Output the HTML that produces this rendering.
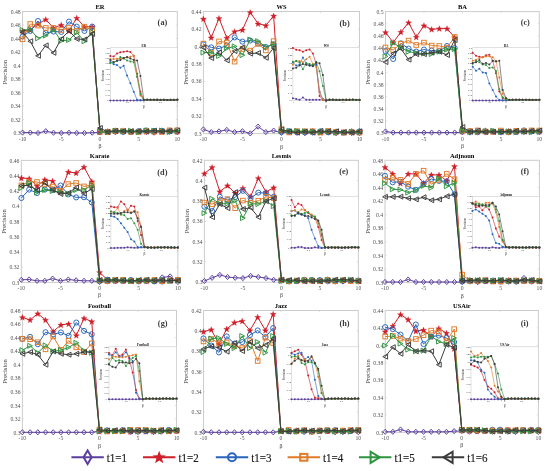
<!DOCTYPE html><html><head><meta charset="utf-8"><style>
html,body{margin:0;padding:0;background:#fff;}svg{display:block;will-change:transform;}
text{font-family:"Liberation Serif",serif;}
.tk{font-size:5.7px;fill:#505050;}
.ttl{font-size:6.5px;font-weight:bold;fill:#000;}
.let{font-size:7.4px;font-weight:bold;fill:#3a3a3a;}
.yl{font-size:6.6px;fill:#3a3a3a;}
.bl{font-size:5.9px;fill:#444;}
.itk{font-size:2.4px;fill:#333;}
.ittl{font-size:3.3px;font-weight:bold;fill:#111;}
.iyl{font-size:3.0px;fill:#333;}
.ibl{font-size:3.8px;fill:#333;}
.lg{font-size:11px;fill:#1a1a1a;stroke:#1a1a1a;stroke-width:0.15px;}
</style></head><body>
<svg width="550" height="471" viewBox="0 0 550 471">
<rect width="550" height="471" fill="#fff"/>
<text transform="translate(20.65,135.20) scale(1,1.12)" text-anchor="end" class="tk">0.3</text>
<text transform="translate(20.65,121.70) scale(1,1.12)" text-anchor="end" class="tk">0.32</text>
<path d="M22.55,119.50h1.6M177.30,119.50h-1.6" stroke="#cccccc" stroke-width="0.6"/>
<text transform="translate(20.65,108.20) scale(1,1.12)" text-anchor="end" class="tk">0.34</text>
<path d="M22.55,106.00h1.6M177.30,106.00h-1.6" stroke="#cccccc" stroke-width="0.6"/>
<text transform="translate(20.65,94.70) scale(1,1.12)" text-anchor="end" class="tk">0.36</text>
<path d="M22.55,92.50h1.6M177.30,92.50h-1.6" stroke="#cccccc" stroke-width="0.6"/>
<text transform="translate(20.65,81.20) scale(1,1.12)" text-anchor="end" class="tk">0.38</text>
<path d="M22.55,79.00h1.6M177.30,79.00h-1.6" stroke="#cccccc" stroke-width="0.6"/>
<text transform="translate(20.65,67.70) scale(1,1.12)" text-anchor="end" class="tk">0.4</text>
<path d="M22.55,65.50h1.6M177.30,65.50h-1.6" stroke="#cccccc" stroke-width="0.6"/>
<text transform="translate(20.65,54.20) scale(1,1.12)" text-anchor="end" class="tk">0.42</text>
<path d="M22.55,52.00h1.6M177.30,52.00h-1.6" stroke="#cccccc" stroke-width="0.6"/>
<text transform="translate(20.65,40.70) scale(1,1.12)" text-anchor="end" class="tk">0.44</text>
<path d="M22.55,38.50h1.6M177.30,38.50h-1.6" stroke="#cccccc" stroke-width="0.6"/>
<text transform="translate(20.65,27.20) scale(1,1.12)" text-anchor="end" class="tk">0.46</text>
<path d="M22.55,25.00h1.6M177.30,25.00h-1.6" stroke="#cccccc" stroke-width="0.6"/>
<text transform="translate(20.65,13.70) scale(1,1.12)" text-anchor="end" class="tk">0.48</text>
<text transform="translate(22.55,140.70) scale(1,1.12)" text-anchor="middle" class="tk">-10</text>
<text transform="translate(61.24,140.70) scale(1,1.12)" text-anchor="middle" class="tk">-5</text>
<path d="M61.24,133.00v-1.6M61.24,11.50v1.6" stroke="#cccccc" stroke-width="0.6"/>
<text transform="translate(99.92,140.70) scale(1,1.12)" text-anchor="middle" class="tk">0</text>
<path d="M99.92,133.00v-1.6M99.92,11.50v1.6" stroke="#cccccc" stroke-width="0.6"/>
<text transform="translate(138.61,140.70) scale(1,1.12)" text-anchor="middle" class="tk">5</text>
<path d="M138.61,133.00v-1.6M138.61,11.50v1.6" stroke="#cccccc" stroke-width="0.6"/>
<text transform="translate(177.30,140.70) scale(1,1.12)" text-anchor="middle" class="tk">10</text>
<rect x="22.55" y="11.50" width="154.75" height="121.50" fill="none" stroke="#cccccc" stroke-width="1.0"/>
<text x="99.92" y="8.90" text-anchor="middle" class="ttl">ER</text>
<text transform="translate(162.45,24.65) scale(1.12,1)" text-anchor="middle" class="let">(a)</text>
<text transform="translate(7.35,72.25) rotate(-90)" text-anchor="middle" class="yl">Precision</text>
<text x="99.92" y="148.00" text-anchor="middle" class="bl">&#946;</text>
<path d="M22.55,132.60L30.29,132.60L38.03,133.00L45.76,131.20L53.50,132.70L61.24,133.00L68.97,132.70L76.71,133.00L84.45,133.00L92.19,132.70L99.92,132.47L107.66,131.73L115.40,132.25L123.14,131.69L130.88,131.74L138.61,132.01L146.35,132.03L154.09,132.65L161.83,131.63L169.56,131.72L177.30,132.26" fill="none" stroke="#5b3f9e" stroke-width="1.0" stroke-linejoin="round"/>
<path d="M22.55,130.00L24.85,132.60L22.55,135.20L20.25,132.60Z" fill="none" stroke="#5b3f9e" stroke-width="0.95"/><path d="M30.29,130.00L32.59,132.60L30.29,135.20L27.99,132.60Z" fill="none" stroke="#5b3f9e" stroke-width="0.95"/><path d="M38.03,130.40L40.33,133.00L38.03,135.60L35.73,133.00Z" fill="none" stroke="#5b3f9e" stroke-width="0.95"/><path d="M45.76,128.60L48.06,131.20L45.76,133.80L43.46,131.20Z" fill="none" stroke="#5b3f9e" stroke-width="0.95"/><path d="M53.50,130.10L55.80,132.70L53.50,135.30L51.20,132.70Z" fill="none" stroke="#5b3f9e" stroke-width="0.95"/><path d="M61.24,130.40L63.54,133.00L61.24,135.60L58.94,133.00Z" fill="none" stroke="#5b3f9e" stroke-width="0.95"/><path d="M68.97,130.10L71.27,132.70L68.97,135.30L66.67,132.70Z" fill="none" stroke="#5b3f9e" stroke-width="0.95"/><path d="M76.71,130.40L79.01,133.00L76.71,135.60L74.41,133.00Z" fill="none" stroke="#5b3f9e" stroke-width="0.95"/><path d="M84.45,130.40L86.75,133.00L84.45,135.60L82.15,133.00Z" fill="none" stroke="#5b3f9e" stroke-width="0.95"/><path d="M92.19,130.10L94.49,132.70L92.19,135.30L89.89,132.70Z" fill="none" stroke="#5b3f9e" stroke-width="0.95"/><path d="M99.92,129.87L102.22,132.47L99.92,135.07L97.62,132.47Z" fill="none" stroke="#5b3f9e" stroke-width="0.95"/><path d="M107.66,129.13L109.96,131.73L107.66,134.33L105.36,131.73Z" fill="none" stroke="#5b3f9e" stroke-width="0.95"/><path d="M115.40,129.65L117.70,132.25L115.40,134.85L113.10,132.25Z" fill="none" stroke="#5b3f9e" stroke-width="0.95"/><path d="M123.14,129.09L125.44,131.69L123.14,134.29L120.84,131.69Z" fill="none" stroke="#5b3f9e" stroke-width="0.95"/><path d="M130.88,129.14L133.18,131.74L130.88,134.34L128.57,131.74Z" fill="none" stroke="#5b3f9e" stroke-width="0.95"/><path d="M138.61,129.41L140.91,132.01L138.61,134.61L136.31,132.01Z" fill="none" stroke="#5b3f9e" stroke-width="0.95"/><path d="M146.35,129.43L148.65,132.03L146.35,134.63L144.05,132.03Z" fill="none" stroke="#5b3f9e" stroke-width="0.95"/><path d="M154.09,130.05L156.39,132.65L154.09,135.25L151.79,132.65Z" fill="none" stroke="#5b3f9e" stroke-width="0.95"/><path d="M161.83,129.03L164.13,131.63L161.83,134.23L159.53,131.63Z" fill="none" stroke="#5b3f9e" stroke-width="0.95"/><path d="M169.56,129.12L171.86,131.72L169.56,134.32L167.26,131.72Z" fill="none" stroke="#5b3f9e" stroke-width="0.95"/><path d="M177.30,129.66L179.60,132.26L177.30,134.86L175.00,132.26Z" fill="none" stroke="#5b3f9e" stroke-width="0.95"/>
<path d="M22.55,30.94L30.29,29.99L38.03,23.99L45.76,19.46L53.50,27.97L61.24,25.00L68.97,30.94L76.71,18.05L84.45,26.96L92.19,26.69L99.92,131.97L107.66,131.31L115.40,130.89L123.14,130.62L130.88,131.66L138.61,131.55L146.35,131.65L154.09,131.36L161.83,131.76L169.56,130.55L177.30,131.68" fill="none" stroke="#cf1f2a" stroke-width="1.0" stroke-linejoin="round"/>
<polygon points="22.55,28.04 23.34,30.15 25.59,30.25 23.83,31.66 24.43,33.83 22.55,32.59 20.67,33.83 21.27,31.66 19.51,30.25 21.76,30.15" fill="#cf1f2a" stroke="#cf1f2a" stroke-width="0.3"/><polygon points="30.29,27.09 31.08,29.20 33.33,29.31 31.57,30.71 32.17,32.88 30.29,31.64 28.41,32.88 29.00,30.71 27.24,29.31 29.49,29.20" fill="#cf1f2a" stroke="#cf1f2a" stroke-width="0.3"/><polygon points="38.03,21.09 38.82,23.20 41.07,23.30 39.31,24.70 39.91,26.88 38.03,25.64 36.14,26.88 36.74,24.70 34.98,23.30 37.23,23.20" fill="#cf1f2a" stroke="#cf1f2a" stroke-width="0.3"/><polygon points="45.76,16.56 46.56,18.67 48.81,18.78 47.05,20.18 47.64,22.35 45.76,21.11 43.88,22.35 44.48,20.18 42.72,18.78 44.97,18.67" fill="#cf1f2a" stroke="#cf1f2a" stroke-width="0.3"/><polygon points="53.50,25.07 54.29,27.18 56.54,27.28 54.78,28.69 55.38,30.86 53.50,29.62 51.62,30.86 52.22,28.69 50.46,27.28 52.71,27.18" fill="#cf1f2a" stroke="#cf1f2a" stroke-width="0.3"/><polygon points="61.24,22.10 62.03,24.21 64.28,24.31 62.52,25.72 63.12,27.89 61.24,26.65 59.36,27.89 59.95,25.72 58.19,24.31 60.44,24.21" fill="#cf1f2a" stroke="#cf1f2a" stroke-width="0.3"/><polygon points="68.97,28.04 69.77,30.15 72.02,30.25 70.26,31.66 70.86,33.83 68.97,32.59 67.09,33.83 67.69,31.66 65.93,30.25 68.18,30.15" fill="#cf1f2a" stroke="#cf1f2a" stroke-width="0.3"/><polygon points="76.71,15.15 77.51,17.26 79.76,17.36 78.00,18.76 78.59,20.94 76.71,19.70 74.83,20.94 75.43,18.76 73.67,17.36 75.92,17.26" fill="#cf1f2a" stroke="#cf1f2a" stroke-width="0.3"/><polygon points="84.45,24.06 85.24,26.17 87.49,26.27 85.73,27.67 86.33,29.85 84.45,28.61 82.57,29.85 83.17,27.67 81.41,26.27 83.66,26.17" fill="#cf1f2a" stroke="#cf1f2a" stroke-width="0.3"/><polygon points="92.19,23.79 92.98,25.90 95.23,26.00 93.47,27.40 94.07,29.58 92.19,28.34 90.31,29.58 90.90,27.40 89.14,26.00 91.39,25.90" fill="#cf1f2a" stroke="#cf1f2a" stroke-width="0.3"/><polygon points="99.92,129.07 100.72,131.18 102.97,131.28 101.21,132.69 101.81,134.86 99.92,133.62 98.04,134.86 98.64,132.69 96.88,131.28 99.13,131.18" fill="#cf1f2a" stroke="#cf1f2a" stroke-width="0.3"/><polygon points="107.66,128.41 108.46,130.52 110.71,130.62 108.95,132.03 109.54,134.20 107.66,132.96 105.78,134.20 106.38,132.03 104.62,130.62 106.87,130.52" fill="#cf1f2a" stroke="#cf1f2a" stroke-width="0.3"/><polygon points="115.40,127.99 116.19,130.10 118.44,130.20 116.68,131.61 117.28,133.78 115.40,132.54 113.52,133.78 114.12,131.61 112.36,130.20 114.61,130.10" fill="#cf1f2a" stroke="#cf1f2a" stroke-width="0.3"/><polygon points="123.14,127.72 123.93,129.83 126.18,129.93 124.42,131.34 125.02,133.51 123.14,132.27 121.26,133.51 121.85,131.34 120.09,129.93 122.34,129.83" fill="#cf1f2a" stroke="#cf1f2a" stroke-width="0.3"/><polygon points="130.88,128.76 131.67,130.87 133.92,130.98 132.16,132.38 132.76,134.55 130.88,133.31 128.99,134.55 129.59,132.38 127.83,130.98 130.08,130.87" fill="#cf1f2a" stroke="#cf1f2a" stroke-width="0.3"/><polygon points="138.61,128.65 139.41,130.76 141.66,130.86 139.90,132.27 140.49,134.44 138.61,133.20 136.73,134.44 137.33,132.27 135.57,130.86 137.82,130.76" fill="#cf1f2a" stroke="#cf1f2a" stroke-width="0.3"/><polygon points="146.35,128.75 147.14,130.85 149.39,130.96 147.63,132.36 148.23,134.53 146.35,133.30 144.47,134.53 145.07,132.36 143.31,130.96 145.56,130.85" fill="#cf1f2a" stroke="#cf1f2a" stroke-width="0.3"/><polygon points="154.09,128.46 154.88,130.57 157.13,130.67 155.37,132.08 155.97,134.25 154.09,133.01 152.21,134.25 152.80,132.08 151.04,130.67 153.29,130.57" fill="#cf1f2a" stroke="#cf1f2a" stroke-width="0.3"/><polygon points="161.83,128.86 162.62,130.97 164.87,131.07 163.11,132.48 163.71,134.65 161.83,133.41 159.94,134.65 160.54,132.48 158.78,131.07 161.03,130.97" fill="#cf1f2a" stroke="#cf1f2a" stroke-width="0.3"/><polygon points="169.56,127.65 170.36,129.75 172.61,129.86 170.85,131.26 171.44,133.44 169.56,132.20 167.68,133.44 168.28,131.26 166.52,129.86 168.77,129.75" fill="#cf1f2a" stroke="#cf1f2a" stroke-width="0.3"/><polygon points="177.30,128.78 178.09,130.89 180.34,130.99 178.58,132.40 179.18,134.57 177.30,133.33 175.42,134.57 176.02,132.40 174.26,130.99 176.51,130.89" fill="#cf1f2a" stroke="#cf1f2a" stroke-width="0.3"/>
<path d="M22.55,36.54L30.29,30.94L38.03,21.02L45.76,32.97L53.50,31.55L61.24,31.95L68.97,21.62L76.71,26.62L84.45,30.94L92.19,26.62L99.92,131.12L107.66,131.98L115.40,130.75L123.14,131.90L130.88,131.98L138.61,131.14L146.35,130.47L154.09,130.98L161.83,130.76L169.56,131.28L177.30,130.34" fill="none" stroke="#2865bb" stroke-width="1.0" stroke-linejoin="round"/>
<circle cx="22.55" cy="36.54" r="2.55" fill="none" stroke="#2865bb" stroke-width="0.95"/><circle cx="30.29" cy="30.94" r="2.55" fill="none" stroke="#2865bb" stroke-width="0.95"/><circle cx="38.03" cy="21.02" r="2.55" fill="none" stroke="#2865bb" stroke-width="0.95"/><circle cx="45.76" cy="32.97" r="2.55" fill="none" stroke="#2865bb" stroke-width="0.95"/><circle cx="53.50" cy="31.55" r="2.55" fill="none" stroke="#2865bb" stroke-width="0.95"/><circle cx="61.24" cy="31.95" r="2.55" fill="none" stroke="#2865bb" stroke-width="0.95"/><circle cx="68.97" cy="21.62" r="2.55" fill="none" stroke="#2865bb" stroke-width="0.95"/><circle cx="76.71" cy="26.62" r="2.55" fill="none" stroke="#2865bb" stroke-width="0.95"/><circle cx="84.45" cy="30.94" r="2.55" fill="none" stroke="#2865bb" stroke-width="0.95"/><circle cx="92.19" cy="26.62" r="2.55" fill="none" stroke="#2865bb" stroke-width="0.95"/><circle cx="99.92" cy="131.12" r="2.55" fill="none" stroke="#2865bb" stroke-width="0.95"/><circle cx="107.66" cy="131.98" r="2.55" fill="none" stroke="#2865bb" stroke-width="0.95"/><circle cx="115.40" cy="130.75" r="2.55" fill="none" stroke="#2865bb" stroke-width="0.95"/><circle cx="123.14" cy="131.90" r="2.55" fill="none" stroke="#2865bb" stroke-width="0.95"/><circle cx="130.88" cy="131.98" r="2.55" fill="none" stroke="#2865bb" stroke-width="0.95"/><circle cx="138.61" cy="131.14" r="2.55" fill="none" stroke="#2865bb" stroke-width="0.95"/><circle cx="146.35" cy="130.47" r="2.55" fill="none" stroke="#2865bb" stroke-width="0.95"/><circle cx="154.09" cy="130.98" r="2.55" fill="none" stroke="#2865bb" stroke-width="0.95"/><circle cx="161.83" cy="130.76" r="2.55" fill="none" stroke="#2865bb" stroke-width="0.95"/><circle cx="169.56" cy="131.28" r="2.55" fill="none" stroke="#2865bb" stroke-width="0.95"/><circle cx="177.30" cy="130.34" r="2.55" fill="none" stroke="#2865bb" stroke-width="0.95"/>
<path d="M22.55,39.31L30.29,23.99L38.03,25.61L45.76,27.97L53.50,27.97L61.24,29.99L68.97,27.97L76.71,30.94L84.45,26.62L92.19,29.99L99.92,131.67L107.66,132.06L115.40,131.05L123.14,131.19L130.88,131.74L138.61,131.96L146.35,131.03L154.09,131.66L161.83,131.85L169.56,130.34L177.30,130.34" fill="none" stroke="#e07b2a" stroke-width="1.0" stroke-linejoin="round"/>
<rect x="20.25" y="37.01" width="4.60" height="4.60" fill="none" stroke="#e07b2a" stroke-width="0.95"/><rect x="27.99" y="21.69" width="4.60" height="4.60" fill="none" stroke="#e07b2a" stroke-width="0.95"/><rect x="35.73" y="23.31" width="4.60" height="4.60" fill="none" stroke="#e07b2a" stroke-width="0.95"/><rect x="43.46" y="25.67" width="4.60" height="4.60" fill="none" stroke="#e07b2a" stroke-width="0.95"/><rect x="51.20" y="25.67" width="4.60" height="4.60" fill="none" stroke="#e07b2a" stroke-width="0.95"/><rect x="58.94" y="27.69" width="4.60" height="4.60" fill="none" stroke="#e07b2a" stroke-width="0.95"/><rect x="66.67" y="25.67" width="4.60" height="4.60" fill="none" stroke="#e07b2a" stroke-width="0.95"/><rect x="74.41" y="28.64" width="4.60" height="4.60" fill="none" stroke="#e07b2a" stroke-width="0.95"/><rect x="82.15" y="24.32" width="4.60" height="4.60" fill="none" stroke="#e07b2a" stroke-width="0.95"/><rect x="89.89" y="27.69" width="4.60" height="4.60" fill="none" stroke="#e07b2a" stroke-width="0.95"/><rect x="97.62" y="129.37" width="4.60" height="4.60" fill="none" stroke="#e07b2a" stroke-width="0.95"/><rect x="105.36" y="129.76" width="4.60" height="4.60" fill="none" stroke="#e07b2a" stroke-width="0.95"/><rect x="113.10" y="128.75" width="4.60" height="4.60" fill="none" stroke="#e07b2a" stroke-width="0.95"/><rect x="120.84" y="128.89" width="4.60" height="4.60" fill="none" stroke="#e07b2a" stroke-width="0.95"/><rect x="128.57" y="129.44" width="4.60" height="4.60" fill="none" stroke="#e07b2a" stroke-width="0.95"/><rect x="136.31" y="129.66" width="4.60" height="4.60" fill="none" stroke="#e07b2a" stroke-width="0.95"/><rect x="144.05" y="128.73" width="4.60" height="4.60" fill="none" stroke="#e07b2a" stroke-width="0.95"/><rect x="151.79" y="129.36" width="4.60" height="4.60" fill="none" stroke="#e07b2a" stroke-width="0.95"/><rect x="159.53" y="129.55" width="4.60" height="4.60" fill="none" stroke="#e07b2a" stroke-width="0.95"/><rect x="167.26" y="128.04" width="4.60" height="4.60" fill="none" stroke="#e07b2a" stroke-width="0.95"/><rect x="175.00" y="128.04" width="4.60" height="4.60" fill="none" stroke="#e07b2a" stroke-width="0.95"/>
<path d="M22.55,29.99L30.29,29.59L38.03,38.30L45.76,35.53L53.50,29.99L61.24,40.86L68.97,39.92L76.71,32.56L84.45,41.27L92.19,31.95L99.92,131.82L107.66,132.08L115.40,130.77L123.14,131.25L130.88,130.76L138.61,132.01L146.35,130.44L154.09,130.78L161.83,130.50L169.56,132.02L177.30,131.14" fill="none" stroke="#2e9440" stroke-width="1.0" stroke-linejoin="round"/>
<path d="M24.95,29.99L20.15,27.49L20.15,32.49Z" fill="none" stroke="#2e9440" stroke-width="0.95"/><path d="M32.69,29.59L27.89,27.09L27.89,32.09Z" fill="none" stroke="#2e9440" stroke-width="0.95"/><path d="M40.43,38.30L35.63,35.80L35.63,40.80Z" fill="none" stroke="#2e9440" stroke-width="0.95"/><path d="M48.16,35.53L43.36,33.03L43.36,38.03Z" fill="none" stroke="#2e9440" stroke-width="0.95"/><path d="M55.90,29.99L51.10,27.49L51.10,32.49Z" fill="none" stroke="#2e9440" stroke-width="0.95"/><path d="M63.64,40.86L58.84,38.36L58.84,43.36Z" fill="none" stroke="#2e9440" stroke-width="0.95"/><path d="M71.38,39.92L66.57,37.42L66.57,42.42Z" fill="none" stroke="#2e9440" stroke-width="0.95"/><path d="M79.11,32.56L74.31,30.06L74.31,35.06Z" fill="none" stroke="#2e9440" stroke-width="0.95"/><path d="M86.85,41.27L82.05,38.77L82.05,43.77Z" fill="none" stroke="#2e9440" stroke-width="0.95"/><path d="M94.59,31.95L89.79,29.45L89.79,34.45Z" fill="none" stroke="#2e9440" stroke-width="0.95"/><path d="M102.33,131.82L97.52,129.32L97.52,134.32Z" fill="none" stroke="#2e9440" stroke-width="0.95"/><path d="M110.06,132.08L105.26,129.58L105.26,134.58Z" fill="none" stroke="#2e9440" stroke-width="0.95"/><path d="M117.80,130.77L113.00,128.27L113.00,133.27Z" fill="none" stroke="#2e9440" stroke-width="0.95"/><path d="M125.54,131.25L120.74,128.75L120.74,133.75Z" fill="none" stroke="#2e9440" stroke-width="0.95"/><path d="M133.28,130.76L128.47,128.26L128.47,133.26Z" fill="none" stroke="#2e9440" stroke-width="0.95"/><path d="M141.01,132.01L136.21,129.51L136.21,134.51Z" fill="none" stroke="#2e9440" stroke-width="0.95"/><path d="M148.75,130.44L143.95,127.94L143.95,132.94Z" fill="none" stroke="#2e9440" stroke-width="0.95"/><path d="M156.49,130.78L151.69,128.28L151.69,133.28Z" fill="none" stroke="#2e9440" stroke-width="0.95"/><path d="M164.23,130.50L159.43,128.00L159.43,133.00Z" fill="none" stroke="#2e9440" stroke-width="0.95"/><path d="M171.96,132.02L167.16,129.52L167.16,134.52Z" fill="none" stroke="#2e9440" stroke-width="0.95"/><path d="M179.70,131.14L174.90,128.64L174.90,133.64Z" fill="none" stroke="#2e9440" stroke-width="0.95"/>
<path d="M22.55,32.36L30.29,41.27L38.03,55.78L45.76,45.45L53.50,52.81L61.24,38.90L68.97,30.94L76.71,38.90L84.45,39.51L92.19,33.91L99.92,128.00L107.66,132.01L115.40,130.89L123.14,131.13L130.88,131.09L138.61,131.11L146.35,131.37L154.09,130.70L161.83,131.31L169.56,130.99L177.30,130.70" fill="none" stroke="#3c3c3c" stroke-width="1.0" stroke-linejoin="round"/>
<path d="M20.15,32.36L24.95,29.86L24.95,34.86Z" fill="none" stroke="#3c3c3c" stroke-width="0.95"/><path d="M27.89,41.27L32.69,38.77L32.69,43.77Z" fill="none" stroke="#3c3c3c" stroke-width="0.95"/><path d="M35.63,55.78L40.43,53.28L40.43,58.28Z" fill="none" stroke="#3c3c3c" stroke-width="0.95"/><path d="M43.36,45.45L48.16,42.95L48.16,47.95Z" fill="none" stroke="#3c3c3c" stroke-width="0.95"/><path d="M51.10,52.81L55.90,50.31L55.90,55.31Z" fill="none" stroke="#3c3c3c" stroke-width="0.95"/><path d="M58.84,38.90L63.64,36.40L63.64,41.40Z" fill="none" stroke="#3c3c3c" stroke-width="0.95"/><path d="M66.57,30.94L71.38,28.44L71.38,33.44Z" fill="none" stroke="#3c3c3c" stroke-width="0.95"/><path d="M74.31,38.90L79.11,36.40L79.11,41.40Z" fill="none" stroke="#3c3c3c" stroke-width="0.95"/><path d="M82.05,39.51L86.85,37.01L86.85,42.01Z" fill="none" stroke="#3c3c3c" stroke-width="0.95"/><path d="M89.79,33.91L94.59,31.41L94.59,36.41Z" fill="none" stroke="#3c3c3c" stroke-width="0.95"/><path d="M97.52,128.00L102.33,125.50L102.33,130.50Z" fill="none" stroke="#3c3c3c" stroke-width="0.95"/><path d="M105.26,132.01L110.06,129.51L110.06,134.51Z" fill="none" stroke="#3c3c3c" stroke-width="0.95"/><path d="M113.00,130.89L117.80,128.39L117.80,133.39Z" fill="none" stroke="#3c3c3c" stroke-width="0.95"/><path d="M120.74,131.13L125.54,128.63L125.54,133.63Z" fill="none" stroke="#3c3c3c" stroke-width="0.95"/><path d="M128.47,131.09L133.28,128.59L133.28,133.59Z" fill="none" stroke="#3c3c3c" stroke-width="0.95"/><path d="M136.21,131.11L141.01,128.61L141.01,133.61Z" fill="none" stroke="#3c3c3c" stroke-width="0.95"/><path d="M143.95,131.37L148.75,128.87L148.75,133.87Z" fill="none" stroke="#3c3c3c" stroke-width="0.95"/><path d="M151.69,130.70L156.49,128.20L156.49,133.20Z" fill="none" stroke="#3c3c3c" stroke-width="0.95"/><path d="M159.43,131.31L164.23,128.81L164.23,133.81Z" fill="none" stroke="#3c3c3c" stroke-width="0.95"/><path d="M167.16,130.99L171.96,128.49L171.96,133.49Z" fill="none" stroke="#3c3c3c" stroke-width="0.95"/><path d="M174.90,130.70L179.70,128.20L179.70,133.20Z" fill="none" stroke="#3c3c3c" stroke-width="0.95"/>
<rect x="110.30" y="47.70" width="67.00" height="52.80" fill="#fff" stroke="#cccccc" stroke-width="0.6"/>
<text x="109.70" y="101.30" text-anchor="end" class="itk">0.3</text>
<text x="109.70" y="96.02" text-anchor="end" class="itk">0.32</text>
<text x="109.70" y="90.74" text-anchor="end" class="itk">0.34</text>
<text x="109.70" y="85.46" text-anchor="end" class="itk">0.36</text>
<text x="109.70" y="80.18" text-anchor="end" class="itk">0.38</text>
<text x="109.70" y="74.90" text-anchor="end" class="itk">0.4</text>
<text x="109.70" y="69.62" text-anchor="end" class="itk">0.42</text>
<text x="109.70" y="64.34" text-anchor="end" class="itk">0.44</text>
<text x="109.70" y="59.06" text-anchor="end" class="itk">0.46</text>
<text x="109.70" y="53.78" text-anchor="end" class="itk">0.48</text>
<text x="109.70" y="48.50" text-anchor="end" class="itk">0.5</text>
<text x="110.30" y="103.40" text-anchor="middle" class="itk">-1</text>
<text x="127.05" y="103.40" text-anchor="middle" class="itk">-0.5</text>
<text x="143.80" y="103.40" text-anchor="middle" class="itk">0</text>
<text x="160.55" y="103.40" text-anchor="middle" class="itk">0.5</text>
<text x="177.30" y="103.40" text-anchor="middle" class="itk">1</text>
<text x="143.80" y="47.00" text-anchor="middle" class="ittl">ER</text>
<text transform="translate(103.70,75.60) rotate(-90)" text-anchor="middle" class="iyl">Precision</text>
<text x="143.80" y="107.70" text-anchor="middle" class="ibl">&#946;</text>
<path d="M110.30,100.50L113.65,100.50L117.00,100.50L120.35,100.50L123.70,100.50L127.05,100.50L130.40,100.50L133.75,100.50L137.10,100.50L140.45,100.50L143.80,100.50L147.15,99.80L150.50,99.96L153.85,99.66L157.20,99.61L160.55,99.98L163.90,100.01L167.25,99.95L170.60,99.85L173.95,99.85L177.30,99.60" fill="none" stroke="#5b3f9e" stroke-width="0.6"/>
<circle cx="110.30" cy="100.50" r="1.0" fill="#5b3f9e"/><circle cx="113.65" cy="100.50" r="1.0" fill="#5b3f9e"/><circle cx="117.00" cy="100.50" r="1.0" fill="#5b3f9e"/><circle cx="120.35" cy="100.50" r="1.0" fill="#5b3f9e"/><circle cx="123.70" cy="100.50" r="1.0" fill="#5b3f9e"/><circle cx="127.05" cy="100.50" r="1.0" fill="#5b3f9e"/><circle cx="130.40" cy="100.50" r="1.0" fill="#5b3f9e"/><circle cx="133.75" cy="100.50" r="1.0" fill="#5b3f9e"/><circle cx="137.10" cy="100.50" r="1.0" fill="#5b3f9e"/><circle cx="140.45" cy="100.50" r="1.0" fill="#5b3f9e"/><circle cx="143.80" cy="100.50" r="1.0" fill="#5b3f9e"/><circle cx="147.15" cy="99.80" r="1.0" fill="#5b3f9e"/><circle cx="150.50" cy="99.96" r="1.0" fill="#5b3f9e"/><circle cx="153.85" cy="99.66" r="1.0" fill="#5b3f9e"/><circle cx="157.20" cy="99.61" r="1.0" fill="#5b3f9e"/><circle cx="160.55" cy="99.98" r="1.0" fill="#5b3f9e"/><circle cx="163.90" cy="100.01" r="1.0" fill="#5b3f9e"/><circle cx="167.25" cy="99.95" r="1.0" fill="#5b3f9e"/><circle cx="170.60" cy="99.85" r="1.0" fill="#5b3f9e"/><circle cx="173.95" cy="99.85" r="1.0" fill="#5b3f9e"/><circle cx="177.30" cy="99.60" r="1.0" fill="#5b3f9e"/>
<path d="M110.30,55.95L113.65,56.38L117.00,53.49L120.35,52.33L123.70,51.75L127.05,51.32L130.40,52.04L133.75,55.66L137.10,73.74L140.45,91.82L143.80,100.07L147.15,99.75L150.50,99.81L153.85,100.00L157.20,99.86L160.55,99.66L163.90,99.82L167.25,100.09L170.60,99.95L173.95,100.08L177.30,99.83" fill="none" stroke="#cf1f2a" stroke-width="0.6"/>
<circle cx="110.30" cy="55.95" r="1.0" fill="#cf1f2a"/><circle cx="113.65" cy="56.38" r="1.0" fill="#cf1f2a"/><circle cx="117.00" cy="53.49" r="1.0" fill="#cf1f2a"/><circle cx="120.35" cy="52.33" r="1.0" fill="#cf1f2a"/><circle cx="123.70" cy="51.75" r="1.0" fill="#cf1f2a"/><circle cx="127.05" cy="51.32" r="1.0" fill="#cf1f2a"/><circle cx="130.40" cy="52.04" r="1.0" fill="#cf1f2a"/><circle cx="133.75" cy="55.66" r="1.0" fill="#cf1f2a"/><circle cx="137.10" cy="73.74" r="1.0" fill="#cf1f2a"/><circle cx="140.45" cy="91.82" r="1.0" fill="#cf1f2a"/><circle cx="143.80" cy="100.07" r="1.0" fill="#cf1f2a"/><circle cx="147.15" cy="99.75" r="1.0" fill="#cf1f2a"/><circle cx="150.50" cy="99.81" r="1.0" fill="#cf1f2a"/><circle cx="153.85" cy="100.00" r="1.0" fill="#cf1f2a"/><circle cx="157.20" cy="99.86" r="1.0" fill="#cf1f2a"/><circle cx="160.55" cy="99.66" r="1.0" fill="#cf1f2a"/><circle cx="163.90" cy="99.82" r="1.0" fill="#cf1f2a"/><circle cx="167.25" cy="100.09" r="1.0" fill="#cf1f2a"/><circle cx="170.60" cy="99.95" r="1.0" fill="#cf1f2a"/><circle cx="173.95" cy="100.08" r="1.0" fill="#cf1f2a"/><circle cx="177.30" cy="99.83" r="1.0" fill="#cf1f2a"/>
<path d="M110.30,61.88L113.65,64.34L117.00,65.06L120.35,67.66L123.70,65.78L127.05,75.47L130.40,83.14L133.75,91.82L137.10,99.78L140.45,100.07L143.80,100.07L147.15,99.64L150.50,99.68L153.85,100.08L157.20,99.67L160.55,99.96L163.90,99.64L167.25,99.91L170.60,99.73L173.95,99.84L177.30,100.02" fill="none" stroke="#2865bb" stroke-width="0.6"/>
<circle cx="110.30" cy="61.88" r="1.0" fill="#2865bb"/><circle cx="113.65" cy="64.34" r="1.0" fill="#2865bb"/><circle cx="117.00" cy="65.06" r="1.0" fill="#2865bb"/><circle cx="120.35" cy="67.66" r="1.0" fill="#2865bb"/><circle cx="123.70" cy="65.78" r="1.0" fill="#2865bb"/><circle cx="127.05" cy="75.47" r="1.0" fill="#2865bb"/><circle cx="130.40" cy="83.14" r="1.0" fill="#2865bb"/><circle cx="133.75" cy="91.82" r="1.0" fill="#2865bb"/><circle cx="137.10" cy="99.78" r="1.0" fill="#2865bb"/><circle cx="140.45" cy="100.07" r="1.0" fill="#2865bb"/><circle cx="143.80" cy="100.07" r="1.0" fill="#2865bb"/><circle cx="147.15" cy="99.64" r="1.0" fill="#2865bb"/><circle cx="150.50" cy="99.68" r="1.0" fill="#2865bb"/><circle cx="153.85" cy="100.08" r="1.0" fill="#2865bb"/><circle cx="157.20" cy="99.67" r="1.0" fill="#2865bb"/><circle cx="160.55" cy="99.96" r="1.0" fill="#2865bb"/><circle cx="163.90" cy="99.64" r="1.0" fill="#2865bb"/><circle cx="167.25" cy="99.91" r="1.0" fill="#2865bb"/><circle cx="170.60" cy="99.73" r="1.0" fill="#2865bb"/><circle cx="173.95" cy="99.84" r="1.0" fill="#2865bb"/><circle cx="177.30" cy="100.02" r="1.0" fill="#2865bb"/>
<path d="M110.30,59.27L113.65,58.98L117.00,58.84L120.35,58.26L123.70,58.12L127.05,57.54L130.40,56.81L133.75,55.66L137.10,76.63L140.45,95.44L143.80,100.07L147.15,99.85L150.50,99.67L153.85,99.88L157.20,99.84L160.55,99.88L163.90,99.63L167.25,100.00L170.60,99.86L173.95,99.71L177.30,99.68" fill="none" stroke="#e07b2a" stroke-width="0.6"/>
<circle cx="110.30" cy="59.27" r="1.0" fill="#e07b2a"/><circle cx="113.65" cy="58.98" r="1.0" fill="#e07b2a"/><circle cx="117.00" cy="58.84" r="1.0" fill="#e07b2a"/><circle cx="120.35" cy="58.26" r="1.0" fill="#e07b2a"/><circle cx="123.70" cy="58.12" r="1.0" fill="#e07b2a"/><circle cx="127.05" cy="57.54" r="1.0" fill="#e07b2a"/><circle cx="130.40" cy="56.81" r="1.0" fill="#e07b2a"/><circle cx="133.75" cy="55.66" r="1.0" fill="#e07b2a"/><circle cx="137.10" cy="76.63" r="1.0" fill="#e07b2a"/><circle cx="140.45" cy="95.44" r="1.0" fill="#e07b2a"/><circle cx="143.80" cy="100.07" r="1.0" fill="#e07b2a"/><circle cx="147.15" cy="99.85" r="1.0" fill="#e07b2a"/><circle cx="150.50" cy="99.67" r="1.0" fill="#e07b2a"/><circle cx="153.85" cy="99.88" r="1.0" fill="#e07b2a"/><circle cx="157.20" cy="99.84" r="1.0" fill="#e07b2a"/><circle cx="160.55" cy="99.88" r="1.0" fill="#e07b2a"/><circle cx="163.90" cy="99.63" r="1.0" fill="#e07b2a"/><circle cx="167.25" cy="100.00" r="1.0" fill="#e07b2a"/><circle cx="170.60" cy="99.86" r="1.0" fill="#e07b2a"/><circle cx="173.95" cy="99.71" r="1.0" fill="#e07b2a"/><circle cx="177.30" cy="99.68" r="1.0" fill="#e07b2a"/>
<path d="M110.30,62.89L113.65,62.60L117.00,60.72L120.35,57.10L123.70,58.55L127.05,60.43L130.40,61.44L133.75,62.17L137.10,76.63L140.45,93.99L143.80,100.07L147.15,99.91L150.50,99.95L153.85,99.66L157.20,100.01L160.55,99.65L163.90,99.65L167.25,100.10L170.60,99.97L173.95,100.00L177.30,99.97" fill="none" stroke="#2e9440" stroke-width="0.6"/>
<circle cx="110.30" cy="62.89" r="1.0" fill="#2e9440"/><circle cx="113.65" cy="62.60" r="1.0" fill="#2e9440"/><circle cx="117.00" cy="60.72" r="1.0" fill="#2e9440"/><circle cx="120.35" cy="57.10" r="1.0" fill="#2e9440"/><circle cx="123.70" cy="58.55" r="1.0" fill="#2e9440"/><circle cx="127.05" cy="60.43" r="1.0" fill="#2e9440"/><circle cx="130.40" cy="61.44" r="1.0" fill="#2e9440"/><circle cx="133.75" cy="62.17" r="1.0" fill="#2e9440"/><circle cx="137.10" cy="76.63" r="1.0" fill="#2e9440"/><circle cx="140.45" cy="93.99" r="1.0" fill="#2e9440"/><circle cx="143.80" cy="100.07" r="1.0" fill="#2e9440"/><circle cx="147.15" cy="99.91" r="1.0" fill="#2e9440"/><circle cx="150.50" cy="99.95" r="1.0" fill="#2e9440"/><circle cx="153.85" cy="99.66" r="1.0" fill="#2e9440"/><circle cx="157.20" cy="100.01" r="1.0" fill="#2e9440"/><circle cx="160.55" cy="99.65" r="1.0" fill="#2e9440"/><circle cx="163.90" cy="99.65" r="1.0" fill="#2e9440"/><circle cx="167.25" cy="100.10" r="1.0" fill="#2e9440"/><circle cx="170.60" cy="99.97" r="1.0" fill="#2e9440"/><circle cx="173.95" cy="100.00" r="1.0" fill="#2e9440"/><circle cx="177.30" cy="99.97" r="1.0" fill="#2e9440"/>
<path d="M110.30,60.00L113.65,62.17L117.00,60.72L120.35,60.00L123.70,58.12L127.05,57.10L130.40,58.55L133.75,60.00L137.10,60.43L140.45,75.91L143.80,99.78L147.15,99.79L150.50,99.71L153.85,99.86L157.20,100.03L160.55,100.07L163.90,99.96L167.25,99.94L170.60,100.03L173.95,100.03L177.30,99.81" fill="none" stroke="#3c3c3c" stroke-width="0.6"/>
<circle cx="110.30" cy="60.00" r="1.0" fill="#3c3c3c"/><circle cx="113.65" cy="62.17" r="1.0" fill="#3c3c3c"/><circle cx="117.00" cy="60.72" r="1.0" fill="#3c3c3c"/><circle cx="120.35" cy="60.00" r="1.0" fill="#3c3c3c"/><circle cx="123.70" cy="58.12" r="1.0" fill="#3c3c3c"/><circle cx="127.05" cy="57.10" r="1.0" fill="#3c3c3c"/><circle cx="130.40" cy="58.55" r="1.0" fill="#3c3c3c"/><circle cx="133.75" cy="60.00" r="1.0" fill="#3c3c3c"/><circle cx="137.10" cy="60.43" r="1.0" fill="#3c3c3c"/><circle cx="140.45" cy="75.91" r="1.0" fill="#3c3c3c"/><circle cx="143.80" cy="99.78" r="1.0" fill="#3c3c3c"/><circle cx="147.15" cy="99.79" r="1.0" fill="#3c3c3c"/><circle cx="150.50" cy="99.71" r="1.0" fill="#3c3c3c"/><circle cx="153.85" cy="99.86" r="1.0" fill="#3c3c3c"/><circle cx="157.20" cy="100.03" r="1.0" fill="#3c3c3c"/><circle cx="160.55" cy="100.07" r="1.0" fill="#3c3c3c"/><circle cx="163.90" cy="99.96" r="1.0" fill="#3c3c3c"/><circle cx="167.25" cy="99.94" r="1.0" fill="#3c3c3c"/><circle cx="170.60" cy="100.03" r="1.0" fill="#3c3c3c"/><circle cx="173.95" cy="100.03" r="1.0" fill="#3c3c3c"/><circle cx="177.30" cy="99.81" r="1.0" fill="#3c3c3c"/>
<text transform="translate(201.50,135.80) scale(1,1.12)" text-anchor="end" class="tk">0.3</text>
<text transform="translate(201.50,118.36) scale(1,1.12)" text-anchor="end" class="tk">0.32</text>
<path d="M203.40,116.16h1.6M359.50,116.16h-1.6" stroke="#cccccc" stroke-width="0.6"/>
<text transform="translate(201.50,100.91) scale(1,1.12)" text-anchor="end" class="tk">0.34</text>
<path d="M203.40,98.71h1.6M359.50,98.71h-1.6" stroke="#cccccc" stroke-width="0.6"/>
<text transform="translate(201.50,83.47) scale(1,1.12)" text-anchor="end" class="tk">0.36</text>
<path d="M203.40,81.27h1.6M359.50,81.27h-1.6" stroke="#cccccc" stroke-width="0.6"/>
<text transform="translate(201.50,66.03) scale(1,1.12)" text-anchor="end" class="tk">0.38</text>
<path d="M203.40,63.83h1.6M359.50,63.83h-1.6" stroke="#cccccc" stroke-width="0.6"/>
<text transform="translate(201.50,48.59) scale(1,1.12)" text-anchor="end" class="tk">0.4</text>
<path d="M203.40,46.39h1.6M359.50,46.39h-1.6" stroke="#cccccc" stroke-width="0.6"/>
<text transform="translate(201.50,31.14) scale(1,1.12)" text-anchor="end" class="tk">0.42</text>
<path d="M203.40,28.94h1.6M359.50,28.94h-1.6" stroke="#cccccc" stroke-width="0.6"/>
<text transform="translate(201.50,13.70) scale(1,1.12)" text-anchor="end" class="tk">0.44</text>
<text transform="translate(203.40,141.30) scale(1,1.12)" text-anchor="middle" class="tk">-10</text>
<text transform="translate(242.43,141.30) scale(1,1.12)" text-anchor="middle" class="tk">-5</text>
<path d="M242.43,133.60v-1.6M242.43,11.50v1.6" stroke="#cccccc" stroke-width="0.6"/>
<text transform="translate(281.45,141.30) scale(1,1.12)" text-anchor="middle" class="tk">0</text>
<path d="M281.45,133.60v-1.6M281.45,11.50v1.6" stroke="#cccccc" stroke-width="0.6"/>
<text transform="translate(320.48,141.30) scale(1,1.12)" text-anchor="middle" class="tk">5</text>
<path d="M320.48,133.60v-1.6M320.48,11.50v1.6" stroke="#cccccc" stroke-width="0.6"/>
<text transform="translate(359.50,141.30) scale(1,1.12)" text-anchor="middle" class="tk">10</text>
<rect x="203.40" y="11.50" width="156.10" height="122.10" fill="none" stroke="#cccccc" stroke-width="1.0"/>
<text x="281.45" y="8.90" text-anchor="middle" class="ttl">WS</text>
<text transform="translate(344.60,25.55) scale(1.12,1)" text-anchor="middle" class="let">(b)</text>
<text transform="translate(188.20,72.55) rotate(-90)" text-anchor="middle" class="yl">Precision</text>
<text x="281.45" y="148.60" text-anchor="middle" class="bl">&#946;</text>
<path d="M203.40,129.40L211.21,132.10L219.01,131.40L226.81,129.90L234.62,132.10L242.43,131.20L250.23,133.40L258.04,126.60L265.84,132.10L273.64,130.60L281.45,132.87L289.25,132.30L297.06,132.88L304.87,133.23L312.67,132.73L320.48,132.43L328.28,132.49L336.09,133.22L343.89,132.70L351.69,133.06L359.50,133.26" fill="none" stroke="#5b3f9e" stroke-width="1.0" stroke-linejoin="round"/>
<path d="M203.40,126.80L205.70,129.40L203.40,132.00L201.10,129.40Z" fill="none" stroke="#5b3f9e" stroke-width="0.95"/><path d="M211.21,129.50L213.51,132.10L211.21,134.70L208.91,132.10Z" fill="none" stroke="#5b3f9e" stroke-width="0.95"/><path d="M219.01,128.80L221.31,131.40L219.01,134.00L216.71,131.40Z" fill="none" stroke="#5b3f9e" stroke-width="0.95"/><path d="M226.81,127.30L229.12,129.90L226.81,132.50L224.51,129.90Z" fill="none" stroke="#5b3f9e" stroke-width="0.95"/><path d="M234.62,129.50L236.92,132.10L234.62,134.70L232.32,132.10Z" fill="none" stroke="#5b3f9e" stroke-width="0.95"/><path d="M242.43,128.60L244.73,131.20L242.43,133.80L240.12,131.20Z" fill="none" stroke="#5b3f9e" stroke-width="0.95"/><path d="M250.23,130.80L252.53,133.40L250.23,136.00L247.93,133.40Z" fill="none" stroke="#5b3f9e" stroke-width="0.95"/><path d="M258.04,124.00L260.34,126.60L258.04,129.20L255.74,126.60Z" fill="none" stroke="#5b3f9e" stroke-width="0.95"/><path d="M265.84,129.50L268.14,132.10L265.84,134.70L263.54,132.10Z" fill="none" stroke="#5b3f9e" stroke-width="0.95"/><path d="M273.64,128.00L275.94,130.60L273.64,133.20L271.34,130.60Z" fill="none" stroke="#5b3f9e" stroke-width="0.95"/><path d="M281.45,130.27L283.75,132.87L281.45,135.47L279.15,132.87Z" fill="none" stroke="#5b3f9e" stroke-width="0.95"/><path d="M289.25,129.70L291.56,132.30L289.25,134.90L286.95,132.30Z" fill="none" stroke="#5b3f9e" stroke-width="0.95"/><path d="M297.06,130.28L299.36,132.88L297.06,135.48L294.76,132.88Z" fill="none" stroke="#5b3f9e" stroke-width="0.95"/><path d="M304.87,130.63L307.17,133.23L304.87,135.83L302.56,133.23Z" fill="none" stroke="#5b3f9e" stroke-width="0.95"/><path d="M312.67,130.13L314.97,132.73L312.67,135.33L310.37,132.73Z" fill="none" stroke="#5b3f9e" stroke-width="0.95"/><path d="M320.48,129.83L322.78,132.43L320.48,135.03L318.18,132.43Z" fill="none" stroke="#5b3f9e" stroke-width="0.95"/><path d="M328.28,129.89L330.58,132.49L328.28,135.09L325.98,132.49Z" fill="none" stroke="#5b3f9e" stroke-width="0.95"/><path d="M336.09,130.62L338.39,133.22L336.09,135.82L333.79,133.22Z" fill="none" stroke="#5b3f9e" stroke-width="0.95"/><path d="M343.89,130.10L346.19,132.70L343.89,135.30L341.59,132.70Z" fill="none" stroke="#5b3f9e" stroke-width="0.95"/><path d="M351.69,130.46L354.00,133.06L351.69,135.66L349.39,133.06Z" fill="none" stroke="#5b3f9e" stroke-width="0.95"/><path d="M359.50,130.66L361.80,133.26L359.50,135.86L357.20,133.26Z" fill="none" stroke="#5b3f9e" stroke-width="0.95"/>
<path d="M203.40,18.91L211.21,37.66L219.01,18.30L226.81,37.93L234.62,31.56L242.43,29.90L250.23,12.37L258.04,23.71L265.84,25.54L273.64,15.86L281.45,130.94L289.25,131.43L297.06,132.05L304.87,131.30L312.67,131.28L320.48,132.69L328.28,132.01L336.09,132.15L343.89,132.62L351.69,131.36L359.50,131.14" fill="none" stroke="#cf1f2a" stroke-width="1.0" stroke-linejoin="round"/>
<polygon points="203.40,16.01 204.19,18.12 206.44,18.22 204.68,19.63 205.28,21.80 203.40,20.56 201.52,21.80 202.12,19.63 200.36,18.22 202.61,18.12" fill="#cf1f2a" stroke="#cf1f2a" stroke-width="0.3"/><polygon points="211.21,34.76 212.00,36.87 214.25,36.98 212.49,38.38 213.09,40.55 211.21,39.31 209.32,40.55 209.92,38.38 208.16,36.98 210.41,36.87" fill="#cf1f2a" stroke="#cf1f2a" stroke-width="0.3"/><polygon points="219.01,15.40 219.80,17.51 222.05,17.61 220.29,19.02 220.89,21.19 219.01,19.95 217.13,21.19 217.73,19.02 215.97,17.61 218.22,17.51" fill="#cf1f2a" stroke="#cf1f2a" stroke-width="0.3"/><polygon points="226.81,35.03 227.61,37.13 229.86,37.24 228.10,38.64 228.70,40.81 226.81,39.58 224.93,40.81 225.53,38.64 223.77,37.24 226.02,37.13" fill="#cf1f2a" stroke="#cf1f2a" stroke-width="0.3"/><polygon points="234.62,28.66 235.41,30.77 237.66,30.87 235.90,32.28 236.50,34.45 234.62,33.21 232.74,34.45 233.34,32.28 231.58,30.87 233.83,30.77" fill="#cf1f2a" stroke="#cf1f2a" stroke-width="0.3"/><polygon points="242.43,27.00 243.22,29.11 245.47,29.21 243.71,30.62 244.31,32.79 242.43,31.55 240.54,32.79 241.14,30.62 239.38,29.21 241.63,29.11" fill="#cf1f2a" stroke="#cf1f2a" stroke-width="0.3"/><polygon points="250.23,9.47 251.02,11.58 253.27,11.68 251.51,13.09 252.11,15.26 250.23,14.02 248.35,15.26 248.95,13.09 247.19,11.68 249.44,11.58" fill="#cf1f2a" stroke="#cf1f2a" stroke-width="0.3"/><polygon points="258.04,20.81 258.83,22.92 261.08,23.02 259.32,24.43 259.92,26.60 258.04,25.36 256.15,26.60 256.75,24.43 254.99,23.02 257.24,22.92" fill="#cf1f2a" stroke="#cf1f2a" stroke-width="0.3"/><polygon points="265.84,22.64 266.63,24.75 268.88,24.85 267.12,26.26 267.72,28.43 265.84,27.19 263.96,28.43 264.56,26.26 262.80,24.85 265.05,24.75" fill="#cf1f2a" stroke="#cf1f2a" stroke-width="0.3"/><polygon points="273.64,12.96 274.44,15.07 276.69,15.17 274.93,16.58 275.53,18.75 273.64,17.51 271.76,18.75 272.36,16.58 270.60,15.17 272.85,15.07" fill="#cf1f2a" stroke="#cf1f2a" stroke-width="0.3"/><polygon points="281.45,128.04 282.24,130.14 284.49,130.25 282.73,131.65 283.33,133.83 281.45,132.59 279.57,133.83 280.17,131.65 278.41,130.25 280.66,130.14" fill="#cf1f2a" stroke="#cf1f2a" stroke-width="0.3"/><polygon points="289.25,128.53 290.05,130.64 292.30,130.74 290.54,132.15 291.14,134.32 289.25,133.08 287.37,134.32 287.97,132.15 286.21,130.74 288.46,130.64" fill="#cf1f2a" stroke="#cf1f2a" stroke-width="0.3"/><polygon points="297.06,129.15 297.85,131.26 300.10,131.36 298.34,132.77 298.94,134.94 297.06,133.70 295.18,134.94 295.78,132.77 294.02,131.36 296.27,131.26" fill="#cf1f2a" stroke="#cf1f2a" stroke-width="0.3"/><polygon points="304.87,128.40 305.66,130.51 307.91,130.61 306.15,132.02 306.75,134.19 304.87,132.95 302.98,134.19 303.58,132.02 301.82,130.61 304.07,130.51" fill="#cf1f2a" stroke="#cf1f2a" stroke-width="0.3"/><polygon points="312.67,128.38 313.46,130.48 315.71,130.59 313.95,131.99 314.55,134.16 312.67,132.93 310.79,134.16 311.39,131.99 309.63,130.59 311.88,130.48" fill="#cf1f2a" stroke="#cf1f2a" stroke-width="0.3"/><polygon points="320.48,129.79 321.27,131.89 323.52,132.00 321.76,133.40 322.36,135.58 320.48,134.34 318.59,135.58 319.19,133.40 317.43,132.00 319.68,131.89" fill="#cf1f2a" stroke="#cf1f2a" stroke-width="0.3"/><polygon points="328.28,129.11 329.07,131.22 331.32,131.32 329.56,132.73 330.16,134.90 328.28,133.66 326.40,134.90 327.00,132.73 325.24,131.32 327.49,131.22" fill="#cf1f2a" stroke="#cf1f2a" stroke-width="0.3"/><polygon points="336.09,129.25 336.88,131.36 339.13,131.46 337.37,132.87 337.97,135.04 336.09,133.80 334.20,135.04 334.80,132.87 333.04,131.46 335.29,131.36" fill="#cf1f2a" stroke="#cf1f2a" stroke-width="0.3"/><polygon points="343.89,129.72 344.68,131.82 346.93,131.93 345.17,133.33 345.77,135.51 343.89,134.27 342.01,135.51 342.61,133.33 340.85,131.93 343.10,131.82" fill="#cf1f2a" stroke="#cf1f2a" stroke-width="0.3"/><polygon points="351.69,128.46 352.49,130.57 354.74,130.67 352.98,132.08 353.58,134.25 351.69,133.01 349.81,134.25 350.41,132.08 348.65,130.67 350.90,130.57" fill="#cf1f2a" stroke="#cf1f2a" stroke-width="0.3"/><polygon points="359.50,128.24 360.29,130.35 362.54,130.45 360.78,131.86 361.38,134.03 359.50,132.79 357.62,134.03 358.22,131.86 356.46,130.45 358.71,130.35" fill="#cf1f2a" stroke="#cf1f2a" stroke-width="0.3"/>
<path d="M203.40,44.38L211.21,47.35L219.01,48.57L226.81,45.51L234.62,37.40L242.43,41.59L250.23,40.54L258.04,43.59L265.84,47.00L273.64,44.38L281.45,131.83L289.25,131.20L297.06,131.73L304.87,131.97L312.67,131.67L320.48,131.24L328.28,132.22L336.09,131.78L343.89,132.47L351.69,131.73L359.50,131.46" fill="none" stroke="#2865bb" stroke-width="1.0" stroke-linejoin="round"/>
<circle cx="203.40" cy="44.38" r="2.55" fill="none" stroke="#2865bb" stroke-width="0.95"/><circle cx="211.21" cy="47.35" r="2.55" fill="none" stroke="#2865bb" stroke-width="0.95"/><circle cx="219.01" cy="48.57" r="2.55" fill="none" stroke="#2865bb" stroke-width="0.95"/><circle cx="226.81" cy="45.51" r="2.55" fill="none" stroke="#2865bb" stroke-width="0.95"/><circle cx="234.62" cy="37.40" r="2.55" fill="none" stroke="#2865bb" stroke-width="0.95"/><circle cx="242.43" cy="41.59" r="2.55" fill="none" stroke="#2865bb" stroke-width="0.95"/><circle cx="250.23" cy="40.54" r="2.55" fill="none" stroke="#2865bb" stroke-width="0.95"/><circle cx="258.04" cy="43.59" r="2.55" fill="none" stroke="#2865bb" stroke-width="0.95"/><circle cx="265.84" cy="47.00" r="2.55" fill="none" stroke="#2865bb" stroke-width="0.95"/><circle cx="273.64" cy="44.38" r="2.55" fill="none" stroke="#2865bb" stroke-width="0.95"/><circle cx="281.45" cy="131.83" r="2.55" fill="none" stroke="#2865bb" stroke-width="0.95"/><circle cx="289.25" cy="131.20" r="2.55" fill="none" stroke="#2865bb" stroke-width="0.95"/><circle cx="297.06" cy="131.73" r="2.55" fill="none" stroke="#2865bb" stroke-width="0.95"/><circle cx="304.87" cy="131.97" r="2.55" fill="none" stroke="#2865bb" stroke-width="0.95"/><circle cx="312.67" cy="131.67" r="2.55" fill="none" stroke="#2865bb" stroke-width="0.95"/><circle cx="320.48" cy="131.24" r="2.55" fill="none" stroke="#2865bb" stroke-width="0.95"/><circle cx="328.28" cy="132.22" r="2.55" fill="none" stroke="#2865bb" stroke-width="0.95"/><circle cx="336.09" cy="131.78" r="2.55" fill="none" stroke="#2865bb" stroke-width="0.95"/><circle cx="343.89" cy="132.47" r="2.55" fill="none" stroke="#2865bb" stroke-width="0.95"/><circle cx="351.69" cy="131.73" r="2.55" fill="none" stroke="#2865bb" stroke-width="0.95"/><circle cx="359.50" cy="131.46" r="2.55" fill="none" stroke="#2865bb" stroke-width="0.95"/>
<path d="M203.40,43.59L211.21,53.01L219.01,41.41L226.81,42.55L234.62,61.65L242.43,49.00L250.23,50.57L258.04,43.77L265.84,50.40L273.64,41.15L281.45,129.10L289.25,132.51L297.06,131.11L304.87,131.31L312.67,131.21L320.48,132.42L328.28,130.90L336.09,131.81L343.89,132.38L351.69,132.17L359.50,132.56" fill="none" stroke="#e07b2a" stroke-width="1.0" stroke-linejoin="round"/>
<rect x="201.10" y="41.29" width="4.60" height="4.60" fill="none" stroke="#e07b2a" stroke-width="0.95"/><rect x="208.91" y="50.71" width="4.60" height="4.60" fill="none" stroke="#e07b2a" stroke-width="0.95"/><rect x="216.71" y="39.11" width="4.60" height="4.60" fill="none" stroke="#e07b2a" stroke-width="0.95"/><rect x="224.51" y="40.25" width="4.60" height="4.60" fill="none" stroke="#e07b2a" stroke-width="0.95"/><rect x="232.32" y="59.35" width="4.60" height="4.60" fill="none" stroke="#e07b2a" stroke-width="0.95"/><rect x="240.12" y="46.70" width="4.60" height="4.60" fill="none" stroke="#e07b2a" stroke-width="0.95"/><rect x="247.93" y="48.27" width="4.60" height="4.60" fill="none" stroke="#e07b2a" stroke-width="0.95"/><rect x="255.74" y="41.47" width="4.60" height="4.60" fill="none" stroke="#e07b2a" stroke-width="0.95"/><rect x="263.54" y="48.10" width="4.60" height="4.60" fill="none" stroke="#e07b2a" stroke-width="0.95"/><rect x="271.34" y="38.85" width="4.60" height="4.60" fill="none" stroke="#e07b2a" stroke-width="0.95"/><rect x="279.15" y="126.80" width="4.60" height="4.60" fill="none" stroke="#e07b2a" stroke-width="0.95"/><rect x="286.95" y="130.21" width="4.60" height="4.60" fill="none" stroke="#e07b2a" stroke-width="0.95"/><rect x="294.76" y="128.81" width="4.60" height="4.60" fill="none" stroke="#e07b2a" stroke-width="0.95"/><rect x="302.56" y="129.01" width="4.60" height="4.60" fill="none" stroke="#e07b2a" stroke-width="0.95"/><rect x="310.37" y="128.91" width="4.60" height="4.60" fill="none" stroke="#e07b2a" stroke-width="0.95"/><rect x="318.18" y="130.12" width="4.60" height="4.60" fill="none" stroke="#e07b2a" stroke-width="0.95"/><rect x="325.98" y="128.60" width="4.60" height="4.60" fill="none" stroke="#e07b2a" stroke-width="0.95"/><rect x="333.79" y="129.51" width="4.60" height="4.60" fill="none" stroke="#e07b2a" stroke-width="0.95"/><rect x="341.59" y="130.08" width="4.60" height="4.60" fill="none" stroke="#e07b2a" stroke-width="0.95"/><rect x="349.39" y="129.87" width="4.60" height="4.60" fill="none" stroke="#e07b2a" stroke-width="0.95"/><rect x="357.20" y="130.26" width="4.60" height="4.60" fill="none" stroke="#e07b2a" stroke-width="0.95"/>
<path d="M203.40,52.58L211.21,52.49L219.01,55.98L226.81,48.39L234.62,46.39L242.43,55.11L250.23,39.58L258.04,41.15L265.84,47.00L273.64,43.94L281.45,131.25L289.25,131.00L297.06,131.06L304.87,131.41L312.67,131.75L320.48,132.03L328.28,131.51L336.09,132.68L343.89,132.59L351.69,131.74L359.50,132.11" fill="none" stroke="#2e9440" stroke-width="1.0" stroke-linejoin="round"/>
<path d="M205.80,52.58L201.00,50.08L201.00,55.08Z" fill="none" stroke="#2e9440" stroke-width="0.95"/><path d="M213.61,52.49L208.81,49.99L208.81,54.99Z" fill="none" stroke="#2e9440" stroke-width="0.95"/><path d="M221.41,55.98L216.61,53.48L216.61,58.48Z" fill="none" stroke="#2e9440" stroke-width="0.95"/><path d="M229.22,48.39L224.41,45.89L224.41,50.89Z" fill="none" stroke="#2e9440" stroke-width="0.95"/><path d="M237.02,46.39L232.22,43.89L232.22,48.89Z" fill="none" stroke="#2e9440" stroke-width="0.95"/><path d="M244.83,55.11L240.03,52.61L240.03,57.61Z" fill="none" stroke="#2e9440" stroke-width="0.95"/><path d="M252.63,39.58L247.83,37.08L247.83,42.08Z" fill="none" stroke="#2e9440" stroke-width="0.95"/><path d="M260.44,41.15L255.64,38.65L255.64,43.65Z" fill="none" stroke="#2e9440" stroke-width="0.95"/><path d="M268.24,47.00L263.44,44.50L263.44,49.50Z" fill="none" stroke="#2e9440" stroke-width="0.95"/><path d="M276.04,43.94L271.25,41.44L271.25,46.44Z" fill="none" stroke="#2e9440" stroke-width="0.95"/><path d="M283.85,131.25L279.05,128.75L279.05,133.75Z" fill="none" stroke="#2e9440" stroke-width="0.95"/><path d="M291.65,131.00L286.86,128.50L286.86,133.50Z" fill="none" stroke="#2e9440" stroke-width="0.95"/><path d="M299.46,131.06L294.66,128.56L294.66,133.56Z" fill="none" stroke="#2e9440" stroke-width="0.95"/><path d="M307.26,131.41L302.47,128.91L302.47,133.91Z" fill="none" stroke="#2e9440" stroke-width="0.95"/><path d="M315.07,131.75L310.27,129.25L310.27,134.25Z" fill="none" stroke="#2e9440" stroke-width="0.95"/><path d="M322.88,132.03L318.08,129.53L318.08,134.53Z" fill="none" stroke="#2e9440" stroke-width="0.95"/><path d="M330.68,131.51L325.88,129.01L325.88,134.01Z" fill="none" stroke="#2e9440" stroke-width="0.95"/><path d="M338.49,132.68L333.69,130.18L333.69,135.18Z" fill="none" stroke="#2e9440" stroke-width="0.95"/><path d="M346.29,132.59L341.49,130.09L341.49,135.09Z" fill="none" stroke="#2e9440" stroke-width="0.95"/><path d="M354.09,131.74L349.30,129.24L349.30,134.24Z" fill="none" stroke="#2e9440" stroke-width="0.95"/><path d="M361.90,132.11L357.10,129.61L357.10,134.61Z" fill="none" stroke="#2e9440" stroke-width="0.95"/>
<path d="M203.40,47.61L211.21,57.99L219.01,52.49L226.81,60.34L234.62,51.01L242.43,47.35L250.23,53.62L258.04,53.01L265.84,57.72L273.64,47.96L281.45,129.60L289.25,131.46L297.06,132.62L304.87,131.61L312.67,132.64L320.48,130.97L328.28,131.45L336.09,131.29L343.89,132.05L351.69,132.64L359.50,131.38" fill="none" stroke="#3c3c3c" stroke-width="1.0" stroke-linejoin="round"/>
<path d="M201.00,47.61L205.80,45.11L205.80,50.11Z" fill="none" stroke="#3c3c3c" stroke-width="0.95"/><path d="M208.81,57.99L213.61,55.49L213.61,60.49Z" fill="none" stroke="#3c3c3c" stroke-width="0.95"/><path d="M216.61,52.49L221.41,49.99L221.41,54.99Z" fill="none" stroke="#3c3c3c" stroke-width="0.95"/><path d="M224.41,60.34L229.22,57.84L229.22,62.84Z" fill="none" stroke="#3c3c3c" stroke-width="0.95"/><path d="M232.22,51.01L237.02,48.51L237.02,53.51Z" fill="none" stroke="#3c3c3c" stroke-width="0.95"/><path d="M240.03,47.35L244.83,44.85L244.83,49.85Z" fill="none" stroke="#3c3c3c" stroke-width="0.95"/><path d="M247.83,53.62L252.63,51.12L252.63,56.12Z" fill="none" stroke="#3c3c3c" stroke-width="0.95"/><path d="M255.64,53.01L260.44,50.51L260.44,55.51Z" fill="none" stroke="#3c3c3c" stroke-width="0.95"/><path d="M263.44,57.72L268.24,55.22L268.24,60.22Z" fill="none" stroke="#3c3c3c" stroke-width="0.95"/><path d="M271.25,47.96L276.04,45.46L276.04,50.46Z" fill="none" stroke="#3c3c3c" stroke-width="0.95"/><path d="M279.05,129.60L283.85,127.10L283.85,132.10Z" fill="none" stroke="#3c3c3c" stroke-width="0.95"/><path d="M286.86,131.46L291.65,128.96L291.65,133.96Z" fill="none" stroke="#3c3c3c" stroke-width="0.95"/><path d="M294.66,132.62L299.46,130.12L299.46,135.12Z" fill="none" stroke="#3c3c3c" stroke-width="0.95"/><path d="M302.47,131.61L307.26,129.11L307.26,134.11Z" fill="none" stroke="#3c3c3c" stroke-width="0.95"/><path d="M310.27,132.64L315.07,130.14L315.07,135.14Z" fill="none" stroke="#3c3c3c" stroke-width="0.95"/><path d="M318.08,130.97L322.88,128.47L322.88,133.47Z" fill="none" stroke="#3c3c3c" stroke-width="0.95"/><path d="M325.88,131.45L330.68,128.95L330.68,133.95Z" fill="none" stroke="#3c3c3c" stroke-width="0.95"/><path d="M333.69,131.29L338.49,128.79L338.49,133.79Z" fill="none" stroke="#3c3c3c" stroke-width="0.95"/><path d="M341.49,132.05L346.29,129.55L346.29,134.55Z" fill="none" stroke="#3c3c3c" stroke-width="0.95"/><path d="M349.30,132.64L354.09,130.14L354.09,135.14Z" fill="none" stroke="#3c3c3c" stroke-width="0.95"/><path d="M357.10,131.38L361.90,128.88L361.90,133.88Z" fill="none" stroke="#3c3c3c" stroke-width="0.95"/>
<rect x="292.90" y="47.70" width="66.60" height="52.80" fill="#fff" stroke="#cccccc" stroke-width="0.6"/>
<text x="292.30" y="101.30" text-anchor="end" class="itk">0.3</text>
<text x="292.30" y="93.76" text-anchor="end" class="itk">0.32</text>
<text x="292.30" y="86.21" text-anchor="end" class="itk">0.34</text>
<text x="292.30" y="78.67" text-anchor="end" class="itk">0.36</text>
<text x="292.30" y="71.13" text-anchor="end" class="itk">0.38</text>
<text x="292.30" y="63.59" text-anchor="end" class="itk">0.4</text>
<text x="292.30" y="56.04" text-anchor="end" class="itk">0.42</text>
<text x="292.30" y="48.50" text-anchor="end" class="itk">0.44</text>
<text x="292.90" y="103.40" text-anchor="middle" class="itk">-1</text>
<text x="309.55" y="103.40" text-anchor="middle" class="itk">-0.5</text>
<text x="326.20" y="103.40" text-anchor="middle" class="itk">0</text>
<text x="342.85" y="103.40" text-anchor="middle" class="itk">0.5</text>
<text x="359.50" y="103.40" text-anchor="middle" class="itk">1</text>
<text x="326.20" y="47.00" text-anchor="middle" class="ittl">WS</text>
<text transform="translate(286.30,75.60) rotate(-90)" text-anchor="middle" class="iyl">Precision</text>
<text x="326.20" y="107.70" text-anchor="middle" class="ibl">&#946;</text>
<path d="M292.90,98.31L296.23,99.04L299.56,99.77L302.89,97.58L306.22,99.77L309.55,99.77L312.88,99.77L316.21,99.77L319.54,99.77L322.87,99.77L326.20,100.50L329.53,99.76L332.86,99.93L336.19,100.00L339.52,99.67L342.85,99.94L346.18,99.75L349.51,99.66L352.84,99.77L356.17,100.04L359.50,99.67" fill="none" stroke="#5b3f9e" stroke-width="0.6"/>
<circle cx="292.90" cy="98.31" r="1.0" fill="#5b3f9e"/><circle cx="296.23" cy="99.04" r="1.0" fill="#5b3f9e"/><circle cx="299.56" cy="99.77" r="1.0" fill="#5b3f9e"/><circle cx="302.89" cy="97.58" r="1.0" fill="#5b3f9e"/><circle cx="306.22" cy="99.77" r="1.0" fill="#5b3f9e"/><circle cx="309.55" cy="99.77" r="1.0" fill="#5b3f9e"/><circle cx="312.88" cy="99.77" r="1.0" fill="#5b3f9e"/><circle cx="316.21" cy="99.77" r="1.0" fill="#5b3f9e"/><circle cx="319.54" cy="99.77" r="1.0" fill="#5b3f9e"/><circle cx="322.87" cy="99.77" r="1.0" fill="#5b3f9e"/><circle cx="326.20" cy="100.50" r="1.0" fill="#5b3f9e"/><circle cx="329.53" cy="99.76" r="1.0" fill="#5b3f9e"/><circle cx="332.86" cy="99.93" r="1.0" fill="#5b3f9e"/><circle cx="336.19" cy="100.00" r="1.0" fill="#5b3f9e"/><circle cx="339.52" cy="99.67" r="1.0" fill="#5b3f9e"/><circle cx="342.85" cy="99.94" r="1.0" fill="#5b3f9e"/><circle cx="346.18" cy="99.75" r="1.0" fill="#5b3f9e"/><circle cx="349.51" cy="99.66" r="1.0" fill="#5b3f9e"/><circle cx="352.84" cy="99.77" r="1.0" fill="#5b3f9e"/><circle cx="356.17" cy="100.04" r="1.0" fill="#5b3f9e"/><circle cx="359.50" cy="99.67" r="1.0" fill="#5b3f9e"/>
<path d="M292.90,47.99L296.23,49.74L299.56,50.18L302.89,51.64L306.22,50.18L309.55,49.45L312.88,53.53L316.21,64.04L319.54,96.12L322.87,99.77L326.20,100.50L329.53,99.61L332.86,99.67L336.19,99.76L339.52,100.05L342.85,100.06L346.18,99.71L349.51,100.04L352.84,99.66L356.17,99.99L359.50,99.87" fill="none" stroke="#cf1f2a" stroke-width="0.6"/>
<circle cx="292.90" cy="47.99" r="1.0" fill="#cf1f2a"/><circle cx="296.23" cy="49.74" r="1.0" fill="#cf1f2a"/><circle cx="299.56" cy="50.18" r="1.0" fill="#cf1f2a"/><circle cx="302.89" cy="51.64" r="1.0" fill="#cf1f2a"/><circle cx="306.22" cy="50.18" r="1.0" fill="#cf1f2a"/><circle cx="309.55" cy="49.45" r="1.0" fill="#cf1f2a"/><circle cx="312.88" cy="53.53" r="1.0" fill="#cf1f2a"/><circle cx="316.21" cy="64.04" r="1.0" fill="#cf1f2a"/><circle cx="319.54" cy="96.12" r="1.0" fill="#cf1f2a"/><circle cx="322.87" cy="99.77" r="1.0" fill="#cf1f2a"/><circle cx="326.20" cy="100.50" r="1.0" fill="#cf1f2a"/><circle cx="329.53" cy="99.61" r="1.0" fill="#cf1f2a"/><circle cx="332.86" cy="99.67" r="1.0" fill="#cf1f2a"/><circle cx="336.19" cy="99.76" r="1.0" fill="#cf1f2a"/><circle cx="339.52" cy="100.05" r="1.0" fill="#cf1f2a"/><circle cx="342.85" cy="100.06" r="1.0" fill="#cf1f2a"/><circle cx="346.18" cy="99.71" r="1.0" fill="#cf1f2a"/><circle cx="349.51" cy="100.04" r="1.0" fill="#cf1f2a"/><circle cx="352.84" cy="99.66" r="1.0" fill="#cf1f2a"/><circle cx="356.17" cy="99.99" r="1.0" fill="#cf1f2a"/><circle cx="359.50" cy="99.87" r="1.0" fill="#cf1f2a"/>
<path d="M292.90,62.58L296.23,65.49L299.56,64.77L302.89,57.47L306.22,63.31L309.55,65.49L312.88,65.49L316.21,64.77L319.54,91.75L322.87,99.04L326.20,100.50L329.53,99.99L332.86,99.77L336.19,99.77L339.52,99.96L342.85,99.86L346.18,99.86L349.51,99.78L352.84,99.65L356.17,99.89L359.50,100.09" fill="none" stroke="#2865bb" stroke-width="0.6"/>
<circle cx="292.90" cy="62.58" r="1.0" fill="#2865bb"/><circle cx="296.23" cy="65.49" r="1.0" fill="#2865bb"/><circle cx="299.56" cy="64.77" r="1.0" fill="#2865bb"/><circle cx="302.89" cy="57.47" r="1.0" fill="#2865bb"/><circle cx="306.22" cy="63.31" r="1.0" fill="#2865bb"/><circle cx="309.55" cy="65.49" r="1.0" fill="#2865bb"/><circle cx="312.88" cy="65.49" r="1.0" fill="#2865bb"/><circle cx="316.21" cy="64.77" r="1.0" fill="#2865bb"/><circle cx="319.54" cy="91.75" r="1.0" fill="#2865bb"/><circle cx="322.87" cy="99.04" r="1.0" fill="#2865bb"/><circle cx="326.20" cy="100.50" r="1.0" fill="#2865bb"/><circle cx="329.53" cy="99.99" r="1.0" fill="#2865bb"/><circle cx="332.86" cy="99.77" r="1.0" fill="#2865bb"/><circle cx="336.19" cy="99.77" r="1.0" fill="#2865bb"/><circle cx="339.52" cy="99.96" r="1.0" fill="#2865bb"/><circle cx="342.85" cy="99.86" r="1.0" fill="#2865bb"/><circle cx="346.18" cy="99.86" r="1.0" fill="#2865bb"/><circle cx="349.51" cy="99.78" r="1.0" fill="#2865bb"/><circle cx="352.84" cy="99.65" r="1.0" fill="#2865bb"/><circle cx="356.17" cy="99.89" r="1.0" fill="#2865bb"/><circle cx="359.50" cy="100.09" r="1.0" fill="#2865bb"/>
<path d="M292.90,64.77L296.23,60.83L299.56,61.12L302.89,62.29L306.22,59.37L309.55,56.74L312.88,64.04L316.21,66.95L319.54,91.75L322.87,99.77L326.20,100.50L329.53,99.64L332.86,99.74L336.19,100.01L339.52,99.77L342.85,100.08L346.18,99.60L349.51,99.97L352.84,99.73L356.17,99.92L359.50,99.80" fill="none" stroke="#e07b2a" stroke-width="0.6"/>
<circle cx="292.90" cy="64.77" r="1.0" fill="#e07b2a"/><circle cx="296.23" cy="60.83" r="1.0" fill="#e07b2a"/><circle cx="299.56" cy="61.12" r="1.0" fill="#e07b2a"/><circle cx="302.89" cy="62.29" r="1.0" fill="#e07b2a"/><circle cx="306.22" cy="59.37" r="1.0" fill="#e07b2a"/><circle cx="309.55" cy="56.74" r="1.0" fill="#e07b2a"/><circle cx="312.88" cy="64.04" r="1.0" fill="#e07b2a"/><circle cx="316.21" cy="66.95" r="1.0" fill="#e07b2a"/><circle cx="319.54" cy="91.75" r="1.0" fill="#e07b2a"/><circle cx="322.87" cy="99.77" r="1.0" fill="#e07b2a"/><circle cx="326.20" cy="100.50" r="1.0" fill="#e07b2a"/><circle cx="329.53" cy="99.64" r="1.0" fill="#e07b2a"/><circle cx="332.86" cy="99.74" r="1.0" fill="#e07b2a"/><circle cx="336.19" cy="100.01" r="1.0" fill="#e07b2a"/><circle cx="339.52" cy="99.77" r="1.0" fill="#e07b2a"/><circle cx="342.85" cy="100.08" r="1.0" fill="#e07b2a"/><circle cx="346.18" cy="99.60" r="1.0" fill="#e07b2a"/><circle cx="349.51" cy="99.97" r="1.0" fill="#e07b2a"/><circle cx="352.84" cy="99.73" r="1.0" fill="#e07b2a"/><circle cx="356.17" cy="99.92" r="1.0" fill="#e07b2a"/><circle cx="359.50" cy="99.80" r="1.0" fill="#e07b2a"/>
<path d="M292.90,61.85L296.23,61.12L299.56,62.58L302.89,69.14L306.22,63.31L309.55,64.04L312.88,64.77L316.21,61.85L319.54,71.33L322.87,85.91L326.20,100.50L329.53,99.82L332.86,99.61L336.19,99.86L339.52,99.69L342.85,99.85L346.18,99.93L349.51,99.69L352.84,100.04L356.17,100.01L359.50,99.94" fill="none" stroke="#2e9440" stroke-width="0.6"/>
<circle cx="292.90" cy="61.85" r="1.0" fill="#2e9440"/><circle cx="296.23" cy="61.12" r="1.0" fill="#2e9440"/><circle cx="299.56" cy="62.58" r="1.0" fill="#2e9440"/><circle cx="302.89" cy="69.14" r="1.0" fill="#2e9440"/><circle cx="306.22" cy="63.31" r="1.0" fill="#2e9440"/><circle cx="309.55" cy="64.04" r="1.0" fill="#2e9440"/><circle cx="312.88" cy="64.77" r="1.0" fill="#2e9440"/><circle cx="316.21" cy="61.85" r="1.0" fill="#2e9440"/><circle cx="319.54" cy="71.33" r="1.0" fill="#2e9440"/><circle cx="322.87" cy="85.91" r="1.0" fill="#2e9440"/><circle cx="326.20" cy="100.50" r="1.0" fill="#2e9440"/><circle cx="329.53" cy="99.82" r="1.0" fill="#2e9440"/><circle cx="332.86" cy="99.61" r="1.0" fill="#2e9440"/><circle cx="336.19" cy="99.86" r="1.0" fill="#2e9440"/><circle cx="339.52" cy="99.69" r="1.0" fill="#2e9440"/><circle cx="342.85" cy="99.85" r="1.0" fill="#2e9440"/><circle cx="346.18" cy="99.93" r="1.0" fill="#2e9440"/><circle cx="349.51" cy="99.69" r="1.0" fill="#2e9440"/><circle cx="352.84" cy="100.04" r="1.0" fill="#2e9440"/><circle cx="356.17" cy="100.01" r="1.0" fill="#2e9440"/><circle cx="359.50" cy="99.94" r="1.0" fill="#2e9440"/>
<path d="M292.90,68.41L296.23,67.68L299.56,65.49L302.89,64.04L306.22,64.77L309.55,65.49L312.88,66.22L316.21,62.58L319.54,63.31L322.87,74.98L326.20,100.50L329.53,99.84L332.86,99.81L336.19,100.00L339.52,100.10L342.85,99.87L346.18,100.07L349.51,99.83L352.84,99.62L356.17,99.69L359.50,100.04" fill="none" stroke="#3c3c3c" stroke-width="0.6"/>
<circle cx="292.90" cy="68.41" r="1.0" fill="#3c3c3c"/><circle cx="296.23" cy="67.68" r="1.0" fill="#3c3c3c"/><circle cx="299.56" cy="65.49" r="1.0" fill="#3c3c3c"/><circle cx="302.89" cy="64.04" r="1.0" fill="#3c3c3c"/><circle cx="306.22" cy="64.77" r="1.0" fill="#3c3c3c"/><circle cx="309.55" cy="65.49" r="1.0" fill="#3c3c3c"/><circle cx="312.88" cy="66.22" r="1.0" fill="#3c3c3c"/><circle cx="316.21" cy="62.58" r="1.0" fill="#3c3c3c"/><circle cx="319.54" cy="63.31" r="1.0" fill="#3c3c3c"/><circle cx="322.87" cy="74.98" r="1.0" fill="#3c3c3c"/><circle cx="326.20" cy="100.50" r="1.0" fill="#3c3c3c"/><circle cx="329.53" cy="99.84" r="1.0" fill="#3c3c3c"/><circle cx="332.86" cy="99.81" r="1.0" fill="#3c3c3c"/><circle cx="336.19" cy="100.00" r="1.0" fill="#3c3c3c"/><circle cx="339.52" cy="100.10" r="1.0" fill="#3c3c3c"/><circle cx="342.85" cy="99.87" r="1.0" fill="#3c3c3c"/><circle cx="346.18" cy="100.07" r="1.0" fill="#3c3c3c"/><circle cx="349.51" cy="99.83" r="1.0" fill="#3c3c3c"/><circle cx="352.84" cy="99.62" r="1.0" fill="#3c3c3c"/><circle cx="356.17" cy="99.69" r="1.0" fill="#3c3c3c"/><circle cx="359.50" cy="100.04" r="1.0" fill="#3c3c3c"/>
<text transform="translate(383.60,135.30) scale(1,1.12)" text-anchor="end" class="tk">0.3</text>
<text transform="translate(383.60,123.15) scale(1,1.12)" text-anchor="end" class="tk">0.32</text>
<path d="M385.50,120.95h1.6M539.30,120.95h-1.6" stroke="#cccccc" stroke-width="0.6"/>
<text transform="translate(383.60,111.00) scale(1,1.12)" text-anchor="end" class="tk">0.34</text>
<path d="M385.50,108.80h1.6M539.30,108.80h-1.6" stroke="#cccccc" stroke-width="0.6"/>
<text transform="translate(383.60,98.85) scale(1,1.12)" text-anchor="end" class="tk">0.36</text>
<path d="M385.50,96.65h1.6M539.30,96.65h-1.6" stroke="#cccccc" stroke-width="0.6"/>
<text transform="translate(383.60,86.70) scale(1,1.12)" text-anchor="end" class="tk">0.38</text>
<path d="M385.50,84.50h1.6M539.30,84.50h-1.6" stroke="#cccccc" stroke-width="0.6"/>
<text transform="translate(383.60,74.55) scale(1,1.12)" text-anchor="end" class="tk">0.4</text>
<path d="M385.50,72.35h1.6M539.30,72.35h-1.6" stroke="#cccccc" stroke-width="0.6"/>
<text transform="translate(383.60,62.40) scale(1,1.12)" text-anchor="end" class="tk">0.42</text>
<path d="M385.50,60.20h1.6M539.30,60.20h-1.6" stroke="#cccccc" stroke-width="0.6"/>
<text transform="translate(383.60,50.25) scale(1,1.12)" text-anchor="end" class="tk">0.44</text>
<path d="M385.50,48.05h1.6M539.30,48.05h-1.6" stroke="#cccccc" stroke-width="0.6"/>
<text transform="translate(383.60,38.10) scale(1,1.12)" text-anchor="end" class="tk">0.46</text>
<path d="M385.50,35.90h1.6M539.30,35.90h-1.6" stroke="#cccccc" stroke-width="0.6"/>
<text transform="translate(383.60,25.95) scale(1,1.12)" text-anchor="end" class="tk">0.48</text>
<path d="M385.50,23.75h1.6M539.30,23.75h-1.6" stroke="#cccccc" stroke-width="0.6"/>
<text transform="translate(383.60,13.80) scale(1,1.12)" text-anchor="end" class="tk">0.5</text>
<text transform="translate(385.50,140.80) scale(1,1.12)" text-anchor="middle" class="tk">-10</text>
<text transform="translate(423.95,140.80) scale(1,1.12)" text-anchor="middle" class="tk">-5</text>
<path d="M423.95,133.10v-1.6M423.95,11.60v1.6" stroke="#cccccc" stroke-width="0.6"/>
<text transform="translate(462.40,140.80) scale(1,1.12)" text-anchor="middle" class="tk">0</text>
<path d="M462.40,133.10v-1.6M462.40,11.60v1.6" stroke="#cccccc" stroke-width="0.6"/>
<text transform="translate(500.85,140.80) scale(1,1.12)" text-anchor="middle" class="tk">5</text>
<path d="M500.85,133.10v-1.6M500.85,11.60v1.6" stroke="#cccccc" stroke-width="0.6"/>
<text transform="translate(539.30,140.80) scale(1,1.12)" text-anchor="middle" class="tk">10</text>
<rect x="385.50" y="11.60" width="153.80" height="121.50" fill="none" stroke="#cccccc" stroke-width="1.0"/>
<text x="462.40" y="9.00" text-anchor="middle" class="ttl">BA</text>
<text transform="translate(525.25,25.25) scale(1.12,1)" text-anchor="middle" class="let">(c)</text>
<text transform="translate(370.30,72.35) rotate(-90)" text-anchor="middle" class="yl">Precision</text>
<text x="462.40" y="148.10" text-anchor="middle" class="bl">&#946;</text>
<path d="M385.50,131.50L393.19,132.60L400.88,132.60L408.57,132.60L416.26,132.60L423.95,132.60L431.64,132.60L439.33,132.60L447.02,132.60L454.71,132.60L462.40,132.32L470.09,132.56L477.78,132.59L485.47,132.50L493.16,131.89L500.85,132.50L508.54,132.34L516.23,131.98L523.92,132.15L531.61,131.67L539.30,132.21" fill="none" stroke="#5b3f9e" stroke-width="1.0" stroke-linejoin="round"/>
<path d="M385.50,128.90L387.80,131.50L385.50,134.10L383.20,131.50Z" fill="none" stroke="#5b3f9e" stroke-width="0.95"/><path d="M393.19,130.00L395.49,132.60L393.19,135.20L390.89,132.60Z" fill="none" stroke="#5b3f9e" stroke-width="0.95"/><path d="M400.88,130.00L403.18,132.60L400.88,135.20L398.58,132.60Z" fill="none" stroke="#5b3f9e" stroke-width="0.95"/><path d="M408.57,130.00L410.87,132.60L408.57,135.20L406.27,132.60Z" fill="none" stroke="#5b3f9e" stroke-width="0.95"/><path d="M416.26,130.00L418.56,132.60L416.26,135.20L413.96,132.60Z" fill="none" stroke="#5b3f9e" stroke-width="0.95"/><path d="M423.95,130.00L426.25,132.60L423.95,135.20L421.65,132.60Z" fill="none" stroke="#5b3f9e" stroke-width="0.95"/><path d="M431.64,130.00L433.94,132.60L431.64,135.20L429.34,132.60Z" fill="none" stroke="#5b3f9e" stroke-width="0.95"/><path d="M439.33,130.00L441.63,132.60L439.33,135.20L437.03,132.60Z" fill="none" stroke="#5b3f9e" stroke-width="0.95"/><path d="M447.02,130.00L449.32,132.60L447.02,135.20L444.72,132.60Z" fill="none" stroke="#5b3f9e" stroke-width="0.95"/><path d="M454.71,130.00L457.01,132.60L454.71,135.20L452.41,132.60Z" fill="none" stroke="#5b3f9e" stroke-width="0.95"/><path d="M462.40,129.72L464.70,132.32L462.40,134.92L460.10,132.32Z" fill="none" stroke="#5b3f9e" stroke-width="0.95"/><path d="M470.09,129.96L472.39,132.56L470.09,135.16L467.79,132.56Z" fill="none" stroke="#5b3f9e" stroke-width="0.95"/><path d="M477.78,129.99L480.08,132.59L477.78,135.19L475.48,132.59Z" fill="none" stroke="#5b3f9e" stroke-width="0.95"/><path d="M485.47,129.90L487.77,132.50L485.47,135.10L483.17,132.50Z" fill="none" stroke="#5b3f9e" stroke-width="0.95"/><path d="M493.16,129.29L495.46,131.89L493.16,134.49L490.86,131.89Z" fill="none" stroke="#5b3f9e" stroke-width="0.95"/><path d="M500.85,129.90L503.15,132.50L500.85,135.10L498.55,132.50Z" fill="none" stroke="#5b3f9e" stroke-width="0.95"/><path d="M508.54,129.74L510.84,132.34L508.54,134.94L506.24,132.34Z" fill="none" stroke="#5b3f9e" stroke-width="0.95"/><path d="M516.23,129.38L518.53,131.98L516.23,134.58L513.93,131.98Z" fill="none" stroke="#5b3f9e" stroke-width="0.95"/><path d="M523.92,129.55L526.22,132.15L523.92,134.75L521.62,132.15Z" fill="none" stroke="#5b3f9e" stroke-width="0.95"/><path d="M531.61,129.07L533.91,131.67L531.61,134.27L529.31,131.67Z" fill="none" stroke="#5b3f9e" stroke-width="0.95"/><path d="M539.30,129.61L541.60,132.21L539.30,134.81L537.00,132.21Z" fill="none" stroke="#5b3f9e" stroke-width="0.95"/>
<path d="M385.50,32.38L393.19,42.40L400.88,32.01L408.57,22.60L416.26,36.99L423.95,25.57L431.64,29.40L439.33,28.61L447.02,28.61L454.71,37.42L462.40,131.44L470.09,131.10L477.78,131.81L485.47,130.58L493.16,131.53L500.85,131.50L508.54,130.97L516.23,131.93L523.92,131.01L531.61,130.67L539.30,131.59" fill="none" stroke="#cf1f2a" stroke-width="1.0" stroke-linejoin="round"/>
<polygon points="385.50,29.48 386.29,31.58 388.54,31.69 386.78,33.09 387.38,35.27 385.50,34.03 383.62,35.27 384.22,33.09 382.46,31.69 384.71,31.58" fill="#cf1f2a" stroke="#cf1f2a" stroke-width="0.3"/><polygon points="393.19,39.50 393.98,41.61 396.23,41.71 394.47,43.12 395.07,45.29 393.19,44.05 391.31,45.29 391.91,43.12 390.15,41.71 392.40,41.61" fill="#cf1f2a" stroke="#cf1f2a" stroke-width="0.3"/><polygon points="400.88,29.11 401.67,31.22 403.92,31.32 402.16,32.73 402.76,34.90 400.88,33.66 399.00,34.90 399.60,32.73 397.84,31.32 400.09,31.22" fill="#cf1f2a" stroke="#cf1f2a" stroke-width="0.3"/><polygon points="408.57,19.70 409.36,21.80 411.61,21.91 409.85,23.31 410.45,25.48 408.57,24.25 406.69,25.48 407.29,23.31 405.53,21.91 407.78,21.80" fill="#cf1f2a" stroke="#cf1f2a" stroke-width="0.3"/><polygon points="416.26,34.09 417.05,36.20 419.30,36.30 417.54,37.71 418.14,39.88 416.26,38.64 414.38,39.88 414.98,37.71 413.22,36.30 415.47,36.20" fill="#cf1f2a" stroke="#cf1f2a" stroke-width="0.3"/><polygon points="423.95,22.67 424.74,24.78 426.99,24.88 425.23,26.29 425.83,28.46 423.95,27.22 422.07,28.46 422.67,26.29 420.91,24.88 423.16,24.78" fill="#cf1f2a" stroke="#cf1f2a" stroke-width="0.3"/><polygon points="431.64,26.50 432.43,28.61 434.68,28.71 432.92,30.12 433.52,32.29 431.64,31.05 429.76,32.29 430.36,30.12 428.60,28.71 430.85,28.61" fill="#cf1f2a" stroke="#cf1f2a" stroke-width="0.3"/><polygon points="439.33,25.71 440.12,27.82 442.37,27.92 440.61,29.33 441.21,31.50 439.33,30.26 437.45,31.50 438.05,29.33 436.29,27.92 438.54,27.82" fill="#cf1f2a" stroke="#cf1f2a" stroke-width="0.3"/><polygon points="447.02,25.71 447.81,27.82 450.06,27.92 448.30,29.33 448.90,31.50 447.02,30.26 445.14,31.50 445.74,29.33 443.98,27.92 446.23,27.82" fill="#cf1f2a" stroke="#cf1f2a" stroke-width="0.3"/><polygon points="454.71,34.52 455.50,36.63 457.75,36.73 455.99,38.14 456.59,40.31 454.71,39.07 452.83,40.31 453.43,38.14 451.67,36.73 453.92,36.63" fill="#cf1f2a" stroke="#cf1f2a" stroke-width="0.3"/><polygon points="462.40,128.54 463.19,130.65 465.44,130.75 463.68,132.16 464.28,134.33 462.40,133.09 460.52,134.33 461.12,132.16 459.36,130.75 461.61,130.65" fill="#cf1f2a" stroke="#cf1f2a" stroke-width="0.3"/><polygon points="470.09,128.20 470.88,130.30 473.13,130.41 471.37,131.81 471.97,133.99 470.09,132.75 468.21,133.99 468.81,131.81 467.05,130.41 469.30,130.30" fill="#cf1f2a" stroke="#cf1f2a" stroke-width="0.3"/><polygon points="477.78,128.91 478.57,131.02 480.82,131.12 479.06,132.53 479.66,134.70 477.78,133.46 475.90,134.70 476.50,132.53 474.74,131.12 476.99,131.02" fill="#cf1f2a" stroke="#cf1f2a" stroke-width="0.3"/><polygon points="485.47,127.68 486.26,129.78 488.51,129.89 486.75,131.29 487.35,133.47 485.47,132.23 483.59,133.47 484.19,131.29 482.43,129.89 484.68,129.78" fill="#cf1f2a" stroke="#cf1f2a" stroke-width="0.3"/><polygon points="493.16,128.63 493.95,130.73 496.20,130.84 494.44,132.24 495.04,134.42 493.16,133.18 491.28,134.42 491.88,132.24 490.12,130.84 492.37,130.73" fill="#cf1f2a" stroke="#cf1f2a" stroke-width="0.3"/><polygon points="500.85,128.60 501.64,130.71 503.89,130.81 502.13,132.22 502.73,134.39 500.85,133.15 498.97,134.39 499.57,132.22 497.81,130.81 500.06,130.71" fill="#cf1f2a" stroke="#cf1f2a" stroke-width="0.3"/><polygon points="508.54,128.07 509.33,130.18 511.58,130.28 509.82,131.69 510.42,133.86 508.54,132.62 506.66,133.86 507.26,131.69 505.50,130.28 507.75,130.18" fill="#cf1f2a" stroke="#cf1f2a" stroke-width="0.3"/><polygon points="516.23,129.03 517.02,131.13 519.27,131.24 517.51,132.64 518.11,134.81 516.23,133.58 514.35,134.81 514.95,132.64 513.19,131.24 515.44,131.13" fill="#cf1f2a" stroke="#cf1f2a" stroke-width="0.3"/><polygon points="523.92,128.11 524.71,130.22 526.96,130.32 525.20,131.73 525.80,133.90 523.92,132.66 522.04,133.90 522.64,131.73 520.88,130.32 523.13,130.22" fill="#cf1f2a" stroke="#cf1f2a" stroke-width="0.3"/><polygon points="531.61,127.77 532.40,129.88 534.65,129.98 532.89,131.39 533.49,133.56 531.61,132.32 529.73,133.56 530.33,131.39 528.57,129.98 530.82,129.88" fill="#cf1f2a" stroke="#cf1f2a" stroke-width="0.3"/><polygon points="539.30,128.69 540.09,130.80 542.34,130.90 540.58,132.31 541.18,134.48 539.30,133.24 537.42,134.48 538.02,132.31 536.26,130.90 538.51,130.80" fill="#cf1f2a" stroke="#cf1f2a" stroke-width="0.3"/>
<path d="M385.50,51.03L393.19,58.98L400.88,43.37L408.57,48.60L416.26,51.57L423.95,49.57L431.64,50.60L439.33,51.09L447.02,45.98L454.71,48.05L462.40,130.50L470.09,131.25L477.78,130.81L485.47,131.36L493.16,131.48L500.85,131.72L508.54,132.19L516.23,131.83L523.92,130.42L531.61,131.24L539.30,131.37" fill="none" stroke="#2865bb" stroke-width="1.0" stroke-linejoin="round"/>
<circle cx="385.50" cy="51.03" r="2.55" fill="none" stroke="#2865bb" stroke-width="0.95"/><circle cx="393.19" cy="58.98" r="2.55" fill="none" stroke="#2865bb" stroke-width="0.95"/><circle cx="400.88" cy="43.37" r="2.55" fill="none" stroke="#2865bb" stroke-width="0.95"/><circle cx="408.57" cy="48.60" r="2.55" fill="none" stroke="#2865bb" stroke-width="0.95"/><circle cx="416.26" cy="51.57" r="2.55" fill="none" stroke="#2865bb" stroke-width="0.95"/><circle cx="423.95" cy="49.57" r="2.55" fill="none" stroke="#2865bb" stroke-width="0.95"/><circle cx="431.64" cy="50.60" r="2.55" fill="none" stroke="#2865bb" stroke-width="0.95"/><circle cx="439.33" cy="51.09" r="2.55" fill="none" stroke="#2865bb" stroke-width="0.95"/><circle cx="447.02" cy="45.98" r="2.55" fill="none" stroke="#2865bb" stroke-width="0.95"/><circle cx="454.71" cy="48.05" r="2.55" fill="none" stroke="#2865bb" stroke-width="0.95"/><circle cx="462.40" cy="130.50" r="2.55" fill="none" stroke="#2865bb" stroke-width="0.95"/><circle cx="470.09" cy="131.25" r="2.55" fill="none" stroke="#2865bb" stroke-width="0.95"/><circle cx="477.78" cy="130.81" r="2.55" fill="none" stroke="#2865bb" stroke-width="0.95"/><circle cx="485.47" cy="131.36" r="2.55" fill="none" stroke="#2865bb" stroke-width="0.95"/><circle cx="493.16" cy="131.48" r="2.55" fill="none" stroke="#2865bb" stroke-width="0.95"/><circle cx="500.85" cy="131.72" r="2.55" fill="none" stroke="#2865bb" stroke-width="0.95"/><circle cx="508.54" cy="132.19" r="2.55" fill="none" stroke="#2865bb" stroke-width="0.95"/><circle cx="516.23" cy="131.83" r="2.55" fill="none" stroke="#2865bb" stroke-width="0.95"/><circle cx="523.92" cy="130.42" r="2.55" fill="none" stroke="#2865bb" stroke-width="0.95"/><circle cx="531.61" cy="131.24" r="2.55" fill="none" stroke="#2865bb" stroke-width="0.95"/><circle cx="539.30" cy="131.37" r="2.55" fill="none" stroke="#2865bb" stroke-width="0.95"/>
<path d="M385.50,47.44L393.19,49.99L400.88,43.62L408.57,40.58L416.26,45.01L423.95,42.58L431.64,45.62L439.33,45.98L447.02,47.62L454.71,36.99L462.40,130.58L470.09,131.11L477.78,130.44L485.47,131.56L493.16,131.81L500.85,130.54L508.54,131.91L516.23,130.77L523.92,131.13L531.61,130.43L539.30,130.50" fill="none" stroke="#e07b2a" stroke-width="1.0" stroke-linejoin="round"/>
<rect x="383.20" y="45.14" width="4.60" height="4.60" fill="none" stroke="#e07b2a" stroke-width="0.95"/><rect x="390.89" y="47.69" width="4.60" height="4.60" fill="none" stroke="#e07b2a" stroke-width="0.95"/><rect x="398.58" y="41.32" width="4.60" height="4.60" fill="none" stroke="#e07b2a" stroke-width="0.95"/><rect x="406.27" y="38.28" width="4.60" height="4.60" fill="none" stroke="#e07b2a" stroke-width="0.95"/><rect x="413.96" y="42.71" width="4.60" height="4.60" fill="none" stroke="#e07b2a" stroke-width="0.95"/><rect x="421.65" y="40.28" width="4.60" height="4.60" fill="none" stroke="#e07b2a" stroke-width="0.95"/><rect x="429.34" y="43.32" width="4.60" height="4.60" fill="none" stroke="#e07b2a" stroke-width="0.95"/><rect x="437.03" y="43.68" width="4.60" height="4.60" fill="none" stroke="#e07b2a" stroke-width="0.95"/><rect x="444.72" y="45.32" width="4.60" height="4.60" fill="none" stroke="#e07b2a" stroke-width="0.95"/><rect x="452.41" y="34.69" width="4.60" height="4.60" fill="none" stroke="#e07b2a" stroke-width="0.95"/><rect x="460.10" y="128.28" width="4.60" height="4.60" fill="none" stroke="#e07b2a" stroke-width="0.95"/><rect x="467.79" y="128.81" width="4.60" height="4.60" fill="none" stroke="#e07b2a" stroke-width="0.95"/><rect x="475.48" y="128.14" width="4.60" height="4.60" fill="none" stroke="#e07b2a" stroke-width="0.95"/><rect x="483.17" y="129.26" width="4.60" height="4.60" fill="none" stroke="#e07b2a" stroke-width="0.95"/><rect x="490.86" y="129.51" width="4.60" height="4.60" fill="none" stroke="#e07b2a" stroke-width="0.95"/><rect x="498.55" y="128.24" width="4.60" height="4.60" fill="none" stroke="#e07b2a" stroke-width="0.95"/><rect x="506.24" y="129.61" width="4.60" height="4.60" fill="none" stroke="#e07b2a" stroke-width="0.95"/><rect x="513.93" y="128.47" width="4.60" height="4.60" fill="none" stroke="#e07b2a" stroke-width="0.95"/><rect x="521.62" y="128.83" width="4.60" height="4.60" fill="none" stroke="#e07b2a" stroke-width="0.95"/><rect x="529.31" y="128.13" width="4.60" height="4.60" fill="none" stroke="#e07b2a" stroke-width="0.95"/><rect x="537.00" y="128.20" width="4.60" height="4.60" fill="none" stroke="#e07b2a" stroke-width="0.95"/>
<path d="M385.50,56.37L393.19,43.01L400.88,47.44L408.57,51.69L416.26,52.97L423.95,53.58L431.64,54.00L439.33,51.69L447.02,49.57L454.71,49.02L462.40,131.01L470.09,132.13L477.78,132.16L485.47,131.35L493.16,130.72L500.85,132.05L508.54,131.43L516.23,132.05L523.92,131.64L531.61,132.19L539.30,131.61" fill="none" stroke="#2e9440" stroke-width="1.0" stroke-linejoin="round"/>
<path d="M387.90,56.37L383.10,53.87L383.10,58.87Z" fill="none" stroke="#2e9440" stroke-width="0.95"/><path d="M395.59,43.01L390.79,40.51L390.79,45.51Z" fill="none" stroke="#2e9440" stroke-width="0.95"/><path d="M403.28,47.44L398.48,44.94L398.48,49.94Z" fill="none" stroke="#2e9440" stroke-width="0.95"/><path d="M410.97,51.69L406.17,49.19L406.17,54.19Z" fill="none" stroke="#2e9440" stroke-width="0.95"/><path d="M418.66,52.97L413.86,50.47L413.86,55.47Z" fill="none" stroke="#2e9440" stroke-width="0.95"/><path d="M426.35,53.58L421.55,51.08L421.55,56.08Z" fill="none" stroke="#2e9440" stroke-width="0.95"/><path d="M434.04,54.00L429.24,51.50L429.24,56.50Z" fill="none" stroke="#2e9440" stroke-width="0.95"/><path d="M441.73,51.69L436.93,49.19L436.93,54.19Z" fill="none" stroke="#2e9440" stroke-width="0.95"/><path d="M449.42,49.57L444.62,47.07L444.62,52.07Z" fill="none" stroke="#2e9440" stroke-width="0.95"/><path d="M457.11,49.02L452.31,46.52L452.31,51.52Z" fill="none" stroke="#2e9440" stroke-width="0.95"/><path d="M464.80,131.01L460.00,128.51L460.00,133.51Z" fill="none" stroke="#2e9440" stroke-width="0.95"/><path d="M472.49,132.13L467.69,129.63L467.69,134.63Z" fill="none" stroke="#2e9440" stroke-width="0.95"/><path d="M480.18,132.16L475.38,129.66L475.38,134.66Z" fill="none" stroke="#2e9440" stroke-width="0.95"/><path d="M487.87,131.35L483.07,128.85L483.07,133.85Z" fill="none" stroke="#2e9440" stroke-width="0.95"/><path d="M495.56,130.72L490.76,128.22L490.76,133.22Z" fill="none" stroke="#2e9440" stroke-width="0.95"/><path d="M503.25,132.05L498.45,129.55L498.45,134.55Z" fill="none" stroke="#2e9440" stroke-width="0.95"/><path d="M510.94,131.43L506.14,128.93L506.14,133.93Z" fill="none" stroke="#2e9440" stroke-width="0.95"/><path d="M518.63,132.05L513.83,129.55L513.83,134.55Z" fill="none" stroke="#2e9440" stroke-width="0.95"/><path d="M526.32,131.64L521.52,129.14L521.52,134.14Z" fill="none" stroke="#2e9440" stroke-width="0.95"/><path d="M534.01,132.19L529.21,129.69L529.21,134.69Z" fill="none" stroke="#2e9440" stroke-width="0.95"/><path d="M541.70,131.61L536.90,129.11L536.90,134.11Z" fill="none" stroke="#2e9440" stroke-width="0.95"/>
<path d="M385.50,62.02L393.19,53.52L400.88,48.60L408.57,59.59L416.26,54.12L423.95,54.12L431.64,52.61L439.33,51.69L447.02,54.98L454.71,39.97L462.40,127.10L470.09,131.84L477.78,130.78L485.47,132.10L493.16,131.82L500.85,131.74L508.54,131.47L516.23,130.83L523.92,131.56L531.61,130.95L539.30,130.54" fill="none" stroke="#3c3c3c" stroke-width="1.0" stroke-linejoin="round"/>
<path d="M383.10,62.02L387.90,59.52L387.90,64.52Z" fill="none" stroke="#3c3c3c" stroke-width="0.95"/><path d="M390.79,53.52L395.59,51.02L395.59,56.02Z" fill="none" stroke="#3c3c3c" stroke-width="0.95"/><path d="M398.48,48.60L403.28,46.10L403.28,51.10Z" fill="none" stroke="#3c3c3c" stroke-width="0.95"/><path d="M406.17,59.59L410.97,57.09L410.97,62.09Z" fill="none" stroke="#3c3c3c" stroke-width="0.95"/><path d="M413.86,54.12L418.66,51.62L418.66,56.62Z" fill="none" stroke="#3c3c3c" stroke-width="0.95"/><path d="M421.55,54.12L426.35,51.62L426.35,56.62Z" fill="none" stroke="#3c3c3c" stroke-width="0.95"/><path d="M429.24,52.61L434.04,50.11L434.04,55.11Z" fill="none" stroke="#3c3c3c" stroke-width="0.95"/><path d="M436.93,51.69L441.73,49.19L441.73,54.19Z" fill="none" stroke="#3c3c3c" stroke-width="0.95"/><path d="M444.62,54.98L449.42,52.48L449.42,57.48Z" fill="none" stroke="#3c3c3c" stroke-width="0.95"/><path d="M452.31,39.97L457.11,37.47L457.11,42.47Z" fill="none" stroke="#3c3c3c" stroke-width="0.95"/><path d="M460.00,127.10L464.80,124.60L464.80,129.60Z" fill="none" stroke="#3c3c3c" stroke-width="0.95"/><path d="M467.69,131.84L472.49,129.34L472.49,134.34Z" fill="none" stroke="#3c3c3c" stroke-width="0.95"/><path d="M475.38,130.78L480.18,128.28L480.18,133.28Z" fill="none" stroke="#3c3c3c" stroke-width="0.95"/><path d="M483.07,132.10L487.87,129.60L487.87,134.60Z" fill="none" stroke="#3c3c3c" stroke-width="0.95"/><path d="M490.76,131.82L495.56,129.32L495.56,134.32Z" fill="none" stroke="#3c3c3c" stroke-width="0.95"/><path d="M498.45,131.74L503.25,129.24L503.25,134.24Z" fill="none" stroke="#3c3c3c" stroke-width="0.95"/><path d="M506.14,131.47L510.94,128.97L510.94,133.97Z" fill="none" stroke="#3c3c3c" stroke-width="0.95"/><path d="M513.83,130.83L518.63,128.33L518.63,133.33Z" fill="none" stroke="#3c3c3c" stroke-width="0.95"/><path d="M521.52,131.56L526.32,129.06L526.32,134.06Z" fill="none" stroke="#3c3c3c" stroke-width="0.95"/><path d="M529.21,130.95L534.01,128.45L534.01,133.45Z" fill="none" stroke="#3c3c3c" stroke-width="0.95"/><path d="M536.90,130.54L541.70,128.04L541.70,133.04Z" fill="none" stroke="#3c3c3c" stroke-width="0.95"/>
<rect x="472.70" y="47.70" width="66.60" height="52.80" fill="#fff" stroke="#cccccc" stroke-width="0.6"/>
<text x="472.10" y="101.30" text-anchor="end" class="itk">0.3</text>
<text x="472.10" y="96.02" text-anchor="end" class="itk">0.32</text>
<text x="472.10" y="90.74" text-anchor="end" class="itk">0.34</text>
<text x="472.10" y="85.46" text-anchor="end" class="itk">0.36</text>
<text x="472.10" y="80.18" text-anchor="end" class="itk">0.38</text>
<text x="472.10" y="74.90" text-anchor="end" class="itk">0.4</text>
<text x="472.10" y="69.62" text-anchor="end" class="itk">0.42</text>
<text x="472.10" y="64.34" text-anchor="end" class="itk">0.44</text>
<text x="472.10" y="59.06" text-anchor="end" class="itk">0.46</text>
<text x="472.10" y="53.78" text-anchor="end" class="itk">0.48</text>
<text x="472.10" y="48.50" text-anchor="end" class="itk">0.5</text>
<text x="472.70" y="103.40" text-anchor="middle" class="itk">-1</text>
<text x="489.35" y="103.40" text-anchor="middle" class="itk">-0.5</text>
<text x="506.00" y="103.40" text-anchor="middle" class="itk">0</text>
<text x="522.65" y="103.40" text-anchor="middle" class="itk">0.5</text>
<text x="539.30" y="103.40" text-anchor="middle" class="itk">1</text>
<text x="506.00" y="47.00" text-anchor="middle" class="ittl">BA</text>
<text transform="translate(466.10,75.60) rotate(-90)" text-anchor="middle" class="iyl">Precision</text>
<text x="506.00" y="107.70" text-anchor="middle" class="ibl">&#946;</text>
<path d="M472.70,100.50L476.03,100.50L479.36,100.50L482.69,100.50L486.02,100.50L489.35,100.50L492.68,100.50L496.01,100.50L499.34,100.50L502.67,100.50L506.00,100.50L509.33,100.03L512.66,99.67L515.99,99.80L519.32,99.73L522.65,99.80L525.98,99.90L529.31,100.05L532.64,100.03L535.97,100.01L539.30,100.01" fill="none" stroke="#5b3f9e" stroke-width="0.6"/>
<circle cx="472.70" cy="100.50" r="1.0" fill="#5b3f9e"/><circle cx="476.03" cy="100.50" r="1.0" fill="#5b3f9e"/><circle cx="479.36" cy="100.50" r="1.0" fill="#5b3f9e"/><circle cx="482.69" cy="100.50" r="1.0" fill="#5b3f9e"/><circle cx="486.02" cy="100.50" r="1.0" fill="#5b3f9e"/><circle cx="489.35" cy="100.50" r="1.0" fill="#5b3f9e"/><circle cx="492.68" cy="100.50" r="1.0" fill="#5b3f9e"/><circle cx="496.01" cy="100.50" r="1.0" fill="#5b3f9e"/><circle cx="499.34" cy="100.50" r="1.0" fill="#5b3f9e"/><circle cx="502.67" cy="100.50" r="1.0" fill="#5b3f9e"/><circle cx="506.00" cy="100.50" r="1.0" fill="#5b3f9e"/><circle cx="509.33" cy="100.03" r="1.0" fill="#5b3f9e"/><circle cx="512.66" cy="99.67" r="1.0" fill="#5b3f9e"/><circle cx="515.99" cy="99.80" r="1.0" fill="#5b3f9e"/><circle cx="519.32" cy="99.73" r="1.0" fill="#5b3f9e"/><circle cx="522.65" cy="99.80" r="1.0" fill="#5b3f9e"/><circle cx="525.98" cy="99.90" r="1.0" fill="#5b3f9e"/><circle cx="529.31" cy="100.05" r="1.0" fill="#5b3f9e"/><circle cx="532.64" cy="100.03" r="1.0" fill="#5b3f9e"/><circle cx="535.97" cy="100.01" r="1.0" fill="#5b3f9e"/><circle cx="539.30" cy="100.01" r="1.0" fill="#5b3f9e"/>
<path d="M472.70,52.80L476.03,55.72L479.36,56.74L482.69,57.18L486.02,55.28L489.35,54.70L492.68,60.83L496.01,73.22L499.34,91.46L502.67,98.02L506.00,100.21L509.33,100.03L512.66,100.00L515.99,99.82L519.32,99.71L522.65,99.70L525.98,99.68L529.31,100.04L532.64,99.69L535.97,100.01L539.30,100.06" fill="none" stroke="#cf1f2a" stroke-width="0.6"/>
<circle cx="472.70" cy="52.80" r="1.0" fill="#cf1f2a"/><circle cx="476.03" cy="55.72" r="1.0" fill="#cf1f2a"/><circle cx="479.36" cy="56.74" r="1.0" fill="#cf1f2a"/><circle cx="482.69" cy="57.18" r="1.0" fill="#cf1f2a"/><circle cx="486.02" cy="55.28" r="1.0" fill="#cf1f2a"/><circle cx="489.35" cy="54.70" r="1.0" fill="#cf1f2a"/><circle cx="492.68" cy="60.83" r="1.0" fill="#cf1f2a"/><circle cx="496.01" cy="73.22" r="1.0" fill="#cf1f2a"/><circle cx="499.34" cy="91.46" r="1.0" fill="#cf1f2a"/><circle cx="502.67" cy="98.02" r="1.0" fill="#cf1f2a"/><circle cx="506.00" cy="100.21" r="1.0" fill="#cf1f2a"/><circle cx="509.33" cy="100.03" r="1.0" fill="#cf1f2a"/><circle cx="512.66" cy="100.00" r="1.0" fill="#cf1f2a"/><circle cx="515.99" cy="99.82" r="1.0" fill="#cf1f2a"/><circle cx="519.32" cy="99.71" r="1.0" fill="#cf1f2a"/><circle cx="522.65" cy="99.70" r="1.0" fill="#cf1f2a"/><circle cx="525.98" cy="99.68" r="1.0" fill="#cf1f2a"/><circle cx="529.31" cy="100.04" r="1.0" fill="#cf1f2a"/><circle cx="532.64" cy="99.69" r="1.0" fill="#cf1f2a"/><circle cx="535.97" cy="100.01" r="1.0" fill="#cf1f2a"/><circle cx="539.30" cy="100.06" r="1.0" fill="#cf1f2a"/>
<path d="M472.70,66.66L476.03,70.75L479.36,68.85L482.69,72.50L486.02,72.93L489.35,83.43L492.68,90.00L496.01,96.56L499.34,99.92L502.67,100.21L506.00,100.21L509.33,99.96L512.66,99.81L515.99,100.08L519.32,99.99L522.65,99.90L525.98,99.69L529.31,99.90L532.64,99.89L535.97,99.91L539.30,100.05" fill="none" stroke="#2865bb" stroke-width="0.6"/>
<circle cx="472.70" cy="66.66" r="1.0" fill="#2865bb"/><circle cx="476.03" cy="70.75" r="1.0" fill="#2865bb"/><circle cx="479.36" cy="68.85" r="1.0" fill="#2865bb"/><circle cx="482.69" cy="72.50" r="1.0" fill="#2865bb"/><circle cx="486.02" cy="72.93" r="1.0" fill="#2865bb"/><circle cx="489.35" cy="83.43" r="1.0" fill="#2865bb"/><circle cx="492.68" cy="90.00" r="1.0" fill="#2865bb"/><circle cx="496.01" cy="96.56" r="1.0" fill="#2865bb"/><circle cx="499.34" cy="99.92" r="1.0" fill="#2865bb"/><circle cx="502.67" cy="100.21" r="1.0" fill="#2865bb"/><circle cx="506.00" cy="100.21" r="1.0" fill="#2865bb"/><circle cx="509.33" cy="99.96" r="1.0" fill="#2865bb"/><circle cx="512.66" cy="99.81" r="1.0" fill="#2865bb"/><circle cx="515.99" cy="100.08" r="1.0" fill="#2865bb"/><circle cx="519.32" cy="99.99" r="1.0" fill="#2865bb"/><circle cx="522.65" cy="99.90" r="1.0" fill="#2865bb"/><circle cx="525.98" cy="99.69" r="1.0" fill="#2865bb"/><circle cx="529.31" cy="99.90" r="1.0" fill="#2865bb"/><circle cx="532.64" cy="99.89" r="1.0" fill="#2865bb"/><circle cx="535.97" cy="99.91" r="1.0" fill="#2865bb"/><circle cx="539.30" cy="100.05" r="1.0" fill="#2865bb"/>
<path d="M472.70,60.83L476.03,59.66L479.36,57.91L482.69,57.18L486.02,56.45L489.35,56.16L492.68,57.18L496.01,60.83L499.34,77.60L502.67,93.64L506.00,98.75L509.33,99.66L512.66,99.64L515.99,99.74L519.32,99.90L522.65,99.88L525.98,99.94L529.31,99.77L532.64,99.77L535.97,99.94L539.30,99.66" fill="none" stroke="#e07b2a" stroke-width="0.6"/>
<circle cx="472.70" cy="60.83" r="1.0" fill="#e07b2a"/><circle cx="476.03" cy="59.66" r="1.0" fill="#e07b2a"/><circle cx="479.36" cy="57.91" r="1.0" fill="#e07b2a"/><circle cx="482.69" cy="57.18" r="1.0" fill="#e07b2a"/><circle cx="486.02" cy="56.45" r="1.0" fill="#e07b2a"/><circle cx="489.35" cy="56.16" r="1.0" fill="#e07b2a"/><circle cx="492.68" cy="57.18" r="1.0" fill="#e07b2a"/><circle cx="496.01" cy="60.83" r="1.0" fill="#e07b2a"/><circle cx="499.34" cy="77.60" r="1.0" fill="#e07b2a"/><circle cx="502.67" cy="93.64" r="1.0" fill="#e07b2a"/><circle cx="506.00" cy="98.75" r="1.0" fill="#e07b2a"/><circle cx="509.33" cy="99.66" r="1.0" fill="#e07b2a"/><circle cx="512.66" cy="99.64" r="1.0" fill="#e07b2a"/><circle cx="515.99" cy="99.74" r="1.0" fill="#e07b2a"/><circle cx="519.32" cy="99.90" r="1.0" fill="#e07b2a"/><circle cx="522.65" cy="99.88" r="1.0" fill="#e07b2a"/><circle cx="525.98" cy="99.94" r="1.0" fill="#e07b2a"/><circle cx="529.31" cy="99.77" r="1.0" fill="#e07b2a"/><circle cx="532.64" cy="99.77" r="1.0" fill="#e07b2a"/><circle cx="535.97" cy="99.94" r="1.0" fill="#e07b2a"/><circle cx="539.30" cy="99.66" r="1.0" fill="#e07b2a"/>
<path d="M472.70,63.74L476.03,60.83L479.36,62.29L482.69,64.47L486.02,64.91L489.35,68.12L492.68,67.39L496.01,71.04L499.34,89.27L502.67,97.29L506.00,99.48L509.33,99.74L512.66,99.99L515.99,99.70L519.32,99.76L522.65,99.98L525.98,99.95L529.31,99.72L532.64,100.06L535.97,99.88L539.30,99.62" fill="none" stroke="#2e9440" stroke-width="0.6"/>
<circle cx="472.70" cy="63.74" r="1.0" fill="#2e9440"/><circle cx="476.03" cy="60.83" r="1.0" fill="#2e9440"/><circle cx="479.36" cy="62.29" r="1.0" fill="#2e9440"/><circle cx="482.69" cy="64.47" r="1.0" fill="#2e9440"/><circle cx="486.02" cy="64.91" r="1.0" fill="#2e9440"/><circle cx="489.35" cy="68.12" r="1.0" fill="#2e9440"/><circle cx="492.68" cy="67.39" r="1.0" fill="#2e9440"/><circle cx="496.01" cy="71.04" r="1.0" fill="#2e9440"/><circle cx="499.34" cy="89.27" r="1.0" fill="#2e9440"/><circle cx="502.67" cy="97.29" r="1.0" fill="#2e9440"/><circle cx="506.00" cy="99.48" r="1.0" fill="#2e9440"/><circle cx="509.33" cy="99.74" r="1.0" fill="#2e9440"/><circle cx="512.66" cy="99.99" r="1.0" fill="#2e9440"/><circle cx="515.99" cy="99.70" r="1.0" fill="#2e9440"/><circle cx="519.32" cy="99.76" r="1.0" fill="#2e9440"/><circle cx="522.65" cy="99.98" r="1.0" fill="#2e9440"/><circle cx="525.98" cy="99.95" r="1.0" fill="#2e9440"/><circle cx="529.31" cy="99.72" r="1.0" fill="#2e9440"/><circle cx="532.64" cy="100.06" r="1.0" fill="#2e9440"/><circle cx="535.97" cy="99.88" r="1.0" fill="#2e9440"/><circle cx="539.30" cy="99.62" r="1.0" fill="#2e9440"/>
<path d="M472.70,63.01L476.03,62.29L479.36,60.10L482.69,63.74L486.02,63.01L489.35,64.47L492.68,60.83L496.01,61.56L499.34,60.83L502.67,90.00L506.00,98.02L509.33,99.97L512.66,99.85L515.99,99.65L519.32,99.66L522.65,99.71L525.98,99.83L529.31,99.64L532.64,99.97L535.97,99.66L539.30,99.90" fill="none" stroke="#3c3c3c" stroke-width="0.6"/>
<circle cx="472.70" cy="63.01" r="1.0" fill="#3c3c3c"/><circle cx="476.03" cy="62.29" r="1.0" fill="#3c3c3c"/><circle cx="479.36" cy="60.10" r="1.0" fill="#3c3c3c"/><circle cx="482.69" cy="63.74" r="1.0" fill="#3c3c3c"/><circle cx="486.02" cy="63.01" r="1.0" fill="#3c3c3c"/><circle cx="489.35" cy="64.47" r="1.0" fill="#3c3c3c"/><circle cx="492.68" cy="60.83" r="1.0" fill="#3c3c3c"/><circle cx="496.01" cy="61.56" r="1.0" fill="#3c3c3c"/><circle cx="499.34" cy="60.83" r="1.0" fill="#3c3c3c"/><circle cx="502.67" cy="90.00" r="1.0" fill="#3c3c3c"/><circle cx="506.00" cy="98.02" r="1.0" fill="#3c3c3c"/><circle cx="509.33" cy="99.97" r="1.0" fill="#3c3c3c"/><circle cx="512.66" cy="99.85" r="1.0" fill="#3c3c3c"/><circle cx="515.99" cy="99.65" r="1.0" fill="#3c3c3c"/><circle cx="519.32" cy="99.66" r="1.0" fill="#3c3c3c"/><circle cx="522.65" cy="99.71" r="1.0" fill="#3c3c3c"/><circle cx="525.98" cy="99.83" r="1.0" fill="#3c3c3c"/><circle cx="529.31" cy="99.64" r="1.0" fill="#3c3c3c"/><circle cx="532.64" cy="99.97" r="1.0" fill="#3c3c3c"/><circle cx="535.97" cy="99.66" r="1.0" fill="#3c3c3c"/><circle cx="539.30" cy="99.90" r="1.0" fill="#3c3c3c"/>
<text transform="translate(19.45,284.60) scale(1,1.12)" text-anchor="end" class="tk">0.3</text>
<text transform="translate(19.45,269.35) scale(1,1.12)" text-anchor="end" class="tk">0.32</text>
<path d="M21.35,267.15h1.6M177.90,267.15h-1.6" stroke="#cccccc" stroke-width="0.6"/>
<text transform="translate(19.45,254.10) scale(1,1.12)" text-anchor="end" class="tk">0.34</text>
<path d="M21.35,251.90h1.6M177.90,251.90h-1.6" stroke="#cccccc" stroke-width="0.6"/>
<text transform="translate(19.45,238.85) scale(1,1.12)" text-anchor="end" class="tk">0.36</text>
<path d="M21.35,236.65h1.6M177.90,236.65h-1.6" stroke="#cccccc" stroke-width="0.6"/>
<text transform="translate(19.45,223.60) scale(1,1.12)" text-anchor="end" class="tk">0.38</text>
<path d="M21.35,221.40h1.6M177.90,221.40h-1.6" stroke="#cccccc" stroke-width="0.6"/>
<text transform="translate(19.45,208.35) scale(1,1.12)" text-anchor="end" class="tk">0.4</text>
<path d="M21.35,206.15h1.6M177.90,206.15h-1.6" stroke="#cccccc" stroke-width="0.6"/>
<text transform="translate(19.45,193.10) scale(1,1.12)" text-anchor="end" class="tk">0.42</text>
<path d="M21.35,190.90h1.6M177.90,190.90h-1.6" stroke="#cccccc" stroke-width="0.6"/>
<text transform="translate(19.45,177.85) scale(1,1.12)" text-anchor="end" class="tk">0.44</text>
<path d="M21.35,175.65h1.6M177.90,175.65h-1.6" stroke="#cccccc" stroke-width="0.6"/>
<text transform="translate(19.45,162.60) scale(1,1.12)" text-anchor="end" class="tk">0.46</text>
<text transform="translate(21.35,290.10) scale(1,1.12)" text-anchor="middle" class="tk">-10</text>
<text transform="translate(60.49,290.10) scale(1,1.12)" text-anchor="middle" class="tk">-5</text>
<path d="M60.49,282.40v-1.6M60.49,160.40v1.6" stroke="#cccccc" stroke-width="0.6"/>
<text transform="translate(99.62,290.10) scale(1,1.12)" text-anchor="middle" class="tk">0</text>
<path d="M99.62,282.40v-1.6M99.62,160.40v1.6" stroke="#cccccc" stroke-width="0.6"/>
<text transform="translate(138.76,290.10) scale(1,1.12)" text-anchor="middle" class="tk">5</text>
<path d="M138.76,282.40v-1.6M138.76,160.40v1.6" stroke="#cccccc" stroke-width="0.6"/>
<text transform="translate(177.90,290.10) scale(1,1.12)" text-anchor="middle" class="tk">10</text>
<rect x="21.35" y="160.40" width="156.55" height="122.00" fill="none" stroke="#cccccc" stroke-width="1.0"/>
<text x="99.62" y="157.80" text-anchor="middle" class="ttl">Karate</text>
<text transform="translate(162.40,174.80) scale(1.12,1)" text-anchor="middle" class="let">(d)</text>
<text transform="translate(6.15,221.40) rotate(-90)" text-anchor="middle" class="yl">Precision</text>
<text x="99.62" y="297.40" text-anchor="middle" class="bl">&#946;</text>
<path d="M21.35,279.80L29.18,279.50L37.01,280.80L44.83,280.80L52.66,278.60L60.49,280.80L68.31,279.50L76.14,280.30L83.97,280.80L91.80,280.80L99.62,281.93L107.45,281.55L115.28,281.18L123.11,281.25L130.94,281.22L138.76,281.58L146.59,281.14L154.42,281.46L162.25,277.40L170.07,276.40L177.90,282.04" fill="none" stroke="#5b3f9e" stroke-width="1.0" stroke-linejoin="round"/>
<path d="M21.35,277.20L23.65,279.80L21.35,282.40L19.05,279.80Z" fill="none" stroke="#5b3f9e" stroke-width="0.95"/><path d="M29.18,276.90L31.48,279.50L29.18,282.10L26.88,279.50Z" fill="none" stroke="#5b3f9e" stroke-width="0.95"/><path d="M37.01,278.20L39.30,280.80L37.01,283.40L34.71,280.80Z" fill="none" stroke="#5b3f9e" stroke-width="0.95"/><path d="M44.83,278.20L47.13,280.80L44.83,283.40L42.53,280.80Z" fill="none" stroke="#5b3f9e" stroke-width="0.95"/><path d="M52.66,276.00L54.96,278.60L52.66,281.20L50.36,278.60Z" fill="none" stroke="#5b3f9e" stroke-width="0.95"/><path d="M60.49,278.20L62.79,280.80L60.49,283.40L58.19,280.80Z" fill="none" stroke="#5b3f9e" stroke-width="0.95"/><path d="M68.31,276.90L70.61,279.50L68.31,282.10L66.02,279.50Z" fill="none" stroke="#5b3f9e" stroke-width="0.95"/><path d="M76.14,277.70L78.44,280.30L76.14,282.90L73.84,280.30Z" fill="none" stroke="#5b3f9e" stroke-width="0.95"/><path d="M83.97,278.20L86.27,280.80L83.97,283.40L81.67,280.80Z" fill="none" stroke="#5b3f9e" stroke-width="0.95"/><path d="M91.80,278.20L94.10,280.80L91.80,283.40L89.50,280.80Z" fill="none" stroke="#5b3f9e" stroke-width="0.95"/><path d="M99.62,279.33L101.92,281.93L99.62,284.53L97.33,281.93Z" fill="none" stroke="#5b3f9e" stroke-width="0.95"/><path d="M107.45,278.95L109.75,281.55L107.45,284.15L105.15,281.55Z" fill="none" stroke="#5b3f9e" stroke-width="0.95"/><path d="M115.28,278.58L117.58,281.18L115.28,283.78L112.98,281.18Z" fill="none" stroke="#5b3f9e" stroke-width="0.95"/><path d="M123.11,278.65L125.41,281.25L123.11,283.85L120.81,281.25Z" fill="none" stroke="#5b3f9e" stroke-width="0.95"/><path d="M130.94,278.62L133.24,281.22L130.94,283.82L128.63,281.22Z" fill="none" stroke="#5b3f9e" stroke-width="0.95"/><path d="M138.76,278.98L141.06,281.58L138.76,284.18L136.46,281.58Z" fill="none" stroke="#5b3f9e" stroke-width="0.95"/><path d="M146.59,278.54L148.89,281.14L146.59,283.74L144.29,281.14Z" fill="none" stroke="#5b3f9e" stroke-width="0.95"/><path d="M154.42,278.86L156.72,281.46L154.42,284.06L152.12,281.46Z" fill="none" stroke="#5b3f9e" stroke-width="0.95"/><path d="M162.25,274.80L164.55,277.40L162.25,280.00L159.94,277.40Z" fill="none" stroke="#5b3f9e" stroke-width="0.95"/><path d="M170.07,273.80L172.37,276.40L170.07,279.00L167.77,276.40Z" fill="none" stroke="#5b3f9e" stroke-width="0.95"/><path d="M177.90,279.44L180.20,282.04L177.90,284.64L175.60,282.04Z" fill="none" stroke="#5b3f9e" stroke-width="0.95"/>
<path d="M21.35,178.01L29.18,178.62L37.01,186.02L44.83,179.62L52.66,180.99L60.49,191.97L68.31,171.99L76.14,172.98L83.97,167.03L91.80,181.60L99.62,272.40L107.45,279.80L115.28,280.90L123.11,280.94L130.94,280.12L138.76,281.13L146.59,281.18L154.42,281.16L162.25,280.88L170.07,280.37L177.90,279.77" fill="none" stroke="#cf1f2a" stroke-width="1.0" stroke-linejoin="round"/>
<polygon points="21.35,175.11 22.14,177.22 24.39,177.32 22.63,178.73 23.23,180.90 21.35,179.66 19.47,180.90 20.07,178.73 18.31,177.32 20.56,177.22" fill="#cf1f2a" stroke="#cf1f2a" stroke-width="0.3"/><polygon points="29.18,175.72 29.97,177.83 32.22,177.93 30.46,179.34 31.06,181.51 29.18,180.27 27.30,181.51 27.89,179.34 26.13,177.93 28.38,177.83" fill="#cf1f2a" stroke="#cf1f2a" stroke-width="0.3"/><polygon points="37.01,183.12 37.80,185.23 40.05,185.33 38.29,186.74 38.89,188.91 37.01,187.67 35.12,188.91 35.72,186.74 33.96,185.33 36.21,185.23" fill="#cf1f2a" stroke="#cf1f2a" stroke-width="0.3"/><polygon points="44.83,176.72 45.63,178.82 47.88,178.93 46.12,180.33 46.71,182.50 44.83,181.27 42.95,182.50 43.55,180.33 41.79,178.93 44.04,178.82" fill="#cf1f2a" stroke="#cf1f2a" stroke-width="0.3"/><polygon points="52.66,178.09 53.45,180.20 55.70,180.30 53.94,181.70 54.54,183.88 52.66,182.64 50.78,183.88 51.38,181.70 49.62,180.30 51.87,180.20" fill="#cf1f2a" stroke="#cf1f2a" stroke-width="0.3"/><polygon points="60.49,189.07 61.28,191.18 63.53,191.28 61.77,192.68 62.37,194.86 60.49,193.62 58.61,194.86 59.20,192.68 57.44,191.28 59.69,191.18" fill="#cf1f2a" stroke="#cf1f2a" stroke-width="0.3"/><polygon points="68.31,169.09 69.11,171.20 71.36,171.30 69.60,172.71 70.20,174.88 68.31,173.64 66.43,174.88 67.03,172.71 65.27,171.30 67.52,171.20" fill="#cf1f2a" stroke="#cf1f2a" stroke-width="0.3"/><polygon points="76.14,170.08 76.94,172.19 79.19,172.29 77.43,173.70 78.02,175.87 76.14,174.63 74.26,175.87 74.86,173.70 73.10,172.29 75.35,172.19" fill="#cf1f2a" stroke="#cf1f2a" stroke-width="0.3"/><polygon points="83.97,164.13 84.76,166.24 87.01,166.34 85.25,167.75 85.85,169.92 83.97,168.68 82.09,169.92 82.69,167.75 80.93,166.34 83.18,166.24" fill="#cf1f2a" stroke="#cf1f2a" stroke-width="0.3"/><polygon points="91.80,178.70 92.59,180.81 94.84,180.91 93.08,182.31 93.68,184.49 91.80,183.25 89.92,184.49 90.51,182.31 88.75,180.91 91.00,180.81" fill="#cf1f2a" stroke="#cf1f2a" stroke-width="0.3"/><polygon points="99.62,269.50 100.42,271.61 102.67,271.71 100.91,273.12 101.51,275.29 99.62,274.05 97.74,275.29 98.34,273.12 96.58,271.71 98.83,271.61" fill="#cf1f2a" stroke="#cf1f2a" stroke-width="0.3"/><polygon points="107.45,276.90 108.25,279.00 110.50,279.11 108.74,280.51 109.33,282.68 107.45,281.45 105.57,282.68 106.17,280.51 104.41,279.11 106.66,279.00" fill="#cf1f2a" stroke="#cf1f2a" stroke-width="0.3"/><polygon points="115.28,278.00 116.07,280.10 118.32,280.21 116.56,281.61 117.16,283.79 115.28,282.55 113.40,283.79 114.00,281.61 112.24,280.21 114.49,280.10" fill="#cf1f2a" stroke="#cf1f2a" stroke-width="0.3"/><polygon points="123.11,278.04 123.90,280.15 126.15,280.25 124.39,281.66 124.99,283.83 123.11,282.59 121.23,283.83 121.82,281.66 120.06,280.25 122.31,280.15" fill="#cf1f2a" stroke="#cf1f2a" stroke-width="0.3"/><polygon points="130.94,277.22 131.73,279.33 133.98,279.43 132.22,280.83 132.82,283.01 130.94,281.77 129.05,283.01 129.65,280.83 127.89,279.43 130.14,279.33" fill="#cf1f2a" stroke="#cf1f2a" stroke-width="0.3"/><polygon points="138.76,278.23 139.56,280.34 141.81,280.44 140.05,281.85 140.64,284.02 138.76,282.78 136.88,284.02 137.48,281.85 135.72,280.44 137.97,280.34" fill="#cf1f2a" stroke="#cf1f2a" stroke-width="0.3"/><polygon points="146.59,278.28 147.38,280.39 149.63,280.49 147.87,281.90 148.47,284.07 146.59,282.83 144.71,284.07 145.31,281.90 143.55,280.49 145.80,280.39" fill="#cf1f2a" stroke="#cf1f2a" stroke-width="0.3"/><polygon points="154.42,278.26 155.21,280.37 157.46,280.47 155.70,281.88 156.30,284.05 154.42,282.81 152.54,284.05 153.13,281.88 151.37,280.47 153.62,280.37" fill="#cf1f2a" stroke="#cf1f2a" stroke-width="0.3"/><polygon points="162.25,277.98 163.04,280.08 165.29,280.19 163.53,281.59 164.13,283.76 162.25,282.53 160.36,283.76 160.96,281.59 159.20,280.19 161.45,280.08" fill="#cf1f2a" stroke="#cf1f2a" stroke-width="0.3"/><polygon points="170.07,277.47 170.87,279.58 173.12,279.68 171.36,281.09 171.95,283.26 170.07,282.02 168.19,283.26 168.79,281.09 167.03,279.68 169.28,279.58" fill="#cf1f2a" stroke="#cf1f2a" stroke-width="0.3"/><polygon points="177.90,276.87 178.69,278.97 180.94,279.08 179.18,280.48 179.78,282.65 177.90,281.42 176.02,282.65 176.62,280.48 174.86,279.08 177.11,278.97" fill="#cf1f2a" stroke="#cf1f2a" stroke-width="0.3"/>
<path d="M21.35,197.99L29.18,189.60L37.01,193.03L44.83,189.60L52.66,189.98L60.49,185.56L68.31,194.41L76.14,197.38L83.97,197.23L91.80,202.41L99.62,281.12L107.45,279.78L115.28,280.50L123.11,279.88L130.94,280.03L138.76,281.21L146.59,280.33L154.42,281.28L162.25,281.49L170.07,280.79L177.90,280.11" fill="none" stroke="#2865bb" stroke-width="1.0" stroke-linejoin="round"/>
<circle cx="21.35" cy="197.99" r="2.55" fill="none" stroke="#2865bb" stroke-width="0.95"/><circle cx="29.18" cy="189.60" r="2.55" fill="none" stroke="#2865bb" stroke-width="0.95"/><circle cx="37.01" cy="193.03" r="2.55" fill="none" stroke="#2865bb" stroke-width="0.95"/><circle cx="44.83" cy="189.60" r="2.55" fill="none" stroke="#2865bb" stroke-width="0.95"/><circle cx="52.66" cy="189.98" r="2.55" fill="none" stroke="#2865bb" stroke-width="0.95"/><circle cx="60.49" cy="185.56" r="2.55" fill="none" stroke="#2865bb" stroke-width="0.95"/><circle cx="68.31" cy="194.41" r="2.55" fill="none" stroke="#2865bb" stroke-width="0.95"/><circle cx="76.14" cy="197.38" r="2.55" fill="none" stroke="#2865bb" stroke-width="0.95"/><circle cx="83.97" cy="197.23" r="2.55" fill="none" stroke="#2865bb" stroke-width="0.95"/><circle cx="91.80" cy="202.41" r="2.55" fill="none" stroke="#2865bb" stroke-width="0.95"/><circle cx="99.62" cy="281.12" r="2.55" fill="none" stroke="#2865bb" stroke-width="0.95"/><circle cx="107.45" cy="279.78" r="2.55" fill="none" stroke="#2865bb" stroke-width="0.95"/><circle cx="115.28" cy="280.50" r="2.55" fill="none" stroke="#2865bb" stroke-width="0.95"/><circle cx="123.11" cy="279.88" r="2.55" fill="none" stroke="#2865bb" stroke-width="0.95"/><circle cx="130.94" cy="280.03" r="2.55" fill="none" stroke="#2865bb" stroke-width="0.95"/><circle cx="138.76" cy="281.21" r="2.55" fill="none" stroke="#2865bb" stroke-width="0.95"/><circle cx="146.59" cy="280.33" r="2.55" fill="none" stroke="#2865bb" stroke-width="0.95"/><circle cx="154.42" cy="281.28" r="2.55" fill="none" stroke="#2865bb" stroke-width="0.95"/><circle cx="162.25" cy="281.49" r="2.55" fill="none" stroke="#2865bb" stroke-width="0.95"/><circle cx="170.07" cy="280.79" r="2.55" fill="none" stroke="#2865bb" stroke-width="0.95"/><circle cx="177.90" cy="280.11" r="2.55" fill="none" stroke="#2865bb" stroke-width="0.95"/>
<path d="M21.35,185.41L29.18,181.60L37.01,181.98L44.83,184.04L52.66,186.63L60.49,190.98L68.31,184.04L76.14,182.97L83.97,186.40L91.80,185.03L99.62,280.48L107.45,281.15L115.28,279.99L123.11,279.86L130.94,281.07L138.76,280.69L146.59,280.35L154.42,279.88L162.25,281.27L170.07,280.50L177.90,279.76" fill="none" stroke="#e07b2a" stroke-width="1.0" stroke-linejoin="round"/>
<rect x="19.05" y="183.11" width="4.60" height="4.60" fill="none" stroke="#e07b2a" stroke-width="0.95"/><rect x="26.88" y="179.30" width="4.60" height="4.60" fill="none" stroke="#e07b2a" stroke-width="0.95"/><rect x="34.71" y="179.68" width="4.60" height="4.60" fill="none" stroke="#e07b2a" stroke-width="0.95"/><rect x="42.53" y="181.74" width="4.60" height="4.60" fill="none" stroke="#e07b2a" stroke-width="0.95"/><rect x="50.36" y="184.33" width="4.60" height="4.60" fill="none" stroke="#e07b2a" stroke-width="0.95"/><rect x="58.19" y="188.68" width="4.60" height="4.60" fill="none" stroke="#e07b2a" stroke-width="0.95"/><rect x="66.02" y="181.74" width="4.60" height="4.60" fill="none" stroke="#e07b2a" stroke-width="0.95"/><rect x="73.84" y="180.67" width="4.60" height="4.60" fill="none" stroke="#e07b2a" stroke-width="0.95"/><rect x="81.67" y="184.10" width="4.60" height="4.60" fill="none" stroke="#e07b2a" stroke-width="0.95"/><rect x="89.50" y="182.73" width="4.60" height="4.60" fill="none" stroke="#e07b2a" stroke-width="0.95"/><rect x="97.33" y="278.18" width="4.60" height="4.60" fill="none" stroke="#e07b2a" stroke-width="0.95"/><rect x="105.15" y="278.85" width="4.60" height="4.60" fill="none" stroke="#e07b2a" stroke-width="0.95"/><rect x="112.98" y="277.69" width="4.60" height="4.60" fill="none" stroke="#e07b2a" stroke-width="0.95"/><rect x="120.81" y="277.56" width="4.60" height="4.60" fill="none" stroke="#e07b2a" stroke-width="0.95"/><rect x="128.63" y="278.77" width="4.60" height="4.60" fill="none" stroke="#e07b2a" stroke-width="0.95"/><rect x="136.46" y="278.39" width="4.60" height="4.60" fill="none" stroke="#e07b2a" stroke-width="0.95"/><rect x="144.29" y="278.05" width="4.60" height="4.60" fill="none" stroke="#e07b2a" stroke-width="0.95"/><rect x="152.12" y="277.58" width="4.60" height="4.60" fill="none" stroke="#e07b2a" stroke-width="0.95"/><rect x="159.94" y="278.97" width="4.60" height="4.60" fill="none" stroke="#e07b2a" stroke-width="0.95"/><rect x="167.77" y="278.20" width="4.60" height="4.60" fill="none" stroke="#e07b2a" stroke-width="0.95"/><rect x="175.60" y="277.46" width="4.60" height="4.60" fill="none" stroke="#e07b2a" stroke-width="0.95"/>
<path d="M21.35,188.00L29.18,182.97L37.01,192.43L44.83,189.98L52.66,190.98L60.49,191.97L68.31,193.95L76.14,189.98L83.97,189.98L91.80,185.03L99.62,280.40L107.45,280.21L115.28,280.11L123.11,280.59L130.94,280.98L138.76,280.44L146.59,280.55L154.42,280.88L162.25,279.96L170.07,280.85L177.90,280.63" fill="none" stroke="#2e9440" stroke-width="1.0" stroke-linejoin="round"/>
<path d="M23.75,188.00L18.95,185.50L18.95,190.50Z" fill="none" stroke="#2e9440" stroke-width="0.95"/><path d="M31.58,182.97L26.78,180.47L26.78,185.47Z" fill="none" stroke="#2e9440" stroke-width="0.95"/><path d="M39.41,192.43L34.61,189.93L34.61,194.93Z" fill="none" stroke="#2e9440" stroke-width="0.95"/><path d="M47.23,189.98L42.43,187.48L42.43,192.48Z" fill="none" stroke="#2e9440" stroke-width="0.95"/><path d="M55.06,190.98L50.26,188.48L50.26,193.48Z" fill="none" stroke="#2e9440" stroke-width="0.95"/><path d="M62.89,191.97L58.09,189.47L58.09,194.47Z" fill="none" stroke="#2e9440" stroke-width="0.95"/><path d="M70.72,193.95L65.91,191.45L65.91,196.45Z" fill="none" stroke="#2e9440" stroke-width="0.95"/><path d="M78.54,189.98L73.74,187.48L73.74,192.48Z" fill="none" stroke="#2e9440" stroke-width="0.95"/><path d="M86.37,189.98L81.57,187.48L81.57,192.48Z" fill="none" stroke="#2e9440" stroke-width="0.95"/><path d="M94.20,185.03L89.40,182.53L89.40,187.53Z" fill="none" stroke="#2e9440" stroke-width="0.95"/><path d="M102.03,280.40L97.22,277.90L97.22,282.90Z" fill="none" stroke="#2e9440" stroke-width="0.95"/><path d="M109.85,280.21L105.05,277.71L105.05,282.71Z" fill="none" stroke="#2e9440" stroke-width="0.95"/><path d="M117.68,280.11L112.88,277.61L112.88,282.61Z" fill="none" stroke="#2e9440" stroke-width="0.95"/><path d="M125.51,280.59L120.71,278.09L120.71,283.09Z" fill="none" stroke="#2e9440" stroke-width="0.95"/><path d="M133.34,280.98L128.53,278.48L128.53,283.48Z" fill="none" stroke="#2e9440" stroke-width="0.95"/><path d="M141.16,280.44L136.36,277.94L136.36,282.94Z" fill="none" stroke="#2e9440" stroke-width="0.95"/><path d="M148.99,280.55L144.19,278.05L144.19,283.05Z" fill="none" stroke="#2e9440" stroke-width="0.95"/><path d="M156.82,280.88L152.02,278.38L152.02,283.38Z" fill="none" stroke="#2e9440" stroke-width="0.95"/><path d="M164.65,279.96L159.84,277.46L159.84,282.46Z" fill="none" stroke="#2e9440" stroke-width="0.95"/><path d="M172.47,280.85L167.67,278.35L167.67,283.35Z" fill="none" stroke="#2e9440" stroke-width="0.95"/><path d="M180.30,280.63L175.50,278.13L175.50,283.13Z" fill="none" stroke="#2e9440" stroke-width="0.95"/>
<path d="M21.35,185.56L29.18,185.56L37.01,189.98L44.83,182.97L52.66,189.98L60.49,193.95L68.31,193.03L76.14,187.62L83.97,193.57L91.80,188.99L99.62,280.13L107.45,280.04L115.28,279.90L123.11,280.33L130.94,281.05L138.76,279.97L146.59,279.86L154.42,280.21L162.25,280.12L170.07,280.58L177.90,280.61" fill="none" stroke="#3c3c3c" stroke-width="1.0" stroke-linejoin="round"/>
<path d="M18.95,185.56L23.75,183.06L23.75,188.06Z" fill="none" stroke="#3c3c3c" stroke-width="0.95"/><path d="M26.78,185.56L31.58,183.06L31.58,188.06Z" fill="none" stroke="#3c3c3c" stroke-width="0.95"/><path d="M34.61,189.98L39.41,187.48L39.41,192.48Z" fill="none" stroke="#3c3c3c" stroke-width="0.95"/><path d="M42.43,182.97L47.23,180.47L47.23,185.47Z" fill="none" stroke="#3c3c3c" stroke-width="0.95"/><path d="M50.26,189.98L55.06,187.48L55.06,192.48Z" fill="none" stroke="#3c3c3c" stroke-width="0.95"/><path d="M58.09,193.95L62.89,191.45L62.89,196.45Z" fill="none" stroke="#3c3c3c" stroke-width="0.95"/><path d="M65.91,193.03L70.72,190.53L70.72,195.53Z" fill="none" stroke="#3c3c3c" stroke-width="0.95"/><path d="M73.74,187.62L78.54,185.12L78.54,190.12Z" fill="none" stroke="#3c3c3c" stroke-width="0.95"/><path d="M81.57,193.57L86.37,191.07L86.37,196.07Z" fill="none" stroke="#3c3c3c" stroke-width="0.95"/><path d="M89.40,188.99L94.20,186.49L94.20,191.49Z" fill="none" stroke="#3c3c3c" stroke-width="0.95"/><path d="M97.22,280.13L102.03,277.63L102.03,282.63Z" fill="none" stroke="#3c3c3c" stroke-width="0.95"/><path d="M105.05,280.04L109.85,277.54L109.85,282.54Z" fill="none" stroke="#3c3c3c" stroke-width="0.95"/><path d="M112.88,279.90L117.68,277.40L117.68,282.40Z" fill="none" stroke="#3c3c3c" stroke-width="0.95"/><path d="M120.71,280.33L125.51,277.83L125.51,282.83Z" fill="none" stroke="#3c3c3c" stroke-width="0.95"/><path d="M128.53,281.05L133.34,278.55L133.34,283.55Z" fill="none" stroke="#3c3c3c" stroke-width="0.95"/><path d="M136.36,279.97L141.16,277.47L141.16,282.47Z" fill="none" stroke="#3c3c3c" stroke-width="0.95"/><path d="M144.19,279.86L148.99,277.36L148.99,282.36Z" fill="none" stroke="#3c3c3c" stroke-width="0.95"/><path d="M152.02,280.21L156.82,277.71L156.82,282.71Z" fill="none" stroke="#3c3c3c" stroke-width="0.95"/><path d="M159.84,280.12L164.65,277.62L164.65,282.62Z" fill="none" stroke="#3c3c3c" stroke-width="0.95"/><path d="M167.67,280.58L172.47,278.08L172.47,283.08Z" fill="none" stroke="#3c3c3c" stroke-width="0.95"/><path d="M175.50,280.61L180.30,278.11L180.30,283.11Z" fill="none" stroke="#3c3c3c" stroke-width="0.95"/>
<rect x="110.90" y="196.30" width="67.00" height="51.80" fill="#fff" stroke="#cccccc" stroke-width="0.6"/>
<text x="110.30" y="248.90" text-anchor="end" class="itk">0.3</text>
<text x="110.30" y="243.14" text-anchor="end" class="itk">0.32</text>
<text x="110.30" y="237.39" text-anchor="end" class="itk">0.34</text>
<text x="110.30" y="231.63" text-anchor="end" class="itk">0.36</text>
<text x="110.30" y="225.88" text-anchor="end" class="itk">0.38</text>
<text x="110.30" y="220.12" text-anchor="end" class="itk">0.4</text>
<text x="110.30" y="214.37" text-anchor="end" class="itk">0.42</text>
<text x="110.30" y="208.61" text-anchor="end" class="itk">0.44</text>
<text x="110.30" y="202.86" text-anchor="end" class="itk">0.46</text>
<text x="110.30" y="197.10" text-anchor="end" class="itk">0.48</text>
<text x="110.90" y="251.00" text-anchor="middle" class="itk">-1</text>
<text x="127.65" y="251.00" text-anchor="middle" class="itk">-0.5</text>
<text x="144.40" y="251.00" text-anchor="middle" class="itk">0</text>
<text x="161.15" y="251.00" text-anchor="middle" class="itk">0.5</text>
<text x="177.90" y="251.00" text-anchor="middle" class="itk">1</text>
<text x="144.40" y="195.60" text-anchor="middle" class="ittl">Karate</text>
<text transform="translate(104.30,223.70) rotate(-90)" text-anchor="middle" class="iyl">Precision</text>
<text x="144.40" y="255.30" text-anchor="middle" class="ibl">&#946;</text>
<path d="M110.90,248.10L114.25,248.10L117.60,247.81L120.95,247.81L124.30,247.66L127.65,247.37L131.00,247.52L134.35,247.81L137.70,247.66L141.05,247.37L144.40,247.08L147.75,247.41L151.10,247.63L154.45,247.36L157.80,247.27L161.15,247.62L164.50,247.32L167.85,247.35L171.20,247.64L174.55,247.67L177.90,247.40" fill="none" stroke="#5b3f9e" stroke-width="0.6"/>
<circle cx="110.90" cy="248.10" r="1.0" fill="#5b3f9e"/><circle cx="114.25" cy="248.10" r="1.0" fill="#5b3f9e"/><circle cx="117.60" cy="247.81" r="1.0" fill="#5b3f9e"/><circle cx="120.95" cy="247.81" r="1.0" fill="#5b3f9e"/><circle cx="124.30" cy="247.66" r="1.0" fill="#5b3f9e"/><circle cx="127.65" cy="247.37" r="1.0" fill="#5b3f9e"/><circle cx="131.00" cy="247.52" r="1.0" fill="#5b3f9e"/><circle cx="134.35" cy="247.81" r="1.0" fill="#5b3f9e"/><circle cx="137.70" cy="247.66" r="1.0" fill="#5b3f9e"/><circle cx="141.05" cy="247.37" r="1.0" fill="#5b3f9e"/><circle cx="144.40" cy="247.08" r="1.0" fill="#5b3f9e"/><circle cx="147.75" cy="247.41" r="1.0" fill="#5b3f9e"/><circle cx="151.10" cy="247.63" r="1.0" fill="#5b3f9e"/><circle cx="154.45" cy="247.36" r="1.0" fill="#5b3f9e"/><circle cx="157.80" cy="247.27" r="1.0" fill="#5b3f9e"/><circle cx="161.15" cy="247.62" r="1.0" fill="#5b3f9e"/><circle cx="164.50" cy="247.32" r="1.0" fill="#5b3f9e"/><circle cx="167.85" cy="247.35" r="1.0" fill="#5b3f9e"/><circle cx="171.20" cy="247.64" r="1.0" fill="#5b3f9e"/><circle cx="174.55" cy="247.67" r="1.0" fill="#5b3f9e"/><circle cx="177.90" cy="247.40" r="1.0" fill="#5b3f9e"/>
<path d="M110.90,206.51L114.25,207.24L117.60,207.24L120.95,201.41L124.30,204.33L127.65,210.16L131.00,205.78L134.35,206.51L137.70,221.11L141.05,234.97L144.40,246.64L147.75,247.59L151.10,247.55L154.45,247.39L157.80,247.37L161.15,247.33L164.50,247.42L167.85,247.53L171.20,247.69L174.55,247.64L177.90,247.60" fill="none" stroke="#cf1f2a" stroke-width="0.6"/>
<circle cx="110.90" cy="206.51" r="1.0" fill="#cf1f2a"/><circle cx="114.25" cy="207.24" r="1.0" fill="#cf1f2a"/><circle cx="117.60" cy="207.24" r="1.0" fill="#cf1f2a"/><circle cx="120.95" cy="201.41" r="1.0" fill="#cf1f2a"/><circle cx="124.30" cy="204.33" r="1.0" fill="#cf1f2a"/><circle cx="127.65" cy="210.16" r="1.0" fill="#cf1f2a"/><circle cx="131.00" cy="205.78" r="1.0" fill="#cf1f2a"/><circle cx="134.35" cy="206.51" r="1.0" fill="#cf1f2a"/><circle cx="137.70" cy="221.11" r="1.0" fill="#cf1f2a"/><circle cx="141.05" cy="234.97" r="1.0" fill="#cf1f2a"/><circle cx="144.40" cy="246.64" r="1.0" fill="#cf1f2a"/><circle cx="147.75" cy="247.59" r="1.0" fill="#cf1f2a"/><circle cx="151.10" cy="247.55" r="1.0" fill="#cf1f2a"/><circle cx="154.45" cy="247.39" r="1.0" fill="#cf1f2a"/><circle cx="157.80" cy="247.37" r="1.0" fill="#cf1f2a"/><circle cx="161.15" cy="247.33" r="1.0" fill="#cf1f2a"/><circle cx="164.50" cy="247.42" r="1.0" fill="#cf1f2a"/><circle cx="167.85" cy="247.53" r="1.0" fill="#cf1f2a"/><circle cx="171.20" cy="247.69" r="1.0" fill="#cf1f2a"/><circle cx="174.55" cy="247.64" r="1.0" fill="#cf1f2a"/><circle cx="177.90" cy="247.60" r="1.0" fill="#cf1f2a"/>
<path d="M110.90,216.00L114.25,216.73L117.60,218.92L120.95,223.29L124.30,227.67L127.65,232.05L131.00,239.35L134.35,241.53L137.70,247.08L141.05,247.37L144.40,247.37L147.75,247.44L151.10,247.34L154.45,247.60L157.80,247.51L161.15,247.23L164.50,247.50L167.85,247.34L171.20,247.39L174.55,247.37L177.90,247.46" fill="none" stroke="#2865bb" stroke-width="0.6"/>
<circle cx="110.90" cy="216.00" r="1.0" fill="#2865bb"/><circle cx="114.25" cy="216.73" r="1.0" fill="#2865bb"/><circle cx="117.60" cy="218.92" r="1.0" fill="#2865bb"/><circle cx="120.95" cy="223.29" r="1.0" fill="#2865bb"/><circle cx="124.30" cy="227.67" r="1.0" fill="#2865bb"/><circle cx="127.65" cy="232.05" r="1.0" fill="#2865bb"/><circle cx="131.00" cy="239.35" r="1.0" fill="#2865bb"/><circle cx="134.35" cy="241.53" r="1.0" fill="#2865bb"/><circle cx="137.70" cy="247.08" r="1.0" fill="#2865bb"/><circle cx="141.05" cy="247.37" r="1.0" fill="#2865bb"/><circle cx="144.40" cy="247.37" r="1.0" fill="#2865bb"/><circle cx="147.75" cy="247.44" r="1.0" fill="#2865bb"/><circle cx="151.10" cy="247.34" r="1.0" fill="#2865bb"/><circle cx="154.45" cy="247.60" r="1.0" fill="#2865bb"/><circle cx="157.80" cy="247.51" r="1.0" fill="#2865bb"/><circle cx="161.15" cy="247.23" r="1.0" fill="#2865bb"/><circle cx="164.50" cy="247.50" r="1.0" fill="#2865bb"/><circle cx="167.85" cy="247.34" r="1.0" fill="#2865bb"/><circle cx="171.20" cy="247.39" r="1.0" fill="#2865bb"/><circle cx="174.55" cy="247.37" r="1.0" fill="#2865bb"/><circle cx="177.90" cy="247.46" r="1.0" fill="#2865bb"/>
<path d="M110.90,211.62L114.25,212.35L117.60,207.97L120.95,214.54L124.30,210.89L127.65,209.43L131.00,212.35L134.35,210.89L137.70,212.35L141.05,226.21L144.40,246.64L147.75,247.43L151.10,247.35L154.45,247.62L157.80,247.30L161.15,247.26L164.50,247.68L167.85,247.60L171.20,247.58L174.55,247.65L177.90,247.63" fill="none" stroke="#e07b2a" stroke-width="0.6"/>
<circle cx="110.90" cy="211.62" r="1.0" fill="#e07b2a"/><circle cx="114.25" cy="212.35" r="1.0" fill="#e07b2a"/><circle cx="117.60" cy="207.97" r="1.0" fill="#e07b2a"/><circle cx="120.95" cy="214.54" r="1.0" fill="#e07b2a"/><circle cx="124.30" cy="210.89" r="1.0" fill="#e07b2a"/><circle cx="127.65" cy="209.43" r="1.0" fill="#e07b2a"/><circle cx="131.00" cy="212.35" r="1.0" fill="#e07b2a"/><circle cx="134.35" cy="210.89" r="1.0" fill="#e07b2a"/><circle cx="137.70" cy="212.35" r="1.0" fill="#e07b2a"/><circle cx="141.05" cy="226.21" r="1.0" fill="#e07b2a"/><circle cx="144.40" cy="246.64" r="1.0" fill="#e07b2a"/><circle cx="147.75" cy="247.43" r="1.0" fill="#e07b2a"/><circle cx="151.10" cy="247.35" r="1.0" fill="#e07b2a"/><circle cx="154.45" cy="247.62" r="1.0" fill="#e07b2a"/><circle cx="157.80" cy="247.30" r="1.0" fill="#e07b2a"/><circle cx="161.15" cy="247.26" r="1.0" fill="#e07b2a"/><circle cx="164.50" cy="247.68" r="1.0" fill="#e07b2a"/><circle cx="167.85" cy="247.60" r="1.0" fill="#e07b2a"/><circle cx="171.20" cy="247.58" r="1.0" fill="#e07b2a"/><circle cx="174.55" cy="247.65" r="1.0" fill="#e07b2a"/><circle cx="177.90" cy="247.63" r="1.0" fill="#e07b2a"/>
<path d="M110.90,211.62L114.25,212.35L117.60,213.08L120.95,214.54L124.30,215.27L127.65,218.92L131.00,218.19L134.35,223.29L137.70,229.86L141.05,243.72L144.40,247.37L147.75,247.38L151.10,247.64L154.45,247.67L157.80,247.23L161.15,247.50L164.50,247.43L167.85,247.46L171.20,247.53L174.55,247.47L177.90,247.60" fill="none" stroke="#2e9440" stroke-width="0.6"/>
<circle cx="110.90" cy="211.62" r="1.0" fill="#2e9440"/><circle cx="114.25" cy="212.35" r="1.0" fill="#2e9440"/><circle cx="117.60" cy="213.08" r="1.0" fill="#2e9440"/><circle cx="120.95" cy="214.54" r="1.0" fill="#2e9440"/><circle cx="124.30" cy="215.27" r="1.0" fill="#2e9440"/><circle cx="127.65" cy="218.92" r="1.0" fill="#2e9440"/><circle cx="131.00" cy="218.19" r="1.0" fill="#2e9440"/><circle cx="134.35" cy="223.29" r="1.0" fill="#2e9440"/><circle cx="137.70" cy="229.86" r="1.0" fill="#2e9440"/><circle cx="141.05" cy="243.72" r="1.0" fill="#2e9440"/><circle cx="144.40" cy="247.37" r="1.0" fill="#2e9440"/><circle cx="147.75" cy="247.38" r="1.0" fill="#2e9440"/><circle cx="151.10" cy="247.64" r="1.0" fill="#2e9440"/><circle cx="154.45" cy="247.67" r="1.0" fill="#2e9440"/><circle cx="157.80" cy="247.23" r="1.0" fill="#2e9440"/><circle cx="161.15" cy="247.50" r="1.0" fill="#2e9440"/><circle cx="164.50" cy="247.43" r="1.0" fill="#2e9440"/><circle cx="167.85" cy="247.46" r="1.0" fill="#2e9440"/><circle cx="171.20" cy="247.53" r="1.0" fill="#2e9440"/><circle cx="174.55" cy="247.47" r="1.0" fill="#2e9440"/><circle cx="177.90" cy="247.60" r="1.0" fill="#2e9440"/>
<path d="M110.90,213.81L114.25,213.81L117.60,213.81L120.95,213.08L124.30,212.35L127.65,212.35L131.00,213.08L134.35,211.62L137.70,218.19L141.05,226.94L144.40,247.08L147.75,247.41L151.10,247.57L154.45,247.63L157.80,247.60L161.15,247.49L164.50,247.23L167.85,247.40L171.20,247.21L174.55,247.50L177.90,247.57" fill="none" stroke="#3c3c3c" stroke-width="0.6"/>
<circle cx="110.90" cy="213.81" r="1.0" fill="#3c3c3c"/><circle cx="114.25" cy="213.81" r="1.0" fill="#3c3c3c"/><circle cx="117.60" cy="213.81" r="1.0" fill="#3c3c3c"/><circle cx="120.95" cy="213.08" r="1.0" fill="#3c3c3c"/><circle cx="124.30" cy="212.35" r="1.0" fill="#3c3c3c"/><circle cx="127.65" cy="212.35" r="1.0" fill="#3c3c3c"/><circle cx="131.00" cy="213.08" r="1.0" fill="#3c3c3c"/><circle cx="134.35" cy="211.62" r="1.0" fill="#3c3c3c"/><circle cx="137.70" cy="218.19" r="1.0" fill="#3c3c3c"/><circle cx="141.05" cy="226.94" r="1.0" fill="#3c3c3c"/><circle cx="144.40" cy="247.08" r="1.0" fill="#3c3c3c"/><circle cx="147.75" cy="247.41" r="1.0" fill="#3c3c3c"/><circle cx="151.10" cy="247.57" r="1.0" fill="#3c3c3c"/><circle cx="154.45" cy="247.63" r="1.0" fill="#3c3c3c"/><circle cx="157.80" cy="247.60" r="1.0" fill="#3c3c3c"/><circle cx="161.15" cy="247.49" r="1.0" fill="#3c3c3c"/><circle cx="164.50" cy="247.23" r="1.0" fill="#3c3c3c"/><circle cx="167.85" cy="247.40" r="1.0" fill="#3c3c3c"/><circle cx="171.20" cy="247.21" r="1.0" fill="#3c3c3c"/><circle cx="174.55" cy="247.50" r="1.0" fill="#3c3c3c"/><circle cx="177.90" cy="247.57" r="1.0" fill="#3c3c3c"/>
<text transform="translate(202.50,284.40) scale(1,1.12)" text-anchor="end" class="tk">0.3</text>
<text transform="translate(202.50,264.08) scale(1,1.12)" text-anchor="end" class="tk">0.32</text>
<path d="M204.40,261.88h1.6M358.40,261.88h-1.6" stroke="#cccccc" stroke-width="0.6"/>
<text transform="translate(202.50,243.77) scale(1,1.12)" text-anchor="end" class="tk">0.34</text>
<path d="M204.40,241.57h1.6M358.40,241.57h-1.6" stroke="#cccccc" stroke-width="0.6"/>
<text transform="translate(202.50,223.45) scale(1,1.12)" text-anchor="end" class="tk">0.36</text>
<path d="M204.40,221.25h1.6M358.40,221.25h-1.6" stroke="#cccccc" stroke-width="0.6"/>
<text transform="translate(202.50,203.13) scale(1,1.12)" text-anchor="end" class="tk">0.38</text>
<path d="M204.40,200.93h1.6M358.40,200.93h-1.6" stroke="#cccccc" stroke-width="0.6"/>
<text transform="translate(202.50,182.82) scale(1,1.12)" text-anchor="end" class="tk">0.4</text>
<path d="M204.40,180.62h1.6M358.40,180.62h-1.6" stroke="#cccccc" stroke-width="0.6"/>
<text transform="translate(202.50,162.50) scale(1,1.12)" text-anchor="end" class="tk">0.42</text>
<text transform="translate(204.40,289.90) scale(1,1.12)" text-anchor="middle" class="tk">-10</text>
<text transform="translate(242.90,289.90) scale(1,1.12)" text-anchor="middle" class="tk">-5</text>
<path d="M242.90,282.20v-1.6M242.90,160.30v1.6" stroke="#cccccc" stroke-width="0.6"/>
<text transform="translate(281.40,289.90) scale(1,1.12)" text-anchor="middle" class="tk">0</text>
<path d="M281.40,282.20v-1.6M281.40,160.30v1.6" stroke="#cccccc" stroke-width="0.6"/>
<text transform="translate(319.90,289.90) scale(1,1.12)" text-anchor="middle" class="tk">5</text>
<path d="M319.90,282.20v-1.6M319.90,160.30v1.6" stroke="#cccccc" stroke-width="0.6"/>
<text transform="translate(358.40,289.90) scale(1,1.12)" text-anchor="middle" class="tk">10</text>
<rect x="204.40" y="160.30" width="154.00" height="121.90" fill="none" stroke="#cccccc" stroke-width="1.0"/>
<text x="281.40" y="157.70" text-anchor="middle" class="ttl">Lesmis</text>
<text transform="translate(343.75,174.40) scale(1.12,1)" text-anchor="middle" class="let">(e)</text>
<text transform="translate(189.20,221.25) rotate(-90)" text-anchor="middle" class="yl">Precision</text>
<text x="281.40" y="297.20" text-anchor="middle" class="bl">&#946;</text>
<path d="M204.40,281.00L212.10,277.80L219.80,274.90L227.50,277.00L235.20,277.80L242.90,278.10L250.60,275.90L258.30,277.00L266.00,278.10L273.70,279.80L281.40,280.20L289.10,281.67L296.80,280.74L304.50,280.79L312.20,281.34L319.90,281.10L327.60,281.64L335.30,281.63L343.00,281.55L350.70,281.07L358.40,281.65" fill="none" stroke="#5b3f9e" stroke-width="1.0" stroke-linejoin="round"/>
<path d="M204.40,278.40L206.70,281.00L204.40,283.60L202.10,281.00Z" fill="none" stroke="#5b3f9e" stroke-width="0.95"/><path d="M212.10,275.20L214.40,277.80L212.10,280.40L209.80,277.80Z" fill="none" stroke="#5b3f9e" stroke-width="0.95"/><path d="M219.80,272.30L222.10,274.90L219.80,277.50L217.50,274.90Z" fill="none" stroke="#5b3f9e" stroke-width="0.95"/><path d="M227.50,274.40L229.80,277.00L227.50,279.60L225.20,277.00Z" fill="none" stroke="#5b3f9e" stroke-width="0.95"/><path d="M235.20,275.20L237.50,277.80L235.20,280.40L232.90,277.80Z" fill="none" stroke="#5b3f9e" stroke-width="0.95"/><path d="M242.90,275.50L245.20,278.10L242.90,280.70L240.60,278.10Z" fill="none" stroke="#5b3f9e" stroke-width="0.95"/><path d="M250.60,273.30L252.90,275.90L250.60,278.50L248.30,275.90Z" fill="none" stroke="#5b3f9e" stroke-width="0.95"/><path d="M258.30,274.40L260.60,277.00L258.30,279.60L256.00,277.00Z" fill="none" stroke="#5b3f9e" stroke-width="0.95"/><path d="M266.00,275.50L268.30,278.10L266.00,280.70L263.70,278.10Z" fill="none" stroke="#5b3f9e" stroke-width="0.95"/><path d="M273.70,277.20L276.00,279.80L273.70,282.40L271.40,279.80Z" fill="none" stroke="#5b3f9e" stroke-width="0.95"/><path d="M281.40,277.60L283.70,280.20L281.40,282.80L279.10,280.20Z" fill="none" stroke="#5b3f9e" stroke-width="0.95"/><path d="M289.10,279.07L291.40,281.67L289.10,284.27L286.80,281.67Z" fill="none" stroke="#5b3f9e" stroke-width="0.95"/><path d="M296.80,278.14L299.10,280.74L296.80,283.34L294.50,280.74Z" fill="none" stroke="#5b3f9e" stroke-width="0.95"/><path d="M304.50,278.19L306.80,280.79L304.50,283.39L302.20,280.79Z" fill="none" stroke="#5b3f9e" stroke-width="0.95"/><path d="M312.20,278.74L314.50,281.34L312.20,283.94L309.90,281.34Z" fill="none" stroke="#5b3f9e" stroke-width="0.95"/><path d="M319.90,278.50L322.20,281.10L319.90,283.70L317.60,281.10Z" fill="none" stroke="#5b3f9e" stroke-width="0.95"/><path d="M327.60,279.04L329.90,281.64L327.60,284.24L325.30,281.64Z" fill="none" stroke="#5b3f9e" stroke-width="0.95"/><path d="M335.30,279.03L337.60,281.63L335.30,284.23L333.00,281.63Z" fill="none" stroke="#5b3f9e" stroke-width="0.95"/><path d="M343.00,278.95L345.30,281.55L343.00,284.15L340.70,281.55Z" fill="none" stroke="#5b3f9e" stroke-width="0.95"/><path d="M350.70,278.47L353.00,281.07L350.70,283.67L348.40,281.07Z" fill="none" stroke="#5b3f9e" stroke-width="0.95"/><path d="M358.40,279.05L360.70,281.65L358.40,284.25L356.10,281.65Z" fill="none" stroke="#5b3f9e" stroke-width="0.95"/>
<path d="M204.40,173.61L212.10,167.31L219.80,191.59L227.50,185.59L235.20,193.21L242.90,188.24L250.60,196.57L258.30,178.18L266.00,191.99L273.70,187.63L281.40,279.55L289.10,281.17L296.80,280.95L304.50,281.14L312.20,279.91L319.90,280.64L327.60,280.45L335.30,280.71L343.00,280.15L350.70,280.57L358.40,280.93" fill="none" stroke="#cf1f2a" stroke-width="1.0" stroke-linejoin="round"/>
<polygon points="204.40,170.71 205.19,172.82 207.44,172.92 205.68,174.32 206.28,176.50 204.40,175.26 202.52,176.50 203.12,174.32 201.36,172.92 203.61,172.82" fill="#cf1f2a" stroke="#cf1f2a" stroke-width="0.3"/><polygon points="212.10,164.41 212.89,166.52 215.14,166.62 213.38,168.03 213.98,170.20 212.10,168.96 210.22,170.20 210.82,168.03 209.06,166.62 211.31,166.52" fill="#cf1f2a" stroke="#cf1f2a" stroke-width="0.3"/><polygon points="219.80,188.69 220.59,190.80 222.84,190.90 221.08,192.30 221.68,194.48 219.80,193.24 217.92,194.48 218.52,192.30 216.76,190.90 219.01,190.80" fill="#cf1f2a" stroke="#cf1f2a" stroke-width="0.3"/><polygon points="227.50,182.69 228.29,184.80 230.54,184.91 228.78,186.31 229.38,188.48 227.50,187.24 225.62,188.48 226.22,186.31 224.46,184.91 226.71,184.80" fill="#cf1f2a" stroke="#cf1f2a" stroke-width="0.3"/><polygon points="235.20,190.31 235.99,192.42 238.24,192.52 236.48,193.93 237.08,196.10 235.20,194.86 233.32,196.10 233.92,193.93 232.16,192.52 234.41,192.42" fill="#cf1f2a" stroke="#cf1f2a" stroke-width="0.3"/><polygon points="242.90,185.34 243.69,187.44 245.94,187.55 244.18,188.95 244.78,191.12 242.90,189.89 241.02,191.12 241.62,188.95 239.86,187.55 242.11,187.44" fill="#cf1f2a" stroke="#cf1f2a" stroke-width="0.3"/><polygon points="250.60,193.67 251.39,195.77 253.64,195.88 251.88,197.28 252.48,199.45 250.60,198.22 248.72,199.45 249.32,197.28 247.56,195.88 249.81,195.77" fill="#cf1f2a" stroke="#cf1f2a" stroke-width="0.3"/><polygon points="258.30,175.28 259.09,177.39 261.34,177.49 259.58,178.90 260.18,181.07 258.30,179.83 256.42,181.07 257.02,178.90 255.26,177.49 257.51,177.39" fill="#cf1f2a" stroke="#cf1f2a" stroke-width="0.3"/><polygon points="266.00,189.09 266.79,191.20 269.04,191.31 267.28,192.71 267.88,194.88 266.00,193.64 264.12,194.88 264.72,192.71 262.96,191.31 265.21,191.20" fill="#cf1f2a" stroke="#cf1f2a" stroke-width="0.3"/><polygon points="273.70,184.73 274.49,186.83 276.74,186.94 274.98,188.34 275.58,190.51 273.70,189.28 271.82,190.51 272.42,188.34 270.66,186.94 272.91,186.83" fill="#cf1f2a" stroke="#cf1f2a" stroke-width="0.3"/><polygon points="281.40,276.65 282.19,278.76 284.44,278.86 282.68,280.27 283.28,282.44 281.40,281.20 279.52,282.44 280.12,280.27 278.36,278.86 280.61,278.76" fill="#cf1f2a" stroke="#cf1f2a" stroke-width="0.3"/><polygon points="289.10,278.27 289.89,280.38 292.14,280.48 290.38,281.89 290.98,284.06 289.10,282.82 287.22,284.06 287.82,281.89 286.06,280.48 288.31,280.38" fill="#cf1f2a" stroke="#cf1f2a" stroke-width="0.3"/><polygon points="296.80,278.05 297.59,280.16 299.84,280.26 298.08,281.67 298.68,283.84 296.80,282.60 294.92,283.84 295.52,281.67 293.76,280.26 296.01,280.16" fill="#cf1f2a" stroke="#cf1f2a" stroke-width="0.3"/><polygon points="304.50,278.24 305.29,280.35 307.54,280.45 305.78,281.86 306.38,284.03 304.50,282.79 302.62,284.03 303.22,281.86 301.46,280.45 303.71,280.35" fill="#cf1f2a" stroke="#cf1f2a" stroke-width="0.3"/><polygon points="312.20,277.01 312.99,279.12 315.24,279.23 313.48,280.63 314.08,282.80 312.20,281.56 310.32,282.80 310.92,280.63 309.16,279.23 311.41,279.12" fill="#cf1f2a" stroke="#cf1f2a" stroke-width="0.3"/><polygon points="319.90,277.74 320.69,279.85 322.94,279.95 321.18,281.36 321.78,283.53 319.90,282.29 318.02,283.53 318.62,281.36 316.86,279.95 319.11,279.85" fill="#cf1f2a" stroke="#cf1f2a" stroke-width="0.3"/><polygon points="327.60,277.55 328.39,279.66 330.64,279.76 328.88,281.17 329.48,283.34 327.60,282.10 325.72,283.34 326.32,281.17 324.56,279.76 326.81,279.66" fill="#cf1f2a" stroke="#cf1f2a" stroke-width="0.3"/><polygon points="335.30,277.81 336.09,279.92 338.34,280.02 336.58,281.43 337.18,283.60 335.30,282.36 333.42,283.60 334.02,281.43 332.26,280.02 334.51,279.92" fill="#cf1f2a" stroke="#cf1f2a" stroke-width="0.3"/><polygon points="343.00,277.25 343.79,279.36 346.04,279.46 344.28,280.87 344.88,283.04 343.00,281.80 341.12,283.04 341.72,280.87 339.96,279.46 342.21,279.36" fill="#cf1f2a" stroke="#cf1f2a" stroke-width="0.3"/><polygon points="350.70,277.67 351.49,279.78 353.74,279.88 351.98,281.29 352.58,283.46 350.70,282.22 348.82,283.46 349.42,281.29 347.66,279.88 349.91,279.78" fill="#cf1f2a" stroke="#cf1f2a" stroke-width="0.3"/><polygon points="358.40,278.03 359.19,280.13 361.44,280.24 359.68,281.64 360.28,283.81 358.40,282.58 356.52,283.81 357.12,281.64 355.36,280.24 357.61,280.13" fill="#cf1f2a" stroke="#cf1f2a" stroke-width="0.3"/>
<path d="M204.40,206.72L212.10,211.09L219.80,196.77L227.50,200.12L235.20,197.17L242.90,190.77L250.60,198.19L258.30,192.60L266.00,193.21L273.70,196.77L281.40,280.53L289.10,280.75L296.80,281.10L304.50,279.82L312.20,280.08L319.90,280.10L327.60,279.71L335.30,280.59L343.00,280.62L350.70,280.54L358.40,280.57" fill="none" stroke="#2865bb" stroke-width="1.0" stroke-linejoin="round"/>
<circle cx="204.40" cy="206.72" r="2.55" fill="none" stroke="#2865bb" stroke-width="0.95"/><circle cx="212.10" cy="211.09" r="2.55" fill="none" stroke="#2865bb" stroke-width="0.95"/><circle cx="219.80" cy="196.77" r="2.55" fill="none" stroke="#2865bb" stroke-width="0.95"/><circle cx="227.50" cy="200.12" r="2.55" fill="none" stroke="#2865bb" stroke-width="0.95"/><circle cx="235.20" cy="197.17" r="2.55" fill="none" stroke="#2865bb" stroke-width="0.95"/><circle cx="242.90" cy="190.77" r="2.55" fill="none" stroke="#2865bb" stroke-width="0.95"/><circle cx="250.60" cy="198.19" r="2.55" fill="none" stroke="#2865bb" stroke-width="0.95"/><circle cx="258.30" cy="192.60" r="2.55" fill="none" stroke="#2865bb" stroke-width="0.95"/><circle cx="266.00" cy="193.21" r="2.55" fill="none" stroke="#2865bb" stroke-width="0.95"/><circle cx="273.70" cy="196.77" r="2.55" fill="none" stroke="#2865bb" stroke-width="0.95"/><circle cx="281.40" cy="280.53" r="2.55" fill="none" stroke="#2865bb" stroke-width="0.95"/><circle cx="289.10" cy="280.75" r="2.55" fill="none" stroke="#2865bb" stroke-width="0.95"/><circle cx="296.80" cy="281.10" r="2.55" fill="none" stroke="#2865bb" stroke-width="0.95"/><circle cx="304.50" cy="279.82" r="2.55" fill="none" stroke="#2865bb" stroke-width="0.95"/><circle cx="312.20" cy="280.08" r="2.55" fill="none" stroke="#2865bb" stroke-width="0.95"/><circle cx="319.90" cy="280.10" r="2.55" fill="none" stroke="#2865bb" stroke-width="0.95"/><circle cx="327.60" cy="279.71" r="2.55" fill="none" stroke="#2865bb" stroke-width="0.95"/><circle cx="335.30" cy="280.59" r="2.55" fill="none" stroke="#2865bb" stroke-width="0.95"/><circle cx="343.00" cy="280.62" r="2.55" fill="none" stroke="#2865bb" stroke-width="0.95"/><circle cx="350.70" cy="280.54" r="2.55" fill="none" stroke="#2865bb" stroke-width="0.95"/><circle cx="358.40" cy="280.57" r="2.55" fill="none" stroke="#2865bb" stroke-width="0.95"/>
<path d="M204.40,202.56L212.10,204.08L219.80,200.53L227.50,199.10L235.20,208.15L242.90,200.53L250.60,202.56L258.30,200.73L266.00,196.77L273.70,198.19L281.40,280.10L289.10,281.29L296.80,280.46L304.50,280.34L312.20,280.68L319.90,281.26L327.60,280.03L335.30,281.28L343.00,280.28L350.70,281.02L358.40,281.24" fill="none" stroke="#e07b2a" stroke-width="1.0" stroke-linejoin="round"/>
<rect x="202.10" y="200.26" width="4.60" height="4.60" fill="none" stroke="#e07b2a" stroke-width="0.95"/><rect x="209.80" y="201.78" width="4.60" height="4.60" fill="none" stroke="#e07b2a" stroke-width="0.95"/><rect x="217.50" y="198.23" width="4.60" height="4.60" fill="none" stroke="#e07b2a" stroke-width="0.95"/><rect x="225.20" y="196.80" width="4.60" height="4.60" fill="none" stroke="#e07b2a" stroke-width="0.95"/><rect x="232.90" y="205.85" width="4.60" height="4.60" fill="none" stroke="#e07b2a" stroke-width="0.95"/><rect x="240.60" y="198.23" width="4.60" height="4.60" fill="none" stroke="#e07b2a" stroke-width="0.95"/><rect x="248.30" y="200.26" width="4.60" height="4.60" fill="none" stroke="#e07b2a" stroke-width="0.95"/><rect x="256.00" y="198.43" width="4.60" height="4.60" fill="none" stroke="#e07b2a" stroke-width="0.95"/><rect x="263.70" y="194.47" width="4.60" height="4.60" fill="none" stroke="#e07b2a" stroke-width="0.95"/><rect x="271.40" y="195.89" width="4.60" height="4.60" fill="none" stroke="#e07b2a" stroke-width="0.95"/><rect x="279.10" y="277.80" width="4.60" height="4.60" fill="none" stroke="#e07b2a" stroke-width="0.95"/><rect x="286.80" y="278.99" width="4.60" height="4.60" fill="none" stroke="#e07b2a" stroke-width="0.95"/><rect x="294.50" y="278.16" width="4.60" height="4.60" fill="none" stroke="#e07b2a" stroke-width="0.95"/><rect x="302.20" y="278.04" width="4.60" height="4.60" fill="none" stroke="#e07b2a" stroke-width="0.95"/><rect x="309.90" y="278.38" width="4.60" height="4.60" fill="none" stroke="#e07b2a" stroke-width="0.95"/><rect x="317.60" y="278.96" width="4.60" height="4.60" fill="none" stroke="#e07b2a" stroke-width="0.95"/><rect x="325.30" y="277.73" width="4.60" height="4.60" fill="none" stroke="#e07b2a" stroke-width="0.95"/><rect x="333.00" y="278.98" width="4.60" height="4.60" fill="none" stroke="#e07b2a" stroke-width="0.95"/><rect x="340.70" y="277.98" width="4.60" height="4.60" fill="none" stroke="#e07b2a" stroke-width="0.95"/><rect x="348.40" y="278.72" width="4.60" height="4.60" fill="none" stroke="#e07b2a" stroke-width="0.95"/><rect x="356.10" y="278.94" width="4.60" height="4.60" fill="none" stroke="#e07b2a" stroke-width="0.95"/>
<path d="M204.40,213.12L212.10,198.70L219.80,203.68L227.50,203.68L235.20,200.73L242.90,218.10L250.60,203.68L258.30,204.08L266.00,201.14L273.70,206.11L281.40,280.97L289.10,281.18L296.80,281.03L304.50,280.07L312.20,279.99L319.90,280.65L327.60,280.13L335.30,280.44L343.00,280.40L350.70,279.72L358.40,280.74" fill="none" stroke="#2e9440" stroke-width="1.0" stroke-linejoin="round"/>
<path d="M206.80,213.12L202.00,210.62L202.00,215.62Z" fill="none" stroke="#2e9440" stroke-width="0.95"/><path d="M214.50,198.70L209.70,196.20L209.70,201.20Z" fill="none" stroke="#2e9440" stroke-width="0.95"/><path d="M222.20,203.68L217.40,201.18L217.40,206.18Z" fill="none" stroke="#2e9440" stroke-width="0.95"/><path d="M229.90,203.68L225.10,201.18L225.10,206.18Z" fill="none" stroke="#2e9440" stroke-width="0.95"/><path d="M237.60,200.73L232.80,198.23L232.80,203.23Z" fill="none" stroke="#2e9440" stroke-width="0.95"/><path d="M245.30,218.10L240.50,215.60L240.50,220.60Z" fill="none" stroke="#2e9440" stroke-width="0.95"/><path d="M253.00,203.68L248.20,201.18L248.20,206.18Z" fill="none" stroke="#2e9440" stroke-width="0.95"/><path d="M260.70,204.08L255.90,201.58L255.90,206.58Z" fill="none" stroke="#2e9440" stroke-width="0.95"/><path d="M268.40,201.14L263.60,198.64L263.60,203.64Z" fill="none" stroke="#2e9440" stroke-width="0.95"/><path d="M276.10,206.11L271.30,203.61L271.30,208.61Z" fill="none" stroke="#2e9440" stroke-width="0.95"/><path d="M283.80,280.97L279.00,278.47L279.00,283.47Z" fill="none" stroke="#2e9440" stroke-width="0.95"/><path d="M291.50,281.18L286.70,278.68L286.70,283.68Z" fill="none" stroke="#2e9440" stroke-width="0.95"/><path d="M299.20,281.03L294.40,278.53L294.40,283.53Z" fill="none" stroke="#2e9440" stroke-width="0.95"/><path d="M306.90,280.07L302.10,277.57L302.10,282.57Z" fill="none" stroke="#2e9440" stroke-width="0.95"/><path d="M314.60,279.99L309.80,277.49L309.80,282.49Z" fill="none" stroke="#2e9440" stroke-width="0.95"/><path d="M322.30,280.65L317.50,278.15L317.50,283.15Z" fill="none" stroke="#2e9440" stroke-width="0.95"/><path d="M330.00,280.13L325.20,277.63L325.20,282.63Z" fill="none" stroke="#2e9440" stroke-width="0.95"/><path d="M337.70,280.44L332.90,277.94L332.90,282.94Z" fill="none" stroke="#2e9440" stroke-width="0.95"/><path d="M345.40,280.40L340.60,277.90L340.60,282.90Z" fill="none" stroke="#2e9440" stroke-width="0.95"/><path d="M353.10,279.72L348.30,277.22L348.30,282.22Z" fill="none" stroke="#2e9440" stroke-width="0.95"/><path d="M360.80,280.74L356.00,278.24L356.00,283.24Z" fill="none" stroke="#2e9440" stroke-width="0.95"/>
<path d="M204.40,187.63L212.10,217.09L219.80,204.08L227.50,208.15L235.20,192.20L242.90,209.06L250.60,207.74L258.30,217.09L266.00,201.14L273.70,198.19L281.40,279.73L289.10,280.06L296.80,280.07L304.50,281.29L312.20,281.15L319.90,281.24L327.60,280.68L335.30,279.60L343.00,279.72L350.70,279.79L358.40,281.09" fill="none" stroke="#3c3c3c" stroke-width="1.0" stroke-linejoin="round"/>
<path d="M202.00,187.63L206.80,185.13L206.80,190.13Z" fill="none" stroke="#3c3c3c" stroke-width="0.95"/><path d="M209.70,217.09L214.50,214.59L214.50,219.59Z" fill="none" stroke="#3c3c3c" stroke-width="0.95"/><path d="M217.40,204.08L222.20,201.58L222.20,206.58Z" fill="none" stroke="#3c3c3c" stroke-width="0.95"/><path d="M225.10,208.15L229.90,205.65L229.90,210.65Z" fill="none" stroke="#3c3c3c" stroke-width="0.95"/><path d="M232.80,192.20L237.60,189.70L237.60,194.70Z" fill="none" stroke="#3c3c3c" stroke-width="0.95"/><path d="M240.50,209.06L245.30,206.56L245.30,211.56Z" fill="none" stroke="#3c3c3c" stroke-width="0.95"/><path d="M248.20,207.74L253.00,205.24L253.00,210.24Z" fill="none" stroke="#3c3c3c" stroke-width="0.95"/><path d="M255.90,217.09L260.70,214.59L260.70,219.59Z" fill="none" stroke="#3c3c3c" stroke-width="0.95"/><path d="M263.60,201.14L268.40,198.64L268.40,203.64Z" fill="none" stroke="#3c3c3c" stroke-width="0.95"/><path d="M271.30,198.19L276.10,195.69L276.10,200.69Z" fill="none" stroke="#3c3c3c" stroke-width="0.95"/><path d="M279.00,279.73L283.80,277.23L283.80,282.23Z" fill="none" stroke="#3c3c3c" stroke-width="0.95"/><path d="M286.70,280.06L291.50,277.56L291.50,282.56Z" fill="none" stroke="#3c3c3c" stroke-width="0.95"/><path d="M294.40,280.07L299.20,277.57L299.20,282.57Z" fill="none" stroke="#3c3c3c" stroke-width="0.95"/><path d="M302.10,281.29L306.90,278.79L306.90,283.79Z" fill="none" stroke="#3c3c3c" stroke-width="0.95"/><path d="M309.80,281.15L314.60,278.65L314.60,283.65Z" fill="none" stroke="#3c3c3c" stroke-width="0.95"/><path d="M317.50,281.24L322.30,278.74L322.30,283.74Z" fill="none" stroke="#3c3c3c" stroke-width="0.95"/><path d="M325.20,280.68L330.00,278.18L330.00,283.18Z" fill="none" stroke="#3c3c3c" stroke-width="0.95"/><path d="M332.90,279.60L337.70,277.10L337.70,282.10Z" fill="none" stroke="#3c3c3c" stroke-width="0.95"/><path d="M340.60,279.72L345.40,277.22L345.40,282.22Z" fill="none" stroke="#3c3c3c" stroke-width="0.95"/><path d="M348.30,279.79L353.10,277.29L353.10,282.29Z" fill="none" stroke="#3c3c3c" stroke-width="0.95"/><path d="M356.00,281.09L360.80,278.59L360.80,283.59Z" fill="none" stroke="#3c3c3c" stroke-width="0.95"/>
<rect x="291.50" y="196.30" width="66.90" height="51.80" fill="#fff" stroke="#cccccc" stroke-width="0.6"/>
<text x="290.90" y="248.90" text-anchor="end" class="itk">0.3</text>
<text x="290.90" y="240.27" text-anchor="end" class="itk">0.32</text>
<text x="290.90" y="231.63" text-anchor="end" class="itk">0.34</text>
<text x="290.90" y="223.00" text-anchor="end" class="itk">0.36</text>
<text x="290.90" y="214.37" text-anchor="end" class="itk">0.38</text>
<text x="290.90" y="205.73" text-anchor="end" class="itk">0.4</text>
<text x="290.90" y="197.10" text-anchor="end" class="itk">0.42</text>
<text x="291.50" y="251.00" text-anchor="middle" class="itk">-1</text>
<text x="308.23" y="251.00" text-anchor="middle" class="itk">-0.5</text>
<text x="324.95" y="251.00" text-anchor="middle" class="itk">0</text>
<text x="341.67" y="251.00" text-anchor="middle" class="itk">0.5</text>
<text x="358.40" y="251.00" text-anchor="middle" class="itk">1</text>
<text x="324.95" y="195.60" text-anchor="middle" class="ittl">Lesmis</text>
<text transform="translate(284.90,223.70) rotate(-90)" text-anchor="middle" class="iyl">Precision</text>
<text x="324.95" y="255.30" text-anchor="middle" class="ibl">&#946;</text>
<path d="M291.50,247.66L294.85,247.66L298.19,247.08L301.53,247.08L304.88,248.10L308.23,248.10L311.57,248.10L314.91,247.37L318.26,247.66L321.61,248.10L324.95,247.66L328.29,247.35L331.64,247.31L334.99,247.30L338.33,247.30L341.67,247.63L345.02,247.61L348.37,247.30L351.71,247.33L355.05,247.25L358.40,247.48" fill="none" stroke="#5b3f9e" stroke-width="0.6"/>
<circle cx="291.50" cy="247.66" r="1.0" fill="#5b3f9e"/><circle cx="294.85" cy="247.66" r="1.0" fill="#5b3f9e"/><circle cx="298.19" cy="247.08" r="1.0" fill="#5b3f9e"/><circle cx="301.53" cy="247.08" r="1.0" fill="#5b3f9e"/><circle cx="304.88" cy="248.10" r="1.0" fill="#5b3f9e"/><circle cx="308.23" cy="248.10" r="1.0" fill="#5b3f9e"/><circle cx="311.57" cy="248.10" r="1.0" fill="#5b3f9e"/><circle cx="314.91" cy="247.37" r="1.0" fill="#5b3f9e"/><circle cx="318.26" cy="247.66" r="1.0" fill="#5b3f9e"/><circle cx="321.61" cy="248.10" r="1.0" fill="#5b3f9e"/><circle cx="324.95" cy="247.66" r="1.0" fill="#5b3f9e"/><circle cx="328.29" cy="247.35" r="1.0" fill="#5b3f9e"/><circle cx="331.64" cy="247.31" r="1.0" fill="#5b3f9e"/><circle cx="334.99" cy="247.30" r="1.0" fill="#5b3f9e"/><circle cx="338.33" cy="247.30" r="1.0" fill="#5b3f9e"/><circle cx="341.67" cy="247.63" r="1.0" fill="#5b3f9e"/><circle cx="345.02" cy="247.61" r="1.0" fill="#5b3f9e"/><circle cx="348.37" cy="247.30" r="1.0" fill="#5b3f9e"/><circle cx="351.71" cy="247.33" r="1.0" fill="#5b3f9e"/><circle cx="355.05" cy="247.25" r="1.0" fill="#5b3f9e"/><circle cx="358.40" cy="247.48" r="1.0" fill="#5b3f9e"/>
<path d="M291.50,199.95L294.85,207.24L298.19,203.60L301.53,205.05L304.88,210.16L308.23,213.08L311.57,215.27L314.91,217.46L318.26,226.94L321.61,240.07L324.95,247.66L328.29,247.26L331.64,247.63L334.99,247.22L338.33,247.26L341.67,247.53L345.02,247.67L348.37,247.43L351.71,247.36L355.05,247.52L358.40,247.67" fill="none" stroke="#cf1f2a" stroke-width="0.6"/>
<circle cx="291.50" cy="199.95" r="1.0" fill="#cf1f2a"/><circle cx="294.85" cy="207.24" r="1.0" fill="#cf1f2a"/><circle cx="298.19" cy="203.60" r="1.0" fill="#cf1f2a"/><circle cx="301.53" cy="205.05" r="1.0" fill="#cf1f2a"/><circle cx="304.88" cy="210.16" r="1.0" fill="#cf1f2a"/><circle cx="308.23" cy="213.08" r="1.0" fill="#cf1f2a"/><circle cx="311.57" cy="215.27" r="1.0" fill="#cf1f2a"/><circle cx="314.91" cy="217.46" r="1.0" fill="#cf1f2a"/><circle cx="318.26" cy="226.94" r="1.0" fill="#cf1f2a"/><circle cx="321.61" cy="240.07" r="1.0" fill="#cf1f2a"/><circle cx="324.95" cy="247.66" r="1.0" fill="#cf1f2a"/><circle cx="328.29" cy="247.26" r="1.0" fill="#cf1f2a"/><circle cx="331.64" cy="247.63" r="1.0" fill="#cf1f2a"/><circle cx="334.99" cy="247.22" r="1.0" fill="#cf1f2a"/><circle cx="338.33" cy="247.26" r="1.0" fill="#cf1f2a"/><circle cx="341.67" cy="247.53" r="1.0" fill="#cf1f2a"/><circle cx="345.02" cy="247.67" r="1.0" fill="#cf1f2a"/><circle cx="348.37" cy="247.43" r="1.0" fill="#cf1f2a"/><circle cx="351.71" cy="247.36" r="1.0" fill="#cf1f2a"/><circle cx="355.05" cy="247.52" r="1.0" fill="#cf1f2a"/><circle cx="358.40" cy="247.67" r="1.0" fill="#cf1f2a"/>
<path d="M291.50,210.89L294.85,210.60L298.19,213.81L301.53,214.54L304.88,215.27L308.23,218.19L311.57,229.86L314.91,238.62L318.26,245.91L321.61,247.66L324.95,247.66L328.29,247.56L331.64,247.29L334.99,247.65L338.33,247.23L341.67,247.57L345.02,247.60L348.37,247.64L351.71,247.21L355.05,247.25L358.40,247.54" fill="none" stroke="#2865bb" stroke-width="0.6"/>
<circle cx="291.50" cy="210.89" r="1.0" fill="#2865bb"/><circle cx="294.85" cy="210.60" r="1.0" fill="#2865bb"/><circle cx="298.19" cy="213.81" r="1.0" fill="#2865bb"/><circle cx="301.53" cy="214.54" r="1.0" fill="#2865bb"/><circle cx="304.88" cy="215.27" r="1.0" fill="#2865bb"/><circle cx="308.23" cy="218.19" r="1.0" fill="#2865bb"/><circle cx="311.57" cy="229.86" r="1.0" fill="#2865bb"/><circle cx="314.91" cy="238.62" r="1.0" fill="#2865bb"/><circle cx="318.26" cy="245.91" r="1.0" fill="#2865bb"/><circle cx="321.61" cy="247.66" r="1.0" fill="#2865bb"/><circle cx="324.95" cy="247.66" r="1.0" fill="#2865bb"/><circle cx="328.29" cy="247.56" r="1.0" fill="#2865bb"/><circle cx="331.64" cy="247.29" r="1.0" fill="#2865bb"/><circle cx="334.99" cy="247.65" r="1.0" fill="#2865bb"/><circle cx="338.33" cy="247.23" r="1.0" fill="#2865bb"/><circle cx="341.67" cy="247.57" r="1.0" fill="#2865bb"/><circle cx="345.02" cy="247.60" r="1.0" fill="#2865bb"/><circle cx="348.37" cy="247.64" r="1.0" fill="#2865bb"/><circle cx="351.71" cy="247.21" r="1.0" fill="#2865bb"/><circle cx="355.05" cy="247.25" r="1.0" fill="#2865bb"/><circle cx="358.40" cy="247.54" r="1.0" fill="#2865bb"/>
<path d="M291.50,210.89L294.85,210.16L298.19,212.35L301.53,209.43L304.88,210.16L308.23,212.35L311.57,214.54L314.91,216.73L318.26,223.29L321.61,235.70L324.95,247.37L328.29,247.65L331.64,247.37L334.99,247.26L338.33,247.69L341.67,247.38L345.02,247.27L348.37,247.47L351.71,247.42L355.05,247.30L358.40,247.58" fill="none" stroke="#e07b2a" stroke-width="0.6"/>
<circle cx="291.50" cy="210.89" r="1.0" fill="#e07b2a"/><circle cx="294.85" cy="210.16" r="1.0" fill="#e07b2a"/><circle cx="298.19" cy="212.35" r="1.0" fill="#e07b2a"/><circle cx="301.53" cy="209.43" r="1.0" fill="#e07b2a"/><circle cx="304.88" cy="210.16" r="1.0" fill="#e07b2a"/><circle cx="308.23" cy="212.35" r="1.0" fill="#e07b2a"/><circle cx="311.57" cy="214.54" r="1.0" fill="#e07b2a"/><circle cx="314.91" cy="216.73" r="1.0" fill="#e07b2a"/><circle cx="318.26" cy="223.29" r="1.0" fill="#e07b2a"/><circle cx="321.61" cy="235.70" r="1.0" fill="#e07b2a"/><circle cx="324.95" cy="247.37" r="1.0" fill="#e07b2a"/><circle cx="328.29" cy="247.65" r="1.0" fill="#e07b2a"/><circle cx="331.64" cy="247.37" r="1.0" fill="#e07b2a"/><circle cx="334.99" cy="247.26" r="1.0" fill="#e07b2a"/><circle cx="338.33" cy="247.69" r="1.0" fill="#e07b2a"/><circle cx="341.67" cy="247.38" r="1.0" fill="#e07b2a"/><circle cx="345.02" cy="247.27" r="1.0" fill="#e07b2a"/><circle cx="348.37" cy="247.47" r="1.0" fill="#e07b2a"/><circle cx="351.71" cy="247.42" r="1.0" fill="#e07b2a"/><circle cx="355.05" cy="247.30" r="1.0" fill="#e07b2a"/><circle cx="358.40" cy="247.58" r="1.0" fill="#e07b2a"/>
<path d="M291.50,215.27L294.85,216.00L298.19,212.35L301.53,213.81L304.88,213.08L308.23,212.35L311.57,216.00L314.91,216.44L318.26,221.11L321.61,234.24L324.95,247.37L328.29,247.56L331.64,247.37L334.99,247.42L338.33,247.43L341.67,247.53L345.02,247.23L348.37,247.56L351.71,247.36L355.05,247.25L358.40,247.50" fill="none" stroke="#2e9440" stroke-width="0.6"/>
<circle cx="291.50" cy="215.27" r="1.0" fill="#2e9440"/><circle cx="294.85" cy="216.00" r="1.0" fill="#2e9440"/><circle cx="298.19" cy="212.35" r="1.0" fill="#2e9440"/><circle cx="301.53" cy="213.81" r="1.0" fill="#2e9440"/><circle cx="304.88" cy="213.08" r="1.0" fill="#2e9440"/><circle cx="308.23" cy="212.35" r="1.0" fill="#2e9440"/><circle cx="311.57" cy="216.00" r="1.0" fill="#2e9440"/><circle cx="314.91" cy="216.44" r="1.0" fill="#2e9440"/><circle cx="318.26" cy="221.11" r="1.0" fill="#2e9440"/><circle cx="321.61" cy="234.24" r="1.0" fill="#2e9440"/><circle cx="324.95" cy="247.37" r="1.0" fill="#2e9440"/><circle cx="328.29" cy="247.56" r="1.0" fill="#2e9440"/><circle cx="331.64" cy="247.37" r="1.0" fill="#2e9440"/><circle cx="334.99" cy="247.42" r="1.0" fill="#2e9440"/><circle cx="338.33" cy="247.43" r="1.0" fill="#2e9440"/><circle cx="341.67" cy="247.53" r="1.0" fill="#2e9440"/><circle cx="345.02" cy="247.23" r="1.0" fill="#2e9440"/><circle cx="348.37" cy="247.56" r="1.0" fill="#2e9440"/><circle cx="351.71" cy="247.36" r="1.0" fill="#2e9440"/><circle cx="355.05" cy="247.25" r="1.0" fill="#2e9440"/><circle cx="358.40" cy="247.50" r="1.0" fill="#2e9440"/>
<path d="M291.50,216.00L294.85,215.27L298.19,213.08L301.53,214.54L304.88,216.00L308.23,216.00L311.57,217.46L314.91,218.92L318.26,220.38L321.61,229.86L324.95,247.08L328.29,247.67L331.64,247.59L334.99,247.67L338.33,247.63L341.67,247.64L345.02,247.53L348.37,247.52L351.71,247.48L355.05,247.37L358.40,247.36" fill="none" stroke="#3c3c3c" stroke-width="0.6"/>
<circle cx="291.50" cy="216.00" r="1.0" fill="#3c3c3c"/><circle cx="294.85" cy="215.27" r="1.0" fill="#3c3c3c"/><circle cx="298.19" cy="213.08" r="1.0" fill="#3c3c3c"/><circle cx="301.53" cy="214.54" r="1.0" fill="#3c3c3c"/><circle cx="304.88" cy="216.00" r="1.0" fill="#3c3c3c"/><circle cx="308.23" cy="216.00" r="1.0" fill="#3c3c3c"/><circle cx="311.57" cy="217.46" r="1.0" fill="#3c3c3c"/><circle cx="314.91" cy="218.92" r="1.0" fill="#3c3c3c"/><circle cx="318.26" cy="220.38" r="1.0" fill="#3c3c3c"/><circle cx="321.61" cy="229.86" r="1.0" fill="#3c3c3c"/><circle cx="324.95" cy="247.08" r="1.0" fill="#3c3c3c"/><circle cx="328.29" cy="247.67" r="1.0" fill="#3c3c3c"/><circle cx="331.64" cy="247.59" r="1.0" fill="#3c3c3c"/><circle cx="334.99" cy="247.67" r="1.0" fill="#3c3c3c"/><circle cx="338.33" cy="247.63" r="1.0" fill="#3c3c3c"/><circle cx="341.67" cy="247.64" r="1.0" fill="#3c3c3c"/><circle cx="345.02" cy="247.53" r="1.0" fill="#3c3c3c"/><circle cx="348.37" cy="247.52" r="1.0" fill="#3c3c3c"/><circle cx="351.71" cy="247.48" r="1.0" fill="#3c3c3c"/><circle cx="355.05" cy="247.37" r="1.0" fill="#3c3c3c"/><circle cx="358.40" cy="247.36" r="1.0" fill="#3c3c3c"/>
<text transform="translate(383.10,284.80) scale(1,1.12)" text-anchor="end" class="tk">0.3</text>
<text transform="translate(383.10,271.21) scale(1,1.12)" text-anchor="end" class="tk">0.32</text>
<path d="M385.00,269.01h1.6M539.40,269.01h-1.6" stroke="#cccccc" stroke-width="0.6"/>
<text transform="translate(383.10,257.62) scale(1,1.12)" text-anchor="end" class="tk">0.34</text>
<path d="M385.00,255.42h1.6M539.40,255.42h-1.6" stroke="#cccccc" stroke-width="0.6"/>
<text transform="translate(383.10,244.03) scale(1,1.12)" text-anchor="end" class="tk">0.36</text>
<path d="M385.00,241.83h1.6M539.40,241.83h-1.6" stroke="#cccccc" stroke-width="0.6"/>
<text transform="translate(383.10,230.44) scale(1,1.12)" text-anchor="end" class="tk">0.38</text>
<path d="M385.00,228.24h1.6M539.40,228.24h-1.6" stroke="#cccccc" stroke-width="0.6"/>
<text transform="translate(383.10,216.86) scale(1,1.12)" text-anchor="end" class="tk">0.4</text>
<path d="M385.00,214.66h1.6M539.40,214.66h-1.6" stroke="#cccccc" stroke-width="0.6"/>
<text transform="translate(383.10,203.27) scale(1,1.12)" text-anchor="end" class="tk">0.42</text>
<path d="M385.00,201.07h1.6M539.40,201.07h-1.6" stroke="#cccccc" stroke-width="0.6"/>
<text transform="translate(383.10,189.68) scale(1,1.12)" text-anchor="end" class="tk">0.44</text>
<path d="M385.00,187.48h1.6M539.40,187.48h-1.6" stroke="#cccccc" stroke-width="0.6"/>
<text transform="translate(383.10,176.09) scale(1,1.12)" text-anchor="end" class="tk">0.46</text>
<path d="M385.00,173.89h1.6M539.40,173.89h-1.6" stroke="#cccccc" stroke-width="0.6"/>
<text transform="translate(383.10,162.50) scale(1,1.12)" text-anchor="end" class="tk">0.48</text>
<text transform="translate(385.00,290.30) scale(1,1.12)" text-anchor="middle" class="tk">-10</text>
<text transform="translate(423.60,290.30) scale(1,1.12)" text-anchor="middle" class="tk">-5</text>
<path d="M423.60,282.60v-1.6M423.60,160.30v1.6" stroke="#cccccc" stroke-width="0.6"/>
<text transform="translate(462.20,290.30) scale(1,1.12)" text-anchor="middle" class="tk">0</text>
<path d="M462.20,282.60v-1.6M462.20,160.30v1.6" stroke="#cccccc" stroke-width="0.6"/>
<text transform="translate(500.80,290.30) scale(1,1.12)" text-anchor="middle" class="tk">5</text>
<path d="M500.80,282.60v-1.6M500.80,160.30v1.6" stroke="#cccccc" stroke-width="0.6"/>
<text transform="translate(539.40,290.30) scale(1,1.12)" text-anchor="middle" class="tk">10</text>
<rect x="385.00" y="160.30" width="154.40" height="122.30" fill="none" stroke="#cccccc" stroke-width="1.0"/>
<text x="462.20" y="157.70" text-anchor="middle" class="ttl">Adjnoun</text>
<text transform="translate(525.00,174.45) scale(1.12,1)" text-anchor="middle" class="let">(f)</text>
<text transform="translate(369.80,221.45) rotate(-90)" text-anchor="middle" class="yl">Precision</text>
<text x="462.20" y="297.60" text-anchor="middle" class="bl">&#946;</text>
<path d="M385.00,282.00L392.72,282.00L400.44,282.00L408.16,279.50L415.88,282.00L423.60,282.00L431.32,282.00L439.04,282.00L446.76,282.00L454.48,282.00L462.20,282.12L469.92,281.56L477.64,282.10L485.36,281.44L493.08,281.57L500.80,281.84L508.52,281.56L516.24,281.62L523.96,278.00L531.68,281.66L539.40,281.56" fill="none" stroke="#5b3f9e" stroke-width="1.0" stroke-linejoin="round"/>
<path d="M385.00,279.40L387.30,282.00L385.00,284.60L382.70,282.00Z" fill="none" stroke="#5b3f9e" stroke-width="0.95"/><path d="M392.72,279.40L395.02,282.00L392.72,284.60L390.42,282.00Z" fill="none" stroke="#5b3f9e" stroke-width="0.95"/><path d="M400.44,279.40L402.74,282.00L400.44,284.60L398.14,282.00Z" fill="none" stroke="#5b3f9e" stroke-width="0.95"/><path d="M408.16,276.90L410.46,279.50L408.16,282.10L405.86,279.50Z" fill="none" stroke="#5b3f9e" stroke-width="0.95"/><path d="M415.88,279.40L418.18,282.00L415.88,284.60L413.58,282.00Z" fill="none" stroke="#5b3f9e" stroke-width="0.95"/><path d="M423.60,279.40L425.90,282.00L423.60,284.60L421.30,282.00Z" fill="none" stroke="#5b3f9e" stroke-width="0.95"/><path d="M431.32,279.40L433.62,282.00L431.32,284.60L429.02,282.00Z" fill="none" stroke="#5b3f9e" stroke-width="0.95"/><path d="M439.04,279.40L441.34,282.00L439.04,284.60L436.74,282.00Z" fill="none" stroke="#5b3f9e" stroke-width="0.95"/><path d="M446.76,279.40L449.06,282.00L446.76,284.60L444.46,282.00Z" fill="none" stroke="#5b3f9e" stroke-width="0.95"/><path d="M454.48,279.40L456.78,282.00L454.48,284.60L452.18,282.00Z" fill="none" stroke="#5b3f9e" stroke-width="0.95"/><path d="M462.20,279.52L464.50,282.12L462.20,284.72L459.90,282.12Z" fill="none" stroke="#5b3f9e" stroke-width="0.95"/><path d="M469.92,278.96L472.22,281.56L469.92,284.16L467.62,281.56Z" fill="none" stroke="#5b3f9e" stroke-width="0.95"/><path d="M477.64,279.50L479.94,282.10L477.64,284.70L475.34,282.10Z" fill="none" stroke="#5b3f9e" stroke-width="0.95"/><path d="M485.36,278.84L487.66,281.44L485.36,284.04L483.06,281.44Z" fill="none" stroke="#5b3f9e" stroke-width="0.95"/><path d="M493.08,278.97L495.38,281.57L493.08,284.17L490.78,281.57Z" fill="none" stroke="#5b3f9e" stroke-width="0.95"/><path d="M500.80,279.24L503.10,281.84L500.80,284.44L498.50,281.84Z" fill="none" stroke="#5b3f9e" stroke-width="0.95"/><path d="M508.52,278.96L510.82,281.56L508.52,284.16L506.22,281.56Z" fill="none" stroke="#5b3f9e" stroke-width="0.95"/><path d="M516.24,279.02L518.54,281.62L516.24,284.22L513.94,281.62Z" fill="none" stroke="#5b3f9e" stroke-width="0.95"/><path d="M523.96,275.40L526.26,278.00L523.96,280.60L521.66,278.00Z" fill="none" stroke="#5b3f9e" stroke-width="0.95"/><path d="M531.68,279.06L533.98,281.66L531.68,284.26L529.38,281.66Z" fill="none" stroke="#5b3f9e" stroke-width="0.95"/><path d="M539.40,278.96L541.70,281.56L539.40,284.16L537.10,281.56Z" fill="none" stroke="#5b3f9e" stroke-width="0.95"/>
<path d="M385.00,167.30L392.72,173.89L400.44,183.27L408.16,173.89L415.88,173.89L423.60,183.27L431.32,174.91L439.04,174.91L446.76,180.89L454.48,166.28L462.20,280.76L469.92,280.12L477.64,280.38L485.36,281.02L493.08,281.29L500.80,281.47L508.52,280.24L516.24,280.46L523.96,280.60L531.68,280.90L539.40,280.80" fill="none" stroke="#cf1f2a" stroke-width="1.0" stroke-linejoin="round"/>
<polygon points="385.00,164.40 385.79,166.51 388.04,166.61 386.28,168.02 386.88,170.19 385.00,168.95 383.12,170.19 383.72,168.02 381.96,166.61 384.21,166.51" fill="#cf1f2a" stroke="#cf1f2a" stroke-width="0.3"/><polygon points="392.72,170.99 393.51,173.10 395.76,173.20 394.00,174.61 394.60,176.78 392.72,175.54 390.84,176.78 391.44,174.61 389.68,173.20 391.93,173.10" fill="#cf1f2a" stroke="#cf1f2a" stroke-width="0.3"/><polygon points="400.44,180.37 401.23,182.47 403.48,182.58 401.72,183.98 402.32,186.15 400.44,184.92 398.56,186.15 399.16,183.98 397.40,182.58 399.65,182.47" fill="#cf1f2a" stroke="#cf1f2a" stroke-width="0.3"/><polygon points="408.16,170.99 408.95,173.10 411.20,173.20 409.44,174.61 410.04,176.78 408.16,175.54 406.28,176.78 406.88,174.61 405.12,173.20 407.37,173.10" fill="#cf1f2a" stroke="#cf1f2a" stroke-width="0.3"/><polygon points="415.88,170.99 416.67,173.10 418.92,173.20 417.16,174.61 417.76,176.78 415.88,175.54 414.00,176.78 414.60,174.61 412.84,173.20 415.09,173.10" fill="#cf1f2a" stroke="#cf1f2a" stroke-width="0.3"/><polygon points="423.60,180.37 424.39,182.47 426.64,182.58 424.88,183.98 425.48,186.15 423.60,184.92 421.72,186.15 422.32,183.98 420.56,182.58 422.81,182.47" fill="#cf1f2a" stroke="#cf1f2a" stroke-width="0.3"/><polygon points="431.32,172.01 432.11,174.12 434.36,174.22 432.60,175.63 433.20,177.80 431.32,176.56 429.44,177.80 430.04,175.63 428.28,174.22 430.53,174.12" fill="#cf1f2a" stroke="#cf1f2a" stroke-width="0.3"/><polygon points="439.04,172.01 439.83,174.12 442.08,174.22 440.32,175.63 440.92,177.80 439.04,176.56 437.16,177.80 437.76,175.63 436.00,174.22 438.25,174.12" fill="#cf1f2a" stroke="#cf1f2a" stroke-width="0.3"/><polygon points="446.76,177.99 447.55,180.09 449.80,180.20 448.04,181.60 448.64,183.78 446.76,182.54 444.88,183.78 445.48,181.60 443.72,180.20 445.97,180.09" fill="#cf1f2a" stroke="#cf1f2a" stroke-width="0.3"/><polygon points="454.48,163.38 455.27,165.49 457.52,165.59 455.76,167.00 456.36,169.17 454.48,167.93 452.60,169.17 453.20,167.00 451.44,165.59 453.69,165.49" fill="#cf1f2a" stroke="#cf1f2a" stroke-width="0.3"/><polygon points="462.20,277.86 462.99,279.97 465.24,280.08 463.48,281.48 464.08,283.65 462.20,282.41 460.32,283.65 460.92,281.48 459.16,280.08 461.41,279.97" fill="#cf1f2a" stroke="#cf1f2a" stroke-width="0.3"/><polygon points="469.92,277.22 470.71,279.32 472.96,279.43 471.20,280.83 471.80,283.01 469.92,281.77 468.04,283.01 468.64,280.83 466.88,279.43 469.13,279.32" fill="#cf1f2a" stroke="#cf1f2a" stroke-width="0.3"/><polygon points="477.64,277.48 478.43,279.58 480.68,279.69 478.92,281.09 479.52,283.27 477.64,282.03 475.76,283.27 476.36,281.09 474.60,279.69 476.85,279.58" fill="#cf1f2a" stroke="#cf1f2a" stroke-width="0.3"/><polygon points="485.36,278.12 486.15,280.23 488.40,280.33 486.64,281.74 487.24,283.91 485.36,282.67 483.48,283.91 484.08,281.74 482.32,280.33 484.57,280.23" fill="#cf1f2a" stroke="#cf1f2a" stroke-width="0.3"/><polygon points="493.08,278.39 493.87,280.50 496.12,280.60 494.36,282.01 494.96,284.18 493.08,282.94 491.20,284.18 491.80,282.01 490.04,280.60 492.29,280.50" fill="#cf1f2a" stroke="#cf1f2a" stroke-width="0.3"/><polygon points="500.80,278.57 501.59,280.68 503.84,280.78 502.08,282.19 502.68,284.36 500.80,283.12 498.92,284.36 499.52,282.19 497.76,280.78 500.01,280.68" fill="#cf1f2a" stroke="#cf1f2a" stroke-width="0.3"/><polygon points="508.52,277.34 509.31,279.45 511.56,279.55 509.80,280.96 510.40,283.13 508.52,281.89 506.64,283.13 507.24,280.96 505.48,279.55 507.73,279.45" fill="#cf1f2a" stroke="#cf1f2a" stroke-width="0.3"/><polygon points="516.24,277.56 517.03,279.67 519.28,279.77 517.52,281.18 518.12,283.35 516.24,282.11 514.36,283.35 514.96,281.18 513.20,279.77 515.45,279.67" fill="#cf1f2a" stroke="#cf1f2a" stroke-width="0.3"/><polygon points="523.96,277.70 524.75,279.81 527.00,279.91 525.24,281.32 525.84,283.49 523.96,282.25 522.08,283.49 522.68,281.32 520.92,279.91 523.17,279.81" fill="#cf1f2a" stroke="#cf1f2a" stroke-width="0.3"/><polygon points="531.68,278.00 532.47,280.11 534.72,280.22 532.96,281.62 533.56,283.79 531.68,282.55 529.80,283.79 530.40,281.62 528.64,280.22 530.89,280.11" fill="#cf1f2a" stroke="#cf1f2a" stroke-width="0.3"/><polygon points="539.40,277.90 540.19,280.01 542.44,280.11 540.68,281.52 541.28,283.69 539.40,282.45 537.52,283.69 538.12,281.52 536.36,280.11 538.61,280.01" fill="#cf1f2a" stroke="#cf1f2a" stroke-width="0.3"/>
<path d="M385.00,175.86L392.72,182.31L400.44,181.70L408.16,186.66L415.88,189.86L423.60,183.88L431.32,178.92L439.04,180.89L446.76,181.29L454.48,194.27L462.20,281.30L469.92,280.75L477.64,281.44L485.36,280.58L493.08,280.57L500.80,280.49L508.52,281.26L516.24,281.53L523.96,281.10L531.68,280.46L539.40,280.78" fill="none" stroke="#2865bb" stroke-width="1.0" stroke-linejoin="round"/>
<circle cx="385.00" cy="175.86" r="2.55" fill="none" stroke="#2865bb" stroke-width="0.95"/><circle cx="392.72" cy="182.31" r="2.55" fill="none" stroke="#2865bb" stroke-width="0.95"/><circle cx="400.44" cy="181.70" r="2.55" fill="none" stroke="#2865bb" stroke-width="0.95"/><circle cx="408.16" cy="186.66" r="2.55" fill="none" stroke="#2865bb" stroke-width="0.95"/><circle cx="415.88" cy="189.86" r="2.55" fill="none" stroke="#2865bb" stroke-width="0.95"/><circle cx="423.60" cy="183.88" r="2.55" fill="none" stroke="#2865bb" stroke-width="0.95"/><circle cx="431.32" cy="178.92" r="2.55" fill="none" stroke="#2865bb" stroke-width="0.95"/><circle cx="439.04" cy="180.89" r="2.55" fill="none" stroke="#2865bb" stroke-width="0.95"/><circle cx="446.76" cy="181.29" r="2.55" fill="none" stroke="#2865bb" stroke-width="0.95"/><circle cx="454.48" cy="194.27" r="2.55" fill="none" stroke="#2865bb" stroke-width="0.95"/><circle cx="462.20" cy="281.30" r="2.55" fill="none" stroke="#2865bb" stroke-width="0.95"/><circle cx="469.92" cy="280.75" r="2.55" fill="none" stroke="#2865bb" stroke-width="0.95"/><circle cx="477.64" cy="281.44" r="2.55" fill="none" stroke="#2865bb" stroke-width="0.95"/><circle cx="485.36" cy="280.58" r="2.55" fill="none" stroke="#2865bb" stroke-width="0.95"/><circle cx="493.08" cy="280.57" r="2.55" fill="none" stroke="#2865bb" stroke-width="0.95"/><circle cx="500.80" cy="280.49" r="2.55" fill="none" stroke="#2865bb" stroke-width="0.95"/><circle cx="508.52" cy="281.26" r="2.55" fill="none" stroke="#2865bb" stroke-width="0.95"/><circle cx="516.24" cy="281.53" r="2.55" fill="none" stroke="#2865bb" stroke-width="0.95"/><circle cx="523.96" cy="281.10" r="2.55" fill="none" stroke="#2865bb" stroke-width="0.95"/><circle cx="531.68" cy="280.46" r="2.55" fill="none" stroke="#2865bb" stroke-width="0.95"/><circle cx="539.40" cy="280.78" r="2.55" fill="none" stroke="#2865bb" stroke-width="0.95"/>
<path d="M385.00,179.87L392.72,177.69L400.44,179.87L408.16,183.88L415.88,173.89L423.60,170.70L431.32,184.28L439.04,179.87L446.76,173.89L454.48,179.26L462.20,274.60L469.92,280.92L477.64,280.98L485.36,280.07L493.08,281.40L500.80,281.33L508.52,280.64L516.24,280.56L523.96,280.92L531.68,280.70L539.40,280.91" fill="none" stroke="#e07b2a" stroke-width="1.0" stroke-linejoin="round"/>
<rect x="382.70" y="177.57" width="4.60" height="4.60" fill="none" stroke="#e07b2a" stroke-width="0.95"/><rect x="390.42" y="175.39" width="4.60" height="4.60" fill="none" stroke="#e07b2a" stroke-width="0.95"/><rect x="398.14" y="177.57" width="4.60" height="4.60" fill="none" stroke="#e07b2a" stroke-width="0.95"/><rect x="405.86" y="181.58" width="4.60" height="4.60" fill="none" stroke="#e07b2a" stroke-width="0.95"/><rect x="413.58" y="171.59" width="4.60" height="4.60" fill="none" stroke="#e07b2a" stroke-width="0.95"/><rect x="421.30" y="168.40" width="4.60" height="4.60" fill="none" stroke="#e07b2a" stroke-width="0.95"/><rect x="429.02" y="181.98" width="4.60" height="4.60" fill="none" stroke="#e07b2a" stroke-width="0.95"/><rect x="436.74" y="177.57" width="4.60" height="4.60" fill="none" stroke="#e07b2a" stroke-width="0.95"/><rect x="444.46" y="171.59" width="4.60" height="4.60" fill="none" stroke="#e07b2a" stroke-width="0.95"/><rect x="452.18" y="176.96" width="4.60" height="4.60" fill="none" stroke="#e07b2a" stroke-width="0.95"/><rect x="459.90" y="272.30" width="4.60" height="4.60" fill="none" stroke="#e07b2a" stroke-width="0.95"/><rect x="467.62" y="278.62" width="4.60" height="4.60" fill="none" stroke="#e07b2a" stroke-width="0.95"/><rect x="475.34" y="278.68" width="4.60" height="4.60" fill="none" stroke="#e07b2a" stroke-width="0.95"/><rect x="483.06" y="277.77" width="4.60" height="4.60" fill="none" stroke="#e07b2a" stroke-width="0.95"/><rect x="490.78" y="279.10" width="4.60" height="4.60" fill="none" stroke="#e07b2a" stroke-width="0.95"/><rect x="498.50" y="279.03" width="4.60" height="4.60" fill="none" stroke="#e07b2a" stroke-width="0.95"/><rect x="506.22" y="278.34" width="4.60" height="4.60" fill="none" stroke="#e07b2a" stroke-width="0.95"/><rect x="513.94" y="278.26" width="4.60" height="4.60" fill="none" stroke="#e07b2a" stroke-width="0.95"/><rect x="521.66" y="278.62" width="4.60" height="4.60" fill="none" stroke="#e07b2a" stroke-width="0.95"/><rect x="529.38" y="278.40" width="4.60" height="4.60" fill="none" stroke="#e07b2a" stroke-width="0.95"/><rect x="537.10" y="278.61" width="4.60" height="4.60" fill="none" stroke="#e07b2a" stroke-width="0.95"/>
<path d="M385.00,183.27L392.72,189.24L400.44,189.65L408.16,192.64L415.88,190.26L423.60,185.85L431.32,187.68L439.04,178.31L446.76,186.25L454.48,182.86L462.20,280.50L469.92,280.10L477.64,280.21L485.36,280.55L493.08,280.85L500.80,279.99L508.52,280.90L516.24,280.57L523.96,280.14L531.68,280.47L539.40,281.00" fill="none" stroke="#2e9440" stroke-width="1.0" stroke-linejoin="round"/>
<path d="M387.40,183.27L382.60,180.77L382.60,185.77Z" fill="none" stroke="#2e9440" stroke-width="0.95"/><path d="M395.12,189.24L390.32,186.74L390.32,191.74Z" fill="none" stroke="#2e9440" stroke-width="0.95"/><path d="M402.84,189.65L398.04,187.15L398.04,192.15Z" fill="none" stroke="#2e9440" stroke-width="0.95"/><path d="M410.56,192.64L405.76,190.14L405.76,195.14Z" fill="none" stroke="#2e9440" stroke-width="0.95"/><path d="M418.28,190.26L413.48,187.76L413.48,192.76Z" fill="none" stroke="#2e9440" stroke-width="0.95"/><path d="M426.00,185.85L421.20,183.35L421.20,188.35Z" fill="none" stroke="#2e9440" stroke-width="0.95"/><path d="M433.72,187.68L428.92,185.18L428.92,190.18Z" fill="none" stroke="#2e9440" stroke-width="0.95"/><path d="M441.44,178.31L436.64,175.81L436.64,180.81Z" fill="none" stroke="#2e9440" stroke-width="0.95"/><path d="M449.16,186.25L444.36,183.75L444.36,188.75Z" fill="none" stroke="#2e9440" stroke-width="0.95"/><path d="M456.88,182.86L452.08,180.36L452.08,185.36Z" fill="none" stroke="#2e9440" stroke-width="0.95"/><path d="M464.60,280.50L459.80,278.00L459.80,283.00Z" fill="none" stroke="#2e9440" stroke-width="0.95"/><path d="M472.32,280.10L467.52,277.60L467.52,282.60Z" fill="none" stroke="#2e9440" stroke-width="0.95"/><path d="M480.04,280.21L475.24,277.71L475.24,282.71Z" fill="none" stroke="#2e9440" stroke-width="0.95"/><path d="M487.76,280.55L482.96,278.05L482.96,283.05Z" fill="none" stroke="#2e9440" stroke-width="0.95"/><path d="M495.48,280.85L490.68,278.35L490.68,283.35Z" fill="none" stroke="#2e9440" stroke-width="0.95"/><path d="M503.20,279.99L498.40,277.49L498.40,282.49Z" fill="none" stroke="#2e9440" stroke-width="0.95"/><path d="M510.92,280.90L506.12,278.40L506.12,283.40Z" fill="none" stroke="#2e9440" stroke-width="0.95"/><path d="M518.64,280.57L513.84,278.07L513.84,283.07Z" fill="none" stroke="#2e9440" stroke-width="0.95"/><path d="M526.36,280.14L521.56,277.64L521.56,282.64Z" fill="none" stroke="#2e9440" stroke-width="0.95"/><path d="M534.08,280.47L529.28,277.97L529.28,282.97Z" fill="none" stroke="#2e9440" stroke-width="0.95"/><path d="M541.80,281.00L537.00,278.50L537.00,283.50Z" fill="none" stroke="#2e9440" stroke-width="0.95"/>
<path d="M385.00,196.85L392.72,196.85L400.44,196.65L408.16,198.28L415.88,199.30L423.60,197.26L431.32,200.25L439.04,199.30L446.76,196.24L454.48,194.27L462.20,280.36L469.92,280.62L477.64,280.05L485.36,280.58L493.08,280.74L500.80,279.95L508.52,280.75L516.24,280.98L523.96,280.01L531.68,280.00L539.40,281.39" fill="none" stroke="#3c3c3c" stroke-width="1.0" stroke-linejoin="round"/>
<path d="M382.60,196.85L387.40,194.35L387.40,199.35Z" fill="none" stroke="#3c3c3c" stroke-width="0.95"/><path d="M390.32,196.85L395.12,194.35L395.12,199.35Z" fill="none" stroke="#3c3c3c" stroke-width="0.95"/><path d="M398.04,196.65L402.84,194.15L402.84,199.15Z" fill="none" stroke="#3c3c3c" stroke-width="0.95"/><path d="M405.76,198.28L410.56,195.78L410.56,200.78Z" fill="none" stroke="#3c3c3c" stroke-width="0.95"/><path d="M413.48,199.30L418.28,196.80L418.28,201.80Z" fill="none" stroke="#3c3c3c" stroke-width="0.95"/><path d="M421.20,197.26L426.00,194.76L426.00,199.76Z" fill="none" stroke="#3c3c3c" stroke-width="0.95"/><path d="M428.92,200.25L433.72,197.75L433.72,202.75Z" fill="none" stroke="#3c3c3c" stroke-width="0.95"/><path d="M436.64,199.30L441.44,196.80L441.44,201.80Z" fill="none" stroke="#3c3c3c" stroke-width="0.95"/><path d="M444.36,196.24L449.16,193.74L449.16,198.74Z" fill="none" stroke="#3c3c3c" stroke-width="0.95"/><path d="M452.08,194.27L456.88,191.77L456.88,196.77Z" fill="none" stroke="#3c3c3c" stroke-width="0.95"/><path d="M459.80,280.36L464.60,277.86L464.60,282.86Z" fill="none" stroke="#3c3c3c" stroke-width="0.95"/><path d="M467.52,280.62L472.32,278.12L472.32,283.12Z" fill="none" stroke="#3c3c3c" stroke-width="0.95"/><path d="M475.24,280.05L480.04,277.55L480.04,282.55Z" fill="none" stroke="#3c3c3c" stroke-width="0.95"/><path d="M482.96,280.58L487.76,278.08L487.76,283.08Z" fill="none" stroke="#3c3c3c" stroke-width="0.95"/><path d="M490.68,280.74L495.48,278.24L495.48,283.24Z" fill="none" stroke="#3c3c3c" stroke-width="0.95"/><path d="M498.40,279.95L503.20,277.45L503.20,282.45Z" fill="none" stroke="#3c3c3c" stroke-width="0.95"/><path d="M506.12,280.75L510.92,278.25L510.92,283.25Z" fill="none" stroke="#3c3c3c" stroke-width="0.95"/><path d="M513.84,280.98L518.64,278.48L518.64,283.48Z" fill="none" stroke="#3c3c3c" stroke-width="0.95"/><path d="M521.56,280.01L526.36,277.51L526.36,282.51Z" fill="none" stroke="#3c3c3c" stroke-width="0.95"/><path d="M529.28,280.00L534.08,277.50L534.08,282.50Z" fill="none" stroke="#3c3c3c" stroke-width="0.95"/><path d="M537.00,281.39L541.80,278.89L541.80,283.89Z" fill="none" stroke="#3c3c3c" stroke-width="0.95"/>
<rect x="472.40" y="196.30" width="67.00" height="51.80" fill="#fff" stroke="#cccccc" stroke-width="0.6"/>
<text x="471.80" y="248.90" text-anchor="end" class="itk">0.3</text>
<text x="471.80" y="243.14" text-anchor="end" class="itk">0.32</text>
<text x="471.80" y="237.39" text-anchor="end" class="itk">0.34</text>
<text x="471.80" y="231.63" text-anchor="end" class="itk">0.36</text>
<text x="471.80" y="225.88" text-anchor="end" class="itk">0.38</text>
<text x="471.80" y="220.12" text-anchor="end" class="itk">0.4</text>
<text x="471.80" y="214.37" text-anchor="end" class="itk">0.42</text>
<text x="471.80" y="208.61" text-anchor="end" class="itk">0.44</text>
<text x="471.80" y="202.86" text-anchor="end" class="itk">0.46</text>
<text x="471.80" y="197.10" text-anchor="end" class="itk">0.48</text>
<text x="472.40" y="251.00" text-anchor="middle" class="itk">-1</text>
<text x="489.15" y="251.00" text-anchor="middle" class="itk">-0.5</text>
<text x="505.90" y="251.00" text-anchor="middle" class="itk">0</text>
<text x="522.65" y="251.00" text-anchor="middle" class="itk">0.5</text>
<text x="539.40" y="251.00" text-anchor="middle" class="itk">1</text>
<text x="505.90" y="195.60" text-anchor="middle" class="ittl">Adjnoun</text>
<text transform="translate(465.80,223.70) rotate(-90)" text-anchor="middle" class="iyl">Precision</text>
<text x="505.90" y="255.30" text-anchor="middle" class="ibl">&#946;</text>
<path d="M472.40,247.66L475.75,247.37L479.10,247.66L482.45,247.66L485.80,247.66L489.15,248.10L492.50,247.37L495.85,247.66L499.20,248.10L502.55,247.37L505.90,247.37L509.25,247.66L512.60,247.27L515.95,247.26L519.30,247.51L522.65,247.57L526.00,247.36L529.35,247.23L532.70,247.59L536.05,247.48L539.40,247.37" fill="none" stroke="#5b3f9e" stroke-width="0.6"/>
<circle cx="472.40" cy="247.66" r="1.0" fill="#5b3f9e"/><circle cx="475.75" cy="247.37" r="1.0" fill="#5b3f9e"/><circle cx="479.10" cy="247.66" r="1.0" fill="#5b3f9e"/><circle cx="482.45" cy="247.66" r="1.0" fill="#5b3f9e"/><circle cx="485.80" cy="247.66" r="1.0" fill="#5b3f9e"/><circle cx="489.15" cy="248.10" r="1.0" fill="#5b3f9e"/><circle cx="492.50" cy="247.37" r="1.0" fill="#5b3f9e"/><circle cx="495.85" cy="247.66" r="1.0" fill="#5b3f9e"/><circle cx="499.20" cy="248.10" r="1.0" fill="#5b3f9e"/><circle cx="502.55" cy="247.37" r="1.0" fill="#5b3f9e"/><circle cx="505.90" cy="247.37" r="1.0" fill="#5b3f9e"/><circle cx="509.25" cy="247.66" r="1.0" fill="#5b3f9e"/><circle cx="512.60" cy="247.27" r="1.0" fill="#5b3f9e"/><circle cx="515.95" cy="247.26" r="1.0" fill="#5b3f9e"/><circle cx="519.30" cy="247.51" r="1.0" fill="#5b3f9e"/><circle cx="522.65" cy="247.57" r="1.0" fill="#5b3f9e"/><circle cx="526.00" cy="247.36" r="1.0" fill="#5b3f9e"/><circle cx="529.35" cy="247.23" r="1.0" fill="#5b3f9e"/><circle cx="532.70" cy="247.59" r="1.0" fill="#5b3f9e"/><circle cx="536.05" cy="247.48" r="1.0" fill="#5b3f9e"/><circle cx="539.40" cy="247.37" r="1.0" fill="#5b3f9e"/>
<path d="M472.40,202.87L475.75,207.24L479.10,206.51L482.45,210.16L485.80,206.51L489.15,209.43L492.50,217.46L495.85,228.40L499.20,236.43L502.55,240.07L505.90,247.08L509.25,247.59L512.60,247.49L515.95,247.63L519.30,247.46L522.65,247.59L526.00,247.66L529.35,247.51L532.70,247.62L536.05,247.64L539.40,247.62" fill="none" stroke="#cf1f2a" stroke-width="0.6"/>
<circle cx="472.40" cy="202.87" r="1.0" fill="#cf1f2a"/><circle cx="475.75" cy="207.24" r="1.0" fill="#cf1f2a"/><circle cx="479.10" cy="206.51" r="1.0" fill="#cf1f2a"/><circle cx="482.45" cy="210.16" r="1.0" fill="#cf1f2a"/><circle cx="485.80" cy="206.51" r="1.0" fill="#cf1f2a"/><circle cx="489.15" cy="209.43" r="1.0" fill="#cf1f2a"/><circle cx="492.50" cy="217.46" r="1.0" fill="#cf1f2a"/><circle cx="495.85" cy="228.40" r="1.0" fill="#cf1f2a"/><circle cx="499.20" cy="236.43" r="1.0" fill="#cf1f2a"/><circle cx="502.55" cy="240.07" r="1.0" fill="#cf1f2a"/><circle cx="505.90" cy="247.08" r="1.0" fill="#cf1f2a"/><circle cx="509.25" cy="247.59" r="1.0" fill="#cf1f2a"/><circle cx="512.60" cy="247.49" r="1.0" fill="#cf1f2a"/><circle cx="515.95" cy="247.63" r="1.0" fill="#cf1f2a"/><circle cx="519.30" cy="247.46" r="1.0" fill="#cf1f2a"/><circle cx="522.65" cy="247.59" r="1.0" fill="#cf1f2a"/><circle cx="526.00" cy="247.66" r="1.0" fill="#cf1f2a"/><circle cx="529.35" cy="247.51" r="1.0" fill="#cf1f2a"/><circle cx="532.70" cy="247.62" r="1.0" fill="#cf1f2a"/><circle cx="536.05" cy="247.64" r="1.0" fill="#cf1f2a"/><circle cx="539.40" cy="247.62" r="1.0" fill="#cf1f2a"/>
<path d="M472.40,210.89L475.75,209.43L479.10,211.62L482.45,213.81L485.80,216.00L489.15,220.38L492.50,234.24L495.85,242.99L499.20,243.72L502.55,246.64L505.90,247.37L509.25,247.49L512.60,247.54L515.95,247.34L519.30,247.49L522.65,247.58L526.00,247.61L529.35,247.55L532.70,247.33L536.05,247.60L539.40,247.47" fill="none" stroke="#2865bb" stroke-width="0.6"/>
<circle cx="472.40" cy="210.89" r="1.0" fill="#2865bb"/><circle cx="475.75" cy="209.43" r="1.0" fill="#2865bb"/><circle cx="479.10" cy="211.62" r="1.0" fill="#2865bb"/><circle cx="482.45" cy="213.81" r="1.0" fill="#2865bb"/><circle cx="485.80" cy="216.00" r="1.0" fill="#2865bb"/><circle cx="489.15" cy="220.38" r="1.0" fill="#2865bb"/><circle cx="492.50" cy="234.24" r="1.0" fill="#2865bb"/><circle cx="495.85" cy="242.99" r="1.0" fill="#2865bb"/><circle cx="499.20" cy="243.72" r="1.0" fill="#2865bb"/><circle cx="502.55" cy="246.64" r="1.0" fill="#2865bb"/><circle cx="505.90" cy="247.37" r="1.0" fill="#2865bb"/><circle cx="509.25" cy="247.49" r="1.0" fill="#2865bb"/><circle cx="512.60" cy="247.54" r="1.0" fill="#2865bb"/><circle cx="515.95" cy="247.34" r="1.0" fill="#2865bb"/><circle cx="519.30" cy="247.49" r="1.0" fill="#2865bb"/><circle cx="522.65" cy="247.58" r="1.0" fill="#2865bb"/><circle cx="526.00" cy="247.61" r="1.0" fill="#2865bb"/><circle cx="529.35" cy="247.55" r="1.0" fill="#2865bb"/><circle cx="532.70" cy="247.33" r="1.0" fill="#2865bb"/><circle cx="536.05" cy="247.60" r="1.0" fill="#2865bb"/><circle cx="539.40" cy="247.47" r="1.0" fill="#2865bb"/>
<path d="M472.40,203.60L475.75,201.41L479.10,203.60L482.45,205.05L485.80,202.87L489.15,202.87L492.50,203.60L495.85,212.35L499.20,226.94L502.55,241.53L505.90,247.08L509.25,247.30L512.60,247.29L515.95,247.47L519.30,247.28L522.65,247.38L526.00,247.59L529.35,247.65L532.70,247.61L536.05,247.30L539.40,247.51" fill="none" stroke="#e07b2a" stroke-width="0.6"/>
<circle cx="472.40" cy="203.60" r="1.0" fill="#e07b2a"/><circle cx="475.75" cy="201.41" r="1.0" fill="#e07b2a"/><circle cx="479.10" cy="203.60" r="1.0" fill="#e07b2a"/><circle cx="482.45" cy="205.05" r="1.0" fill="#e07b2a"/><circle cx="485.80" cy="202.87" r="1.0" fill="#e07b2a"/><circle cx="489.15" cy="202.87" r="1.0" fill="#e07b2a"/><circle cx="492.50" cy="203.60" r="1.0" fill="#e07b2a"/><circle cx="495.85" cy="212.35" r="1.0" fill="#e07b2a"/><circle cx="499.20" cy="226.94" r="1.0" fill="#e07b2a"/><circle cx="502.55" cy="241.53" r="1.0" fill="#e07b2a"/><circle cx="505.90" cy="247.08" r="1.0" fill="#e07b2a"/><circle cx="509.25" cy="247.30" r="1.0" fill="#e07b2a"/><circle cx="512.60" cy="247.29" r="1.0" fill="#e07b2a"/><circle cx="515.95" cy="247.47" r="1.0" fill="#e07b2a"/><circle cx="519.30" cy="247.28" r="1.0" fill="#e07b2a"/><circle cx="522.65" cy="247.38" r="1.0" fill="#e07b2a"/><circle cx="526.00" cy="247.59" r="1.0" fill="#e07b2a"/><circle cx="529.35" cy="247.65" r="1.0" fill="#e07b2a"/><circle cx="532.70" cy="247.61" r="1.0" fill="#e07b2a"/><circle cx="536.05" cy="247.30" r="1.0" fill="#e07b2a"/><circle cx="539.40" cy="247.51" r="1.0" fill="#e07b2a"/>
<path d="M472.40,203.60L475.75,203.60L479.10,204.33L482.45,204.33L485.80,206.51L489.15,206.51L492.50,202.87L495.85,209.43L499.20,221.11L502.55,240.07L505.90,246.64L509.25,247.28L512.60,247.22L515.95,247.24L519.30,247.47L522.65,247.70L526.00,247.56L529.35,247.59L532.70,247.38L536.05,247.35L539.40,247.24" fill="none" stroke="#2e9440" stroke-width="0.6"/>
<circle cx="472.40" cy="203.60" r="1.0" fill="#2e9440"/><circle cx="475.75" cy="203.60" r="1.0" fill="#2e9440"/><circle cx="479.10" cy="204.33" r="1.0" fill="#2e9440"/><circle cx="482.45" cy="204.33" r="1.0" fill="#2e9440"/><circle cx="485.80" cy="206.51" r="1.0" fill="#2e9440"/><circle cx="489.15" cy="206.51" r="1.0" fill="#2e9440"/><circle cx="492.50" cy="202.87" r="1.0" fill="#2e9440"/><circle cx="495.85" cy="209.43" r="1.0" fill="#2e9440"/><circle cx="499.20" cy="221.11" r="1.0" fill="#2e9440"/><circle cx="502.55" cy="240.07" r="1.0" fill="#2e9440"/><circle cx="505.90" cy="246.64" r="1.0" fill="#2e9440"/><circle cx="509.25" cy="247.28" r="1.0" fill="#2e9440"/><circle cx="512.60" cy="247.22" r="1.0" fill="#2e9440"/><circle cx="515.95" cy="247.24" r="1.0" fill="#2e9440"/><circle cx="519.30" cy="247.47" r="1.0" fill="#2e9440"/><circle cx="522.65" cy="247.70" r="1.0" fill="#2e9440"/><circle cx="526.00" cy="247.56" r="1.0" fill="#2e9440"/><circle cx="529.35" cy="247.59" r="1.0" fill="#2e9440"/><circle cx="532.70" cy="247.38" r="1.0" fill="#2e9440"/><circle cx="536.05" cy="247.35" r="1.0" fill="#2e9440"/><circle cx="539.40" cy="247.24" r="1.0" fill="#2e9440"/>
<path d="M472.40,203.60L475.75,205.05L479.10,205.78L482.45,205.78L485.80,205.05L489.15,205.05L492.50,202.87L495.85,206.51L499.20,214.54L502.55,231.32L505.90,247.08L509.25,247.35L512.60,247.22L515.95,247.38L519.30,247.46L522.65,247.28L526.00,247.56L529.35,247.31L532.70,247.34L536.05,247.27L539.40,247.67" fill="none" stroke="#3c3c3c" stroke-width="0.6"/>
<circle cx="472.40" cy="203.60" r="1.0" fill="#3c3c3c"/><circle cx="475.75" cy="205.05" r="1.0" fill="#3c3c3c"/><circle cx="479.10" cy="205.78" r="1.0" fill="#3c3c3c"/><circle cx="482.45" cy="205.78" r="1.0" fill="#3c3c3c"/><circle cx="485.80" cy="205.05" r="1.0" fill="#3c3c3c"/><circle cx="489.15" cy="205.05" r="1.0" fill="#3c3c3c"/><circle cx="492.50" cy="202.87" r="1.0" fill="#3c3c3c"/><circle cx="495.85" cy="206.51" r="1.0" fill="#3c3c3c"/><circle cx="499.20" cy="214.54" r="1.0" fill="#3c3c3c"/><circle cx="502.55" cy="231.32" r="1.0" fill="#3c3c3c"/><circle cx="505.90" cy="247.08" r="1.0" fill="#3c3c3c"/><circle cx="509.25" cy="247.35" r="1.0" fill="#3c3c3c"/><circle cx="512.60" cy="247.22" r="1.0" fill="#3c3c3c"/><circle cx="515.95" cy="247.38" r="1.0" fill="#3c3c3c"/><circle cx="519.30" cy="247.46" r="1.0" fill="#3c3c3c"/><circle cx="522.65" cy="247.28" r="1.0" fill="#3c3c3c"/><circle cx="526.00" cy="247.56" r="1.0" fill="#3c3c3c"/><circle cx="529.35" cy="247.31" r="1.0" fill="#3c3c3c"/><circle cx="532.70" cy="247.34" r="1.0" fill="#3c3c3c"/><circle cx="536.05" cy="247.27" r="1.0" fill="#3c3c3c"/><circle cx="539.40" cy="247.67" r="1.0" fill="#3c3c3c"/>
<text transform="translate(20.50,434.70) scale(1,1.12)" text-anchor="end" class="tk">0.3</text>
<text transform="translate(20.50,421.13) scale(1,1.12)" text-anchor="end" class="tk">0.32</text>
<path d="M22.40,418.93h1.6M176.50,418.93h-1.6" stroke="#cccccc" stroke-width="0.6"/>
<text transform="translate(20.50,407.57) scale(1,1.12)" text-anchor="end" class="tk">0.34</text>
<path d="M22.40,405.37h1.6M176.50,405.37h-1.6" stroke="#cccccc" stroke-width="0.6"/>
<text transform="translate(20.50,394.00) scale(1,1.12)" text-anchor="end" class="tk">0.36</text>
<path d="M22.40,391.80h1.6M176.50,391.80h-1.6" stroke="#cccccc" stroke-width="0.6"/>
<text transform="translate(20.50,380.43) scale(1,1.12)" text-anchor="end" class="tk">0.38</text>
<path d="M22.40,378.23h1.6M176.50,378.23h-1.6" stroke="#cccccc" stroke-width="0.6"/>
<text transform="translate(20.50,366.87) scale(1,1.12)" text-anchor="end" class="tk">0.4</text>
<path d="M22.40,364.67h1.6M176.50,364.67h-1.6" stroke="#cccccc" stroke-width="0.6"/>
<text transform="translate(20.50,353.30) scale(1,1.12)" text-anchor="end" class="tk">0.42</text>
<path d="M22.40,351.10h1.6M176.50,351.10h-1.6" stroke="#cccccc" stroke-width="0.6"/>
<text transform="translate(20.50,339.73) scale(1,1.12)" text-anchor="end" class="tk">0.44</text>
<path d="M22.40,337.53h1.6M176.50,337.53h-1.6" stroke="#cccccc" stroke-width="0.6"/>
<text transform="translate(20.50,326.17) scale(1,1.12)" text-anchor="end" class="tk">0.46</text>
<path d="M22.40,323.97h1.6M176.50,323.97h-1.6" stroke="#cccccc" stroke-width="0.6"/>
<text transform="translate(20.50,312.60) scale(1,1.12)" text-anchor="end" class="tk">0.48</text>
<text transform="translate(22.40,440.20) scale(1,1.12)" text-anchor="middle" class="tk">-10</text>
<text transform="translate(60.92,440.20) scale(1,1.12)" text-anchor="middle" class="tk">-5</text>
<path d="M60.92,432.50v-1.6M60.92,310.40v1.6" stroke="#cccccc" stroke-width="0.6"/>
<text transform="translate(99.45,440.20) scale(1,1.12)" text-anchor="middle" class="tk">0</text>
<path d="M99.45,432.50v-1.6M99.45,310.40v1.6" stroke="#cccccc" stroke-width="0.6"/>
<text transform="translate(137.97,440.20) scale(1,1.12)" text-anchor="middle" class="tk">5</text>
<path d="M137.97,432.50v-1.6M137.97,310.40v1.6" stroke="#cccccc" stroke-width="0.6"/>
<text transform="translate(176.50,440.20) scale(1,1.12)" text-anchor="middle" class="tk">10</text>
<rect x="22.40" y="310.40" width="154.10" height="122.10" fill="none" stroke="#cccccc" stroke-width="1.0"/>
<text x="99.45" y="307.80" text-anchor="middle" class="ttl">Football</text>
<text transform="translate(162.70,325.80) scale(1.12,1)" text-anchor="middle" class="let">(g)</text>
<text transform="translate(7.20,371.45) rotate(-90)" text-anchor="middle" class="yl">Precision</text>
<text x="99.45" y="447.50" text-anchor="middle" class="bl">&#946;</text>
<path d="M22.40,432.30L30.10,432.30L37.81,432.30L45.52,432.30L53.22,432.30L60.92,432.30L68.63,432.30L76.33,432.30L84.04,432.30L91.75,432.30L99.45,431.03L107.16,431.65L114.86,431.34L122.56,431.32L130.27,431.94L137.97,432.11L145.68,431.48L153.38,432.05L161.09,431.74L168.79,431.13L176.50,431.15" fill="none" stroke="#5b3f9e" stroke-width="1.0" stroke-linejoin="round"/>
<path d="M22.40,429.70L24.70,432.30L22.40,434.90L20.10,432.30Z" fill="none" stroke="#5b3f9e" stroke-width="0.95"/><path d="M30.10,429.70L32.40,432.30L30.10,434.90L27.80,432.30Z" fill="none" stroke="#5b3f9e" stroke-width="0.95"/><path d="M37.81,429.70L40.11,432.30L37.81,434.90L35.51,432.30Z" fill="none" stroke="#5b3f9e" stroke-width="0.95"/><path d="M45.52,429.70L47.81,432.30L45.52,434.90L43.22,432.30Z" fill="none" stroke="#5b3f9e" stroke-width="0.95"/><path d="M53.22,429.70L55.52,432.30L53.22,434.90L50.92,432.30Z" fill="none" stroke="#5b3f9e" stroke-width="0.95"/><path d="M60.92,429.70L63.22,432.30L60.92,434.90L58.62,432.30Z" fill="none" stroke="#5b3f9e" stroke-width="0.95"/><path d="M68.63,429.70L70.93,432.30L68.63,434.90L66.33,432.30Z" fill="none" stroke="#5b3f9e" stroke-width="0.95"/><path d="M76.33,429.70L78.63,432.30L76.33,434.90L74.03,432.30Z" fill="none" stroke="#5b3f9e" stroke-width="0.95"/><path d="M84.04,429.70L86.34,432.30L84.04,434.90L81.74,432.30Z" fill="none" stroke="#5b3f9e" stroke-width="0.95"/><path d="M91.75,429.70L94.05,432.30L91.75,434.90L89.45,432.30Z" fill="none" stroke="#5b3f9e" stroke-width="0.95"/><path d="M99.45,428.43L101.75,431.03L99.45,433.63L97.15,431.03Z" fill="none" stroke="#5b3f9e" stroke-width="0.95"/><path d="M107.16,429.05L109.45,431.65L107.16,434.25L104.86,431.65Z" fill="none" stroke="#5b3f9e" stroke-width="0.95"/><path d="M114.86,428.74L117.16,431.34L114.86,433.94L112.56,431.34Z" fill="none" stroke="#5b3f9e" stroke-width="0.95"/><path d="M122.56,428.72L124.86,431.32L122.56,433.92L120.27,431.32Z" fill="none" stroke="#5b3f9e" stroke-width="0.95"/><path d="M130.27,429.34L132.57,431.94L130.27,434.54L127.97,431.94Z" fill="none" stroke="#5b3f9e" stroke-width="0.95"/><path d="M137.97,429.51L140.28,432.11L137.97,434.71L135.67,432.11Z" fill="none" stroke="#5b3f9e" stroke-width="0.95"/><path d="M145.68,428.88L147.98,431.48L145.68,434.08L143.38,431.48Z" fill="none" stroke="#5b3f9e" stroke-width="0.95"/><path d="M153.38,429.45L155.69,432.05L153.38,434.65L151.08,432.05Z" fill="none" stroke="#5b3f9e" stroke-width="0.95"/><path d="M161.09,429.14L163.39,431.74L161.09,434.34L158.79,431.74Z" fill="none" stroke="#5b3f9e" stroke-width="0.95"/><path d="M168.79,428.53L171.09,431.13L168.79,433.73L166.49,431.13Z" fill="none" stroke="#5b3f9e" stroke-width="0.95"/><path d="M176.50,428.55L178.80,431.15L176.50,433.75L174.20,431.15Z" fill="none" stroke="#5b3f9e" stroke-width="0.95"/>
<path d="M22.40,317.39L30.10,319.96L37.81,313.59L45.52,319.96L53.22,331.50L60.92,324.92L68.63,323.90L76.33,335.43L84.04,318.34L91.75,321.52L99.45,431.39L107.16,431.45L114.86,431.20L122.56,430.11L130.27,431.56L137.97,431.19L145.68,431.41L153.38,431.37L161.09,430.66L168.79,431.27L176.50,430.86" fill="none" stroke="#cf1f2a" stroke-width="1.0" stroke-linejoin="round"/>
<polygon points="22.40,314.49 23.19,316.59 25.44,316.70 23.68,318.10 24.28,320.28 22.40,319.04 20.52,320.28 21.12,318.10 19.36,316.70 21.61,316.59" fill="#cf1f2a" stroke="#cf1f2a" stroke-width="0.3"/><polygon points="30.10,317.06 30.90,319.17 33.15,319.28 31.39,320.68 31.99,322.85 30.10,321.61 28.22,322.85 28.82,320.68 27.06,319.28 29.31,319.17" fill="#cf1f2a" stroke="#cf1f2a" stroke-width="0.3"/><polygon points="37.81,310.69 38.60,312.80 40.85,312.90 39.09,314.31 39.69,316.48 37.81,315.24 35.93,316.48 36.53,314.31 34.77,312.90 37.02,312.80" fill="#cf1f2a" stroke="#cf1f2a" stroke-width="0.3"/><polygon points="45.52,317.06 46.31,319.17 48.56,319.28 46.80,320.68 47.40,322.85 45.52,321.61 43.63,322.85 44.23,320.68 42.47,319.28 44.72,319.17" fill="#cf1f2a" stroke="#cf1f2a" stroke-width="0.3"/><polygon points="53.22,328.60 54.01,330.70 56.26,330.81 54.50,332.21 55.10,334.39 53.22,333.15 51.34,334.39 51.94,332.21 50.18,330.81 52.43,330.70" fill="#cf1f2a" stroke="#cf1f2a" stroke-width="0.3"/><polygon points="60.92,322.02 61.72,324.12 63.97,324.23 62.21,325.63 62.81,327.81 60.92,326.57 59.04,327.81 59.64,325.63 57.88,324.23 60.13,324.12" fill="#cf1f2a" stroke="#cf1f2a" stroke-width="0.3"/><polygon points="68.63,321.00 69.42,323.11 71.67,323.21 69.91,324.62 70.51,326.79 68.63,325.55 66.75,326.79 67.35,324.62 65.59,323.21 67.84,323.11" fill="#cf1f2a" stroke="#cf1f2a" stroke-width="0.3"/><polygon points="76.33,332.53 77.13,334.64 79.38,334.74 77.62,336.15 78.22,338.32 76.33,337.08 74.45,338.32 75.05,336.15 73.29,334.74 75.54,334.64" fill="#cf1f2a" stroke="#cf1f2a" stroke-width="0.3"/><polygon points="84.04,315.44 84.83,317.54 87.08,317.65 85.32,319.05 85.92,321.23 84.04,319.99 82.16,321.23 82.76,319.05 81.00,317.65 83.25,317.54" fill="#cf1f2a" stroke="#cf1f2a" stroke-width="0.3"/><polygon points="91.75,318.62 92.54,320.73 94.79,320.84 93.03,322.24 93.63,324.41 91.75,323.17 89.86,324.41 90.46,322.24 88.70,320.84 90.95,320.73" fill="#cf1f2a" stroke="#cf1f2a" stroke-width="0.3"/><polygon points="99.45,428.49 100.24,430.59 102.49,430.70 100.73,432.10 101.33,434.28 99.45,433.04 97.57,434.28 98.17,432.10 96.41,430.70 98.66,430.59" fill="#cf1f2a" stroke="#cf1f2a" stroke-width="0.3"/><polygon points="107.16,428.55 107.95,430.66 110.20,430.76 108.44,432.17 109.04,434.34 107.16,433.10 105.27,434.34 105.87,432.17 104.11,430.76 106.36,430.66" fill="#cf1f2a" stroke="#cf1f2a" stroke-width="0.3"/><polygon points="114.86,428.30 115.65,430.41 117.90,430.51 116.14,431.92 116.74,434.09 114.86,432.85 112.98,434.09 113.58,431.92 111.82,430.51 114.07,430.41" fill="#cf1f2a" stroke="#cf1f2a" stroke-width="0.3"/><polygon points="122.56,427.21 123.36,429.32 125.61,429.42 123.85,430.83 124.45,433.00 122.56,431.76 120.68,433.00 121.28,430.83 119.52,429.42 121.77,429.32" fill="#cf1f2a" stroke="#cf1f2a" stroke-width="0.3"/><polygon points="130.27,428.66 131.06,430.76 133.31,430.87 131.55,432.27 132.15,434.44 130.27,433.21 128.39,434.44 128.99,432.27 127.23,430.87 129.48,430.76" fill="#cf1f2a" stroke="#cf1f2a" stroke-width="0.3"/><polygon points="137.97,428.29 138.77,430.40 141.02,430.51 139.26,431.91 139.86,434.08 137.97,432.84 136.09,434.08 136.69,431.91 134.93,430.51 137.18,430.40" fill="#cf1f2a" stroke="#cf1f2a" stroke-width="0.3"/><polygon points="145.68,428.51 146.47,430.61 148.72,430.72 146.96,432.12 147.56,434.30 145.68,433.06 143.80,434.30 144.40,432.12 142.64,430.72 144.89,430.61" fill="#cf1f2a" stroke="#cf1f2a" stroke-width="0.3"/><polygon points="153.38,428.47 154.18,430.58 156.43,430.68 154.67,432.09 155.27,434.26 153.38,433.02 151.50,434.26 152.10,432.09 150.34,430.68 152.59,430.58" fill="#cf1f2a" stroke="#cf1f2a" stroke-width="0.3"/><polygon points="161.09,427.76 161.88,429.87 164.13,429.97 162.37,431.38 162.97,433.55 161.09,432.31 159.21,433.55 159.81,431.38 158.05,429.97 160.30,429.87" fill="#cf1f2a" stroke="#cf1f2a" stroke-width="0.3"/><polygon points="168.79,428.37 169.59,430.48 171.84,430.58 170.08,431.99 170.68,434.16 168.79,432.92 166.91,434.16 167.51,431.99 165.75,430.58 168.00,430.48" fill="#cf1f2a" stroke="#cf1f2a" stroke-width="0.3"/><polygon points="176.50,427.96 177.29,430.07 179.54,430.17 177.78,431.58 178.38,433.75 176.50,432.51 174.62,433.75 175.22,431.58 173.46,430.17 175.71,430.07" fill="#cf1f2a" stroke="#cf1f2a" stroke-width="0.3"/>
<path d="M22.40,338.82L30.10,336.85L37.81,344.18L45.52,332.24L53.22,334.28L60.92,332.45L68.63,335.84L76.33,322.54L84.04,330.89L91.75,334.28L99.45,430.28L107.16,430.30L114.86,430.85L122.56,430.18L130.27,430.57L137.97,430.11L145.68,431.15L153.38,430.94L161.09,430.56L168.79,429.90L176.50,430.49" fill="none" stroke="#2865bb" stroke-width="1.0" stroke-linejoin="round"/>
<circle cx="22.40" cy="338.82" r="2.55" fill="none" stroke="#2865bb" stroke-width="0.95"/><circle cx="30.10" cy="336.85" r="2.55" fill="none" stroke="#2865bb" stroke-width="0.95"/><circle cx="37.81" cy="344.18" r="2.55" fill="none" stroke="#2865bb" stroke-width="0.95"/><circle cx="45.52" cy="332.24" r="2.55" fill="none" stroke="#2865bb" stroke-width="0.95"/><circle cx="53.22" cy="334.28" r="2.55" fill="none" stroke="#2865bb" stroke-width="0.95"/><circle cx="60.92" cy="332.45" r="2.55" fill="none" stroke="#2865bb" stroke-width="0.95"/><circle cx="68.63" cy="335.84" r="2.55" fill="none" stroke="#2865bb" stroke-width="0.95"/><circle cx="76.33" cy="322.54" r="2.55" fill="none" stroke="#2865bb" stroke-width="0.95"/><circle cx="84.04" cy="330.89" r="2.55" fill="none" stroke="#2865bb" stroke-width="0.95"/><circle cx="91.75" cy="334.28" r="2.55" fill="none" stroke="#2865bb" stroke-width="0.95"/><circle cx="99.45" cy="430.28" r="2.55" fill="none" stroke="#2865bb" stroke-width="0.95"/><circle cx="107.16" cy="430.30" r="2.55" fill="none" stroke="#2865bb" stroke-width="0.95"/><circle cx="114.86" cy="430.85" r="2.55" fill="none" stroke="#2865bb" stroke-width="0.95"/><circle cx="122.56" cy="430.18" r="2.55" fill="none" stroke="#2865bb" stroke-width="0.95"/><circle cx="130.27" cy="430.57" r="2.55" fill="none" stroke="#2865bb" stroke-width="0.95"/><circle cx="137.97" cy="430.11" r="2.55" fill="none" stroke="#2865bb" stroke-width="0.95"/><circle cx="145.68" cy="431.15" r="2.55" fill="none" stroke="#2865bb" stroke-width="0.95"/><circle cx="153.38" cy="430.94" r="2.55" fill="none" stroke="#2865bb" stroke-width="0.95"/><circle cx="161.09" cy="430.56" r="2.55" fill="none" stroke="#2865bb" stroke-width="0.95"/><circle cx="168.79" cy="429.90" r="2.55" fill="none" stroke="#2865bb" stroke-width="0.95"/><circle cx="176.50" cy="430.49" r="2.55" fill="none" stroke="#2865bb" stroke-width="0.95"/>
<path d="M22.40,338.82L30.10,339.23L37.81,342.21L45.52,349.34L53.22,336.45L60.92,349.74L68.63,340.79L76.33,347.37L84.04,352.12L91.75,343.37L99.45,429.50L107.16,431.15L114.86,431.09L122.56,431.21L130.27,429.82L137.97,430.00L145.68,429.99L153.38,430.65L161.09,430.32L168.79,431.07L176.50,430.73" fill="none" stroke="#e07b2a" stroke-width="1.0" stroke-linejoin="round"/>
<rect x="20.10" y="336.52" width="4.60" height="4.60" fill="none" stroke="#e07b2a" stroke-width="0.95"/><rect x="27.80" y="336.93" width="4.60" height="4.60" fill="none" stroke="#e07b2a" stroke-width="0.95"/><rect x="35.51" y="339.91" width="4.60" height="4.60" fill="none" stroke="#e07b2a" stroke-width="0.95"/><rect x="43.22" y="347.04" width="4.60" height="4.60" fill="none" stroke="#e07b2a" stroke-width="0.95"/><rect x="50.92" y="334.15" width="4.60" height="4.60" fill="none" stroke="#e07b2a" stroke-width="0.95"/><rect x="58.62" y="347.44" width="4.60" height="4.60" fill="none" stroke="#e07b2a" stroke-width="0.95"/><rect x="66.33" y="338.49" width="4.60" height="4.60" fill="none" stroke="#e07b2a" stroke-width="0.95"/><rect x="74.03" y="345.07" width="4.60" height="4.60" fill="none" stroke="#e07b2a" stroke-width="0.95"/><rect x="81.74" y="349.82" width="4.60" height="4.60" fill="none" stroke="#e07b2a" stroke-width="0.95"/><rect x="89.45" y="341.07" width="4.60" height="4.60" fill="none" stroke="#e07b2a" stroke-width="0.95"/><rect x="97.15" y="427.20" width="4.60" height="4.60" fill="none" stroke="#e07b2a" stroke-width="0.95"/><rect x="104.86" y="428.85" width="4.60" height="4.60" fill="none" stroke="#e07b2a" stroke-width="0.95"/><rect x="112.56" y="428.79" width="4.60" height="4.60" fill="none" stroke="#e07b2a" stroke-width="0.95"/><rect x="120.27" y="428.91" width="4.60" height="4.60" fill="none" stroke="#e07b2a" stroke-width="0.95"/><rect x="127.97" y="427.52" width="4.60" height="4.60" fill="none" stroke="#e07b2a" stroke-width="0.95"/><rect x="135.67" y="427.70" width="4.60" height="4.60" fill="none" stroke="#e07b2a" stroke-width="0.95"/><rect x="143.38" y="427.69" width="4.60" height="4.60" fill="none" stroke="#e07b2a" stroke-width="0.95"/><rect x="151.08" y="428.35" width="4.60" height="4.60" fill="none" stroke="#e07b2a" stroke-width="0.95"/><rect x="158.79" y="428.02" width="4.60" height="4.60" fill="none" stroke="#e07b2a" stroke-width="0.95"/><rect x="166.49" y="428.77" width="4.60" height="4.60" fill="none" stroke="#e07b2a" stroke-width="0.95"/><rect x="174.20" y="428.43" width="4.60" height="4.60" fill="none" stroke="#e07b2a" stroke-width="0.95"/>
<path d="M22.40,350.15L30.10,345.81L37.81,352.73L45.52,345.40L53.22,351.37L60.92,350.15L68.63,347.37L76.33,342.82L84.04,350.76L91.75,352.73L99.45,431.34L107.16,430.84L114.86,431.15L122.56,431.42L130.27,429.95L137.97,431.43L145.68,430.14L153.38,430.34L161.09,431.44L168.79,430.73L176.50,429.81" fill="none" stroke="#2e9440" stroke-width="1.0" stroke-linejoin="round"/>
<path d="M24.80,350.15L20.00,347.65L20.00,352.65Z" fill="none" stroke="#2e9440" stroke-width="0.95"/><path d="M32.50,345.81L27.70,343.31L27.70,348.31Z" fill="none" stroke="#2e9440" stroke-width="0.95"/><path d="M40.21,352.73L35.41,350.23L35.41,355.23Z" fill="none" stroke="#2e9440" stroke-width="0.95"/><path d="M47.91,345.40L43.12,342.90L43.12,347.90Z" fill="none" stroke="#2e9440" stroke-width="0.95"/><path d="M55.62,351.37L50.82,348.87L50.82,353.87Z" fill="none" stroke="#2e9440" stroke-width="0.95"/><path d="M63.32,350.15L58.52,347.65L58.52,352.65Z" fill="none" stroke="#2e9440" stroke-width="0.95"/><path d="M71.03,347.37L66.23,344.87L66.23,349.87Z" fill="none" stroke="#2e9440" stroke-width="0.95"/><path d="M78.73,342.82L73.93,340.32L73.93,345.32Z" fill="none" stroke="#2e9440" stroke-width="0.95"/><path d="M86.44,350.76L81.64,348.26L81.64,353.26Z" fill="none" stroke="#2e9440" stroke-width="0.95"/><path d="M94.15,352.73L89.34,350.23L89.34,355.23Z" fill="none" stroke="#2e9440" stroke-width="0.95"/><path d="M101.85,431.34L97.05,428.84L97.05,433.84Z" fill="none" stroke="#2e9440" stroke-width="0.95"/><path d="M109.56,430.84L104.75,428.34L104.75,433.34Z" fill="none" stroke="#2e9440" stroke-width="0.95"/><path d="M117.26,431.15L112.46,428.65L112.46,433.65Z" fill="none" stroke="#2e9440" stroke-width="0.95"/><path d="M124.97,431.42L120.16,428.92L120.16,433.92Z" fill="none" stroke="#2e9440" stroke-width="0.95"/><path d="M132.67,429.95L127.87,427.45L127.87,432.45Z" fill="none" stroke="#2e9440" stroke-width="0.95"/><path d="M140.38,431.43L135.57,428.93L135.57,433.93Z" fill="none" stroke="#2e9440" stroke-width="0.95"/><path d="M148.08,430.14L143.28,427.64L143.28,432.64Z" fill="none" stroke="#2e9440" stroke-width="0.95"/><path d="M155.78,430.34L150.98,427.84L150.98,432.84Z" fill="none" stroke="#2e9440" stroke-width="0.95"/><path d="M163.49,431.44L158.69,428.94L158.69,433.94Z" fill="none" stroke="#2e9440" stroke-width="0.95"/><path d="M171.19,430.73L166.39,428.23L166.39,433.23Z" fill="none" stroke="#2e9440" stroke-width="0.95"/><path d="M178.90,429.81L174.10,427.31L174.10,432.31Z" fill="none" stroke="#2e9440" stroke-width="0.95"/>
<path d="M22.40,353.75L30.10,352.12L37.81,354.70L45.52,364.67L53.22,351.37L60.92,353.75L68.63,354.70L76.33,353.75L84.04,352.12L91.75,352.12L99.45,429.82L107.16,430.59L114.86,430.21L122.56,430.32L130.27,431.07L137.97,430.61L145.68,430.53L153.38,430.89L161.09,430.13L168.79,430.80L176.50,430.25" fill="none" stroke="#3c3c3c" stroke-width="1.0" stroke-linejoin="round"/>
<path d="M20.00,353.75L24.80,351.25L24.80,356.25Z" fill="none" stroke="#3c3c3c" stroke-width="0.95"/><path d="M27.70,352.12L32.50,349.62L32.50,354.62Z" fill="none" stroke="#3c3c3c" stroke-width="0.95"/><path d="M35.41,354.70L40.21,352.20L40.21,357.20Z" fill="none" stroke="#3c3c3c" stroke-width="0.95"/><path d="M43.12,364.67L47.91,362.17L47.91,367.17Z" fill="none" stroke="#3c3c3c" stroke-width="0.95"/><path d="M50.82,351.37L55.62,348.87L55.62,353.87Z" fill="none" stroke="#3c3c3c" stroke-width="0.95"/><path d="M58.52,353.75L63.32,351.25L63.32,356.25Z" fill="none" stroke="#3c3c3c" stroke-width="0.95"/><path d="M66.23,354.70L71.03,352.20L71.03,357.20Z" fill="none" stroke="#3c3c3c" stroke-width="0.95"/><path d="M73.93,353.75L78.73,351.25L78.73,356.25Z" fill="none" stroke="#3c3c3c" stroke-width="0.95"/><path d="M81.64,352.12L86.44,349.62L86.44,354.62Z" fill="none" stroke="#3c3c3c" stroke-width="0.95"/><path d="M89.34,352.12L94.15,349.62L94.15,354.62Z" fill="none" stroke="#3c3c3c" stroke-width="0.95"/><path d="M97.05,429.82L101.85,427.32L101.85,432.32Z" fill="none" stroke="#3c3c3c" stroke-width="0.95"/><path d="M104.75,430.59L109.56,428.09L109.56,433.09Z" fill="none" stroke="#3c3c3c" stroke-width="0.95"/><path d="M112.46,430.21L117.26,427.71L117.26,432.71Z" fill="none" stroke="#3c3c3c" stroke-width="0.95"/><path d="M120.16,430.32L124.97,427.82L124.97,432.82Z" fill="none" stroke="#3c3c3c" stroke-width="0.95"/><path d="M127.87,431.07L132.67,428.57L132.67,433.57Z" fill="none" stroke="#3c3c3c" stroke-width="0.95"/><path d="M135.57,430.61L140.38,428.11L140.38,433.11Z" fill="none" stroke="#3c3c3c" stroke-width="0.95"/><path d="M143.28,430.53L148.08,428.03L148.08,433.03Z" fill="none" stroke="#3c3c3c" stroke-width="0.95"/><path d="M150.98,430.89L155.78,428.39L155.78,433.39Z" fill="none" stroke="#3c3c3c" stroke-width="0.95"/><path d="M158.69,430.13L163.49,427.63L163.49,432.63Z" fill="none" stroke="#3c3c3c" stroke-width="0.95"/><path d="M166.39,430.80L171.19,428.30L171.19,433.30Z" fill="none" stroke="#3c3c3c" stroke-width="0.95"/><path d="M174.10,430.25L178.90,427.75L178.90,432.75Z" fill="none" stroke="#3c3c3c" stroke-width="0.95"/>
<rect x="109.00" y="346.80" width="67.50" height="52.50" fill="#fff" stroke="#cccccc" stroke-width="0.6"/>
<text x="108.40" y="400.10" text-anchor="end" class="itk">0.3</text>
<text x="108.40" y="394.27" text-anchor="end" class="itk">0.32</text>
<text x="108.40" y="388.43" text-anchor="end" class="itk">0.34</text>
<text x="108.40" y="382.60" text-anchor="end" class="itk">0.36</text>
<text x="108.40" y="376.77" text-anchor="end" class="itk">0.38</text>
<text x="108.40" y="370.93" text-anchor="end" class="itk">0.4</text>
<text x="108.40" y="365.10" text-anchor="end" class="itk">0.42</text>
<text x="108.40" y="359.27" text-anchor="end" class="itk">0.44</text>
<text x="108.40" y="353.43" text-anchor="end" class="itk">0.46</text>
<text x="108.40" y="347.60" text-anchor="end" class="itk">0.48</text>
<text x="109.00" y="402.20" text-anchor="middle" class="itk">-1</text>
<text x="125.88" y="402.20" text-anchor="middle" class="itk">-0.5</text>
<text x="142.75" y="402.20" text-anchor="middle" class="itk">0</text>
<text x="159.62" y="402.20" text-anchor="middle" class="itk">0.5</text>
<text x="176.50" y="402.20" text-anchor="middle" class="itk">1</text>
<text x="142.75" y="346.10" text-anchor="middle" class="ittl">Football</text>
<text transform="translate(102.40,374.55) rotate(-90)" text-anchor="middle" class="iyl">Precision</text>
<text x="142.75" y="406.50" text-anchor="middle" class="ibl">&#946;</text>
<path d="M109.00,399.30L112.38,399.30L115.75,399.30L119.12,399.30L122.50,399.30L125.88,399.30L129.25,399.30L132.62,399.30L136.00,399.30L139.38,399.30L142.75,399.30L146.12,398.87L149.50,398.68L152.88,398.88L156.25,398.58L159.62,398.46L163.00,398.63L166.38,398.62L169.75,398.59L173.12,398.79L176.50,398.71" fill="none" stroke="#5b3f9e" stroke-width="0.6"/>
<circle cx="109.00" cy="399.30" r="1.0" fill="#5b3f9e"/><circle cx="112.38" cy="399.30" r="1.0" fill="#5b3f9e"/><circle cx="115.75" cy="399.30" r="1.0" fill="#5b3f9e"/><circle cx="119.12" cy="399.30" r="1.0" fill="#5b3f9e"/><circle cx="122.50" cy="399.30" r="1.0" fill="#5b3f9e"/><circle cx="125.88" cy="399.30" r="1.0" fill="#5b3f9e"/><circle cx="129.25" cy="399.30" r="1.0" fill="#5b3f9e"/><circle cx="132.62" cy="399.30" r="1.0" fill="#5b3f9e"/><circle cx="136.00" cy="399.30" r="1.0" fill="#5b3f9e"/><circle cx="139.38" cy="399.30" r="1.0" fill="#5b3f9e"/><circle cx="142.75" cy="399.30" r="1.0" fill="#5b3f9e"/><circle cx="146.12" cy="398.87" r="1.0" fill="#5b3f9e"/><circle cx="149.50" cy="398.68" r="1.0" fill="#5b3f9e"/><circle cx="152.88" cy="398.88" r="1.0" fill="#5b3f9e"/><circle cx="156.25" cy="398.58" r="1.0" fill="#5b3f9e"/><circle cx="159.62" cy="398.46" r="1.0" fill="#5b3f9e"/><circle cx="163.00" cy="398.63" r="1.0" fill="#5b3f9e"/><circle cx="166.38" cy="398.62" r="1.0" fill="#5b3f9e"/><circle cx="169.75" cy="398.59" r="1.0" fill="#5b3f9e"/><circle cx="173.12" cy="398.79" r="1.0" fill="#5b3f9e"/><circle cx="176.50" cy="398.71" r="1.0" fill="#5b3f9e"/>
<path d="M109.00,353.02L112.38,355.19L115.75,348.68L119.12,355.91L122.50,354.47L125.88,349.40L129.25,358.80L132.62,372.54L136.00,389.90L139.38,398.58L142.75,399.30L146.12,398.61L149.50,398.58L152.88,398.71L156.25,398.66L159.62,398.73L163.00,398.62L166.38,398.56L169.75,398.74L173.12,398.56L176.50,398.48" fill="none" stroke="#cf1f2a" stroke-width="0.6"/>
<circle cx="109.00" cy="353.02" r="1.0" fill="#cf1f2a"/><circle cx="112.38" cy="355.19" r="1.0" fill="#cf1f2a"/><circle cx="115.75" cy="348.68" r="1.0" fill="#cf1f2a"/><circle cx="119.12" cy="355.91" r="1.0" fill="#cf1f2a"/><circle cx="122.50" cy="354.47" r="1.0" fill="#cf1f2a"/><circle cx="125.88" cy="349.40" r="1.0" fill="#cf1f2a"/><circle cx="129.25" cy="358.80" r="1.0" fill="#cf1f2a"/><circle cx="132.62" cy="372.54" r="1.0" fill="#cf1f2a"/><circle cx="136.00" cy="389.90" r="1.0" fill="#cf1f2a"/><circle cx="139.38" cy="398.58" r="1.0" fill="#cf1f2a"/><circle cx="142.75" cy="399.30" r="1.0" fill="#cf1f2a"/><circle cx="146.12" cy="398.61" r="1.0" fill="#cf1f2a"/><circle cx="149.50" cy="398.58" r="1.0" fill="#cf1f2a"/><circle cx="152.88" cy="398.71" r="1.0" fill="#cf1f2a"/><circle cx="156.25" cy="398.66" r="1.0" fill="#cf1f2a"/><circle cx="159.62" cy="398.73" r="1.0" fill="#cf1f2a"/><circle cx="163.00" cy="398.62" r="1.0" fill="#cf1f2a"/><circle cx="166.38" cy="398.56" r="1.0" fill="#cf1f2a"/><circle cx="169.75" cy="398.74" r="1.0" fill="#cf1f2a"/><circle cx="173.12" cy="398.56" r="1.0" fill="#cf1f2a"/><circle cx="176.50" cy="398.48" r="1.0" fill="#cf1f2a"/>
<path d="M109.00,354.47L112.38,355.91L115.75,352.30L119.12,356.63L122.50,355.91L125.88,352.30L129.25,357.36L132.62,360.97L136.00,392.79L139.38,398.87L142.75,399.30L146.12,398.63L149.50,398.41L152.88,398.75L156.25,398.44L159.62,398.81L163.00,398.72L166.38,398.49L169.75,398.88L173.12,398.59L176.50,398.46" fill="none" stroke="#2865bb" stroke-width="0.6"/>
<circle cx="109.00" cy="354.47" r="1.0" fill="#2865bb"/><circle cx="112.38" cy="355.91" r="1.0" fill="#2865bb"/><circle cx="115.75" cy="352.30" r="1.0" fill="#2865bb"/><circle cx="119.12" cy="356.63" r="1.0" fill="#2865bb"/><circle cx="122.50" cy="355.91" r="1.0" fill="#2865bb"/><circle cx="125.88" cy="352.30" r="1.0" fill="#2865bb"/><circle cx="129.25" cy="357.36" r="1.0" fill="#2865bb"/><circle cx="132.62" cy="360.97" r="1.0" fill="#2865bb"/><circle cx="136.00" cy="392.79" r="1.0" fill="#2865bb"/><circle cx="139.38" cy="398.87" r="1.0" fill="#2865bb"/><circle cx="142.75" cy="399.30" r="1.0" fill="#2865bb"/><circle cx="146.12" cy="398.63" r="1.0" fill="#2865bb"/><circle cx="149.50" cy="398.41" r="1.0" fill="#2865bb"/><circle cx="152.88" cy="398.75" r="1.0" fill="#2865bb"/><circle cx="156.25" cy="398.44" r="1.0" fill="#2865bb"/><circle cx="159.62" cy="398.81" r="1.0" fill="#2865bb"/><circle cx="163.00" cy="398.72" r="1.0" fill="#2865bb"/><circle cx="166.38" cy="398.49" r="1.0" fill="#2865bb"/><circle cx="169.75" cy="398.88" r="1.0" fill="#2865bb"/><circle cx="173.12" cy="398.59" r="1.0" fill="#2865bb"/><circle cx="176.50" cy="398.46" r="1.0" fill="#2865bb"/>
<path d="M109.00,359.53L112.38,356.63L115.75,356.63L119.12,357.36L122.50,357.36L125.88,356.63L129.25,355.91L132.62,355.19L136.00,354.47L139.38,381.22L142.75,399.30L146.12,398.43L149.50,398.56L152.88,398.73L156.25,398.73L159.62,398.58L163.00,398.87L166.38,398.89L169.75,398.46L173.12,398.59L176.50,398.82" fill="none" stroke="#e07b2a" stroke-width="0.6"/>
<circle cx="109.00" cy="359.53" r="1.0" fill="#e07b2a"/><circle cx="112.38" cy="356.63" r="1.0" fill="#e07b2a"/><circle cx="115.75" cy="356.63" r="1.0" fill="#e07b2a"/><circle cx="119.12" cy="357.36" r="1.0" fill="#e07b2a"/><circle cx="122.50" cy="357.36" r="1.0" fill="#e07b2a"/><circle cx="125.88" cy="356.63" r="1.0" fill="#e07b2a"/><circle cx="129.25" cy="355.91" r="1.0" fill="#e07b2a"/><circle cx="132.62" cy="355.19" r="1.0" fill="#e07b2a"/><circle cx="136.00" cy="354.47" r="1.0" fill="#e07b2a"/><circle cx="139.38" cy="381.22" r="1.0" fill="#e07b2a"/><circle cx="142.75" cy="399.30" r="1.0" fill="#e07b2a"/><circle cx="146.12" cy="398.43" r="1.0" fill="#e07b2a"/><circle cx="149.50" cy="398.56" r="1.0" fill="#e07b2a"/><circle cx="152.88" cy="398.73" r="1.0" fill="#e07b2a"/><circle cx="156.25" cy="398.73" r="1.0" fill="#e07b2a"/><circle cx="159.62" cy="398.58" r="1.0" fill="#e07b2a"/><circle cx="163.00" cy="398.87" r="1.0" fill="#e07b2a"/><circle cx="166.38" cy="398.89" r="1.0" fill="#e07b2a"/><circle cx="169.75" cy="398.46" r="1.0" fill="#e07b2a"/><circle cx="173.12" cy="398.59" r="1.0" fill="#e07b2a"/><circle cx="176.50" cy="398.82" r="1.0" fill="#e07b2a"/>
<path d="M109.00,363.87L112.38,358.08L115.75,360.97L119.12,360.25L122.50,360.97L125.88,366.04L129.25,360.97L132.62,358.08L136.00,355.91L139.38,371.10L142.75,399.30L146.12,398.69L149.50,398.76L152.88,398.47L156.25,398.76L159.62,398.54L163.00,398.53L166.38,398.74L169.75,398.77L173.12,398.64L176.50,398.70" fill="none" stroke="#2e9440" stroke-width="0.6"/>
<circle cx="109.00" cy="363.87" r="1.0" fill="#2e9440"/><circle cx="112.38" cy="358.08" r="1.0" fill="#2e9440"/><circle cx="115.75" cy="360.97" r="1.0" fill="#2e9440"/><circle cx="119.12" cy="360.25" r="1.0" fill="#2e9440"/><circle cx="122.50" cy="360.97" r="1.0" fill="#2e9440"/><circle cx="125.88" cy="366.04" r="1.0" fill="#2e9440"/><circle cx="129.25" cy="360.97" r="1.0" fill="#2e9440"/><circle cx="132.62" cy="358.08" r="1.0" fill="#2e9440"/><circle cx="136.00" cy="355.91" r="1.0" fill="#2e9440"/><circle cx="139.38" cy="371.10" r="1.0" fill="#2e9440"/><circle cx="142.75" cy="399.30" r="1.0" fill="#2e9440"/><circle cx="146.12" cy="398.69" r="1.0" fill="#2e9440"/><circle cx="149.50" cy="398.76" r="1.0" fill="#2e9440"/><circle cx="152.88" cy="398.47" r="1.0" fill="#2e9440"/><circle cx="156.25" cy="398.76" r="1.0" fill="#2e9440"/><circle cx="159.62" cy="398.54" r="1.0" fill="#2e9440"/><circle cx="163.00" cy="398.53" r="1.0" fill="#2e9440"/><circle cx="166.38" cy="398.74" r="1.0" fill="#2e9440"/><circle cx="169.75" cy="398.77" r="1.0" fill="#2e9440"/><circle cx="173.12" cy="398.64" r="1.0" fill="#2e9440"/><circle cx="176.50" cy="398.70" r="1.0" fill="#2e9440"/>
<path d="M109.00,364.59L112.38,366.76L115.75,367.48L119.12,362.42L122.50,362.42L125.88,362.42L129.25,363.14L132.62,362.42L136.00,358.80L139.38,363.14L142.75,399.30L146.12,398.60L149.50,398.74L152.88,398.50L156.25,398.69L159.62,398.83L163.00,398.51L166.38,398.45L169.75,398.56L173.12,398.63L176.50,398.46" fill="none" stroke="#3c3c3c" stroke-width="0.6"/>
<circle cx="109.00" cy="364.59" r="1.0" fill="#3c3c3c"/><circle cx="112.38" cy="366.76" r="1.0" fill="#3c3c3c"/><circle cx="115.75" cy="367.48" r="1.0" fill="#3c3c3c"/><circle cx="119.12" cy="362.42" r="1.0" fill="#3c3c3c"/><circle cx="122.50" cy="362.42" r="1.0" fill="#3c3c3c"/><circle cx="125.88" cy="362.42" r="1.0" fill="#3c3c3c"/><circle cx="129.25" cy="363.14" r="1.0" fill="#3c3c3c"/><circle cx="132.62" cy="362.42" r="1.0" fill="#3c3c3c"/><circle cx="136.00" cy="358.80" r="1.0" fill="#3c3c3c"/><circle cx="139.38" cy="363.14" r="1.0" fill="#3c3c3c"/><circle cx="142.75" cy="399.30" r="1.0" fill="#3c3c3c"/><circle cx="146.12" cy="398.60" r="1.0" fill="#3c3c3c"/><circle cx="149.50" cy="398.74" r="1.0" fill="#3c3c3c"/><circle cx="152.88" cy="398.50" r="1.0" fill="#3c3c3c"/><circle cx="156.25" cy="398.69" r="1.0" fill="#3c3c3c"/><circle cx="159.62" cy="398.83" r="1.0" fill="#3c3c3c"/><circle cx="163.00" cy="398.51" r="1.0" fill="#3c3c3c"/><circle cx="166.38" cy="398.45" r="1.0" fill="#3c3c3c"/><circle cx="169.75" cy="398.56" r="1.0" fill="#3c3c3c"/><circle cx="173.12" cy="398.63" r="1.0" fill="#3c3c3c"/><circle cx="176.50" cy="398.46" r="1.0" fill="#3c3c3c"/>
<text transform="translate(201.60,434.80) scale(1,1.12)" text-anchor="end" class="tk">0.3</text>
<text transform="translate(201.60,414.45) scale(1,1.12)" text-anchor="end" class="tk">0.32</text>
<path d="M203.50,412.25h1.6M358.30,412.25h-1.6" stroke="#cccccc" stroke-width="0.6"/>
<text transform="translate(201.60,394.10) scale(1,1.12)" text-anchor="end" class="tk">0.34</text>
<path d="M203.50,391.90h1.6M358.30,391.90h-1.6" stroke="#cccccc" stroke-width="0.6"/>
<text transform="translate(201.60,373.75) scale(1,1.12)" text-anchor="end" class="tk">0.36</text>
<path d="M203.50,371.55h1.6M358.30,371.55h-1.6" stroke="#cccccc" stroke-width="0.6"/>
<text transform="translate(201.60,353.40) scale(1,1.12)" text-anchor="end" class="tk">0.38</text>
<path d="M203.50,351.20h1.6M358.30,351.20h-1.6" stroke="#cccccc" stroke-width="0.6"/>
<text transform="translate(201.60,333.05) scale(1,1.12)" text-anchor="end" class="tk">0.4</text>
<path d="M203.50,330.85h1.6M358.30,330.85h-1.6" stroke="#cccccc" stroke-width="0.6"/>
<text transform="translate(201.60,312.70) scale(1,1.12)" text-anchor="end" class="tk">0.42</text>
<text transform="translate(203.50,440.30) scale(1,1.12)" text-anchor="middle" class="tk">-10</text>
<text transform="translate(242.20,440.30) scale(1,1.12)" text-anchor="middle" class="tk">-5</text>
<path d="M242.20,432.60v-1.6M242.20,310.50v1.6" stroke="#cccccc" stroke-width="0.6"/>
<text transform="translate(280.90,440.30) scale(1,1.12)" text-anchor="middle" class="tk">0</text>
<path d="M280.90,432.60v-1.6M280.90,310.50v1.6" stroke="#cccccc" stroke-width="0.6"/>
<text transform="translate(319.60,440.30) scale(1,1.12)" text-anchor="middle" class="tk">5</text>
<path d="M319.60,432.60v-1.6M319.60,310.50v1.6" stroke="#cccccc" stroke-width="0.6"/>
<text transform="translate(358.30,440.30) scale(1,1.12)" text-anchor="middle" class="tk">10</text>
<rect x="203.50" y="310.50" width="154.80" height="122.10" fill="none" stroke="#cccccc" stroke-width="1.0"/>
<text x="280.90" y="307.90" text-anchor="middle" class="ttl">Jazz</text>
<text transform="translate(344.50,325.75) scale(1.12,1)" text-anchor="middle" class="let">(h)</text>
<text transform="translate(188.30,371.55) rotate(-90)" text-anchor="middle" class="yl">Precision</text>
<text x="280.90" y="447.60" text-anchor="middle" class="bl">&#946;</text>
<path d="M203.50,431.80L211.24,432.30L218.98,432.30L226.72,432.30L234.46,432.30L242.20,432.30L249.94,432.30L257.68,432.30L265.42,432.30L273.16,432.30L280.90,431.15L288.64,431.25L296.38,431.42L304.12,432.03L311.86,431.90L319.60,431.44L327.34,431.33L335.08,432.28L342.82,432.10L350.56,431.23L358.30,432.16" fill="none" stroke="#5b3f9e" stroke-width="1.0" stroke-linejoin="round"/>
<path d="M203.50,429.20L205.80,431.80L203.50,434.40L201.20,431.80Z" fill="none" stroke="#5b3f9e" stroke-width="0.95"/><path d="M211.24,429.70L213.54,432.30L211.24,434.90L208.94,432.30Z" fill="none" stroke="#5b3f9e" stroke-width="0.95"/><path d="M218.98,429.70L221.28,432.30L218.98,434.90L216.68,432.30Z" fill="none" stroke="#5b3f9e" stroke-width="0.95"/><path d="M226.72,429.70L229.02,432.30L226.72,434.90L224.42,432.30Z" fill="none" stroke="#5b3f9e" stroke-width="0.95"/><path d="M234.46,429.70L236.76,432.30L234.46,434.90L232.16,432.30Z" fill="none" stroke="#5b3f9e" stroke-width="0.95"/><path d="M242.20,429.70L244.50,432.30L242.20,434.90L239.90,432.30Z" fill="none" stroke="#5b3f9e" stroke-width="0.95"/><path d="M249.94,429.70L252.24,432.30L249.94,434.90L247.64,432.30Z" fill="none" stroke="#5b3f9e" stroke-width="0.95"/><path d="M257.68,429.70L259.98,432.30L257.68,434.90L255.38,432.30Z" fill="none" stroke="#5b3f9e" stroke-width="0.95"/><path d="M265.42,429.70L267.72,432.30L265.42,434.90L263.12,432.30Z" fill="none" stroke="#5b3f9e" stroke-width="0.95"/><path d="M273.16,429.70L275.46,432.30L273.16,434.90L270.86,432.30Z" fill="none" stroke="#5b3f9e" stroke-width="0.95"/><path d="M280.90,428.55L283.20,431.15L280.90,433.75L278.60,431.15Z" fill="none" stroke="#5b3f9e" stroke-width="0.95"/><path d="M288.64,428.65L290.94,431.25L288.64,433.85L286.34,431.25Z" fill="none" stroke="#5b3f9e" stroke-width="0.95"/><path d="M296.38,428.82L298.68,431.42L296.38,434.02L294.08,431.42Z" fill="none" stroke="#5b3f9e" stroke-width="0.95"/><path d="M304.12,429.43L306.42,432.03L304.12,434.63L301.82,432.03Z" fill="none" stroke="#5b3f9e" stroke-width="0.95"/><path d="M311.86,429.30L314.16,431.90L311.86,434.50L309.56,431.90Z" fill="none" stroke="#5b3f9e" stroke-width="0.95"/><path d="M319.60,428.84L321.90,431.44L319.60,434.04L317.30,431.44Z" fill="none" stroke="#5b3f9e" stroke-width="0.95"/><path d="M327.34,428.73L329.64,431.33L327.34,433.93L325.04,431.33Z" fill="none" stroke="#5b3f9e" stroke-width="0.95"/><path d="M335.08,429.68L337.38,432.28L335.08,434.88L332.78,432.28Z" fill="none" stroke="#5b3f9e" stroke-width="0.95"/><path d="M342.82,429.50L345.12,432.10L342.82,434.70L340.52,432.10Z" fill="none" stroke="#5b3f9e" stroke-width="0.95"/><path d="M350.56,428.63L352.86,431.23L350.56,433.83L348.26,431.23Z" fill="none" stroke="#5b3f9e" stroke-width="0.95"/><path d="M358.30,429.56L360.60,432.16L358.30,434.76L356.00,432.16Z" fill="none" stroke="#5b3f9e" stroke-width="0.95"/>
<path d="M203.50,331.66L211.24,329.63L218.98,343.98L226.72,329.02L234.46,322.51L242.20,321.08L249.94,330.44L257.68,317.11L265.42,330.44L273.16,314.06L280.90,430.52L288.64,431.11L296.38,430.54L304.12,430.15L311.86,430.65L319.60,431.00L327.34,431.12L335.08,430.58L342.82,430.57L350.56,430.96L358.30,430.86" fill="none" stroke="#cf1f2a" stroke-width="1.0" stroke-linejoin="round"/>
<polygon points="203.50,328.76 204.29,330.87 206.54,330.98 204.78,332.38 205.38,334.55 203.50,333.31 201.62,334.55 202.22,332.38 200.46,330.98 202.71,330.87" fill="#cf1f2a" stroke="#cf1f2a" stroke-width="0.3"/><polygon points="211.24,326.73 212.03,328.84 214.28,328.94 212.52,330.35 213.12,332.52 211.24,331.28 209.36,332.52 209.96,330.35 208.20,328.94 210.45,328.84" fill="#cf1f2a" stroke="#cf1f2a" stroke-width="0.3"/><polygon points="218.98,341.08 219.77,343.18 222.02,343.29 220.26,344.69 220.86,346.86 218.98,345.63 217.10,346.86 217.70,344.69 215.94,343.29 218.19,343.18" fill="#cf1f2a" stroke="#cf1f2a" stroke-width="0.3"/><polygon points="226.72,326.12 227.51,328.23 229.76,328.33 228.00,329.74 228.60,331.91 226.72,330.67 224.84,331.91 225.44,329.74 223.68,328.33 225.93,328.23" fill="#cf1f2a" stroke="#cf1f2a" stroke-width="0.3"/><polygon points="234.46,319.61 235.25,321.71 237.50,321.82 235.74,323.22 236.34,325.40 234.46,324.16 232.58,325.40 233.18,323.22 231.42,321.82 233.67,321.71" fill="#cf1f2a" stroke="#cf1f2a" stroke-width="0.3"/><polygon points="242.20,318.18 242.99,320.29 245.24,320.39 243.48,321.80 244.08,323.97 242.20,322.73 240.32,323.97 240.92,321.80 239.16,320.39 241.41,320.29" fill="#cf1f2a" stroke="#cf1f2a" stroke-width="0.3"/><polygon points="249.94,327.54 250.73,329.65 252.98,329.75 251.22,331.16 251.82,333.33 249.94,332.09 248.06,333.33 248.66,331.16 246.90,329.75 249.15,329.65" fill="#cf1f2a" stroke="#cf1f2a" stroke-width="0.3"/><polygon points="257.68,314.21 258.47,316.32 260.72,316.42 258.96,317.83 259.56,320.00 257.68,318.76 255.80,320.00 256.40,317.83 254.64,316.42 256.89,316.32" fill="#cf1f2a" stroke="#cf1f2a" stroke-width="0.3"/><polygon points="265.42,327.54 266.21,329.65 268.46,329.75 266.70,331.16 267.30,333.33 265.42,332.09 263.54,333.33 264.14,331.16 262.38,329.75 264.63,329.65" fill="#cf1f2a" stroke="#cf1f2a" stroke-width="0.3"/><polygon points="273.16,311.16 273.95,313.27 276.20,313.37 274.44,314.78 275.04,316.95 273.16,315.71 271.28,316.95 271.88,314.78 270.12,313.37 272.37,313.27" fill="#cf1f2a" stroke="#cf1f2a" stroke-width="0.3"/><polygon points="280.90,427.62 281.69,429.73 283.94,429.83 282.18,431.24 282.78,433.41 280.90,432.17 279.02,433.41 279.62,431.24 277.86,429.83 280.11,429.73" fill="#cf1f2a" stroke="#cf1f2a" stroke-width="0.3"/><polygon points="288.64,428.21 289.43,430.31 291.68,430.42 289.92,431.82 290.52,434.00 288.64,432.76 286.76,434.00 287.36,431.82 285.60,430.42 287.85,430.31" fill="#cf1f2a" stroke="#cf1f2a" stroke-width="0.3"/><polygon points="296.38,427.64 297.17,429.75 299.42,429.85 297.66,431.26 298.26,433.43 296.38,432.19 294.50,433.43 295.10,431.26 293.34,429.85 295.59,429.75" fill="#cf1f2a" stroke="#cf1f2a" stroke-width="0.3"/><polygon points="304.12,427.25 304.91,429.36 307.16,429.46 305.40,430.87 306.00,433.04 304.12,431.80 302.24,433.04 302.84,430.87 301.08,429.46 303.33,429.36" fill="#cf1f2a" stroke="#cf1f2a" stroke-width="0.3"/><polygon points="311.86,427.75 312.65,429.86 314.90,429.96 313.14,431.37 313.74,433.54 311.86,432.30 309.98,433.54 310.58,431.37 308.82,429.96 311.07,429.86" fill="#cf1f2a" stroke="#cf1f2a" stroke-width="0.3"/><polygon points="319.60,428.10 320.39,430.20 322.64,430.31 320.88,431.71 321.48,433.88 319.60,432.65 317.72,433.88 318.32,431.71 316.56,430.31 318.81,430.20" fill="#cf1f2a" stroke="#cf1f2a" stroke-width="0.3"/><polygon points="327.34,428.22 328.13,430.33 330.38,430.43 328.62,431.84 329.22,434.01 327.34,432.77 325.46,434.01 326.06,431.84 324.30,430.43 326.55,430.33" fill="#cf1f2a" stroke="#cf1f2a" stroke-width="0.3"/><polygon points="335.08,427.68 335.87,429.79 338.12,429.89 336.36,431.30 336.96,433.47 335.08,432.23 333.20,433.47 333.80,431.30 332.04,429.89 334.29,429.79" fill="#cf1f2a" stroke="#cf1f2a" stroke-width="0.3"/><polygon points="342.82,427.67 343.61,429.78 345.86,429.88 344.10,431.29 344.70,433.46 342.82,432.22 340.94,433.46 341.54,431.29 339.78,429.88 342.03,429.78" fill="#cf1f2a" stroke="#cf1f2a" stroke-width="0.3"/><polygon points="350.56,428.06 351.35,430.17 353.60,430.27 351.84,431.68 352.44,433.85 350.56,432.61 348.68,433.85 349.28,431.68 347.52,430.27 349.77,430.17" fill="#cf1f2a" stroke="#cf1f2a" stroke-width="0.3"/><polygon points="358.30,427.96 359.09,430.07 361.34,430.17 359.58,431.58 360.18,433.75 358.30,432.51 356.42,433.75 357.02,431.58 355.26,430.17 357.51,430.07" fill="#cf1f2a" stroke="#cf1f2a" stroke-width="0.3"/>
<path d="M203.50,338.48L211.24,345.60L218.98,352.42L226.72,336.45L234.46,343.57L242.20,342.04L249.94,335.02L257.68,330.44L265.42,337.06L273.16,328.10L280.90,430.73L288.64,431.23L296.38,431.38L304.12,430.68L311.86,431.52L319.60,430.62L327.34,430.26L335.08,430.21L342.82,431.25L350.56,430.95L358.30,430.04" fill="none" stroke="#2865bb" stroke-width="1.0" stroke-linejoin="round"/>
<circle cx="203.50" cy="338.48" r="2.55" fill="none" stroke="#2865bb" stroke-width="0.95"/><circle cx="211.24" cy="345.60" r="2.55" fill="none" stroke="#2865bb" stroke-width="0.95"/><circle cx="218.98" cy="352.42" r="2.55" fill="none" stroke="#2865bb" stroke-width="0.95"/><circle cx="226.72" cy="336.45" r="2.55" fill="none" stroke="#2865bb" stroke-width="0.95"/><circle cx="234.46" cy="343.57" r="2.55" fill="none" stroke="#2865bb" stroke-width="0.95"/><circle cx="242.20" cy="342.04" r="2.55" fill="none" stroke="#2865bb" stroke-width="0.95"/><circle cx="249.94" cy="335.02" r="2.55" fill="none" stroke="#2865bb" stroke-width="0.95"/><circle cx="257.68" cy="330.44" r="2.55" fill="none" stroke="#2865bb" stroke-width="0.95"/><circle cx="265.42" cy="337.06" r="2.55" fill="none" stroke="#2865bb" stroke-width="0.95"/><circle cx="273.16" cy="328.10" r="2.55" fill="none" stroke="#2865bb" stroke-width="0.95"/><circle cx="280.90" cy="430.73" r="2.55" fill="none" stroke="#2865bb" stroke-width="0.95"/><circle cx="288.64" cy="431.23" r="2.55" fill="none" stroke="#2865bb" stroke-width="0.95"/><circle cx="296.38" cy="431.38" r="2.55" fill="none" stroke="#2865bb" stroke-width="0.95"/><circle cx="304.12" cy="430.68" r="2.55" fill="none" stroke="#2865bb" stroke-width="0.95"/><circle cx="311.86" cy="431.52" r="2.55" fill="none" stroke="#2865bb" stroke-width="0.95"/><circle cx="319.60" cy="430.62" r="2.55" fill="none" stroke="#2865bb" stroke-width="0.95"/><circle cx="327.34" cy="430.26" r="2.55" fill="none" stroke="#2865bb" stroke-width="0.95"/><circle cx="335.08" cy="430.21" r="2.55" fill="none" stroke="#2865bb" stroke-width="0.95"/><circle cx="342.82" cy="431.25" r="2.55" fill="none" stroke="#2865bb" stroke-width="0.95"/><circle cx="350.56" cy="430.95" r="2.55" fill="none" stroke="#2865bb" stroke-width="0.95"/><circle cx="358.30" cy="430.04" r="2.55" fill="none" stroke="#2865bb" stroke-width="0.95"/>
<path d="M203.50,341.43L211.24,338.99L218.98,343.06L226.72,342.45L234.46,346.01L242.20,348.05L249.94,341.02L257.68,360.97L265.42,337.67L273.16,343.06L280.90,431.07L288.64,429.92L296.38,431.34L304.12,430.19L311.86,431.63L319.60,430.50L327.34,430.25L335.08,430.71L342.82,430.56L350.56,430.06L358.30,429.91" fill="none" stroke="#e07b2a" stroke-width="1.0" stroke-linejoin="round"/>
<rect x="201.20" y="339.13" width="4.60" height="4.60" fill="none" stroke="#e07b2a" stroke-width="0.95"/><rect x="208.94" y="336.69" width="4.60" height="4.60" fill="none" stroke="#e07b2a" stroke-width="0.95"/><rect x="216.68" y="340.76" width="4.60" height="4.60" fill="none" stroke="#e07b2a" stroke-width="0.95"/><rect x="224.42" y="340.15" width="4.60" height="4.60" fill="none" stroke="#e07b2a" stroke-width="0.95"/><rect x="232.16" y="343.71" width="4.60" height="4.60" fill="none" stroke="#e07b2a" stroke-width="0.95"/><rect x="239.90" y="345.75" width="4.60" height="4.60" fill="none" stroke="#e07b2a" stroke-width="0.95"/><rect x="247.64" y="338.72" width="4.60" height="4.60" fill="none" stroke="#e07b2a" stroke-width="0.95"/><rect x="255.38" y="358.67" width="4.60" height="4.60" fill="none" stroke="#e07b2a" stroke-width="0.95"/><rect x="263.12" y="335.37" width="4.60" height="4.60" fill="none" stroke="#e07b2a" stroke-width="0.95"/><rect x="270.86" y="340.76" width="4.60" height="4.60" fill="none" stroke="#e07b2a" stroke-width="0.95"/><rect x="278.60" y="428.77" width="4.60" height="4.60" fill="none" stroke="#e07b2a" stroke-width="0.95"/><rect x="286.34" y="427.62" width="4.60" height="4.60" fill="none" stroke="#e07b2a" stroke-width="0.95"/><rect x="294.08" y="429.04" width="4.60" height="4.60" fill="none" stroke="#e07b2a" stroke-width="0.95"/><rect x="301.82" y="427.89" width="4.60" height="4.60" fill="none" stroke="#e07b2a" stroke-width="0.95"/><rect x="309.56" y="429.33" width="4.60" height="4.60" fill="none" stroke="#e07b2a" stroke-width="0.95"/><rect x="317.30" y="428.20" width="4.60" height="4.60" fill="none" stroke="#e07b2a" stroke-width="0.95"/><rect x="325.04" y="427.95" width="4.60" height="4.60" fill="none" stroke="#e07b2a" stroke-width="0.95"/><rect x="332.78" y="428.41" width="4.60" height="4.60" fill="none" stroke="#e07b2a" stroke-width="0.95"/><rect x="340.52" y="428.26" width="4.60" height="4.60" fill="none" stroke="#e07b2a" stroke-width="0.95"/><rect x="348.26" y="427.76" width="4.60" height="4.60" fill="none" stroke="#e07b2a" stroke-width="0.95"/><rect x="356.00" y="427.61" width="4.60" height="4.60" fill="none" stroke="#e07b2a" stroke-width="0.95"/>
<path d="M203.50,352.01L211.24,338.58L218.98,338.07L226.72,343.98L234.46,348.05L242.20,336.04L249.94,348.05L257.68,342.04L265.42,352.62L273.16,336.04L280.90,431.38L288.64,430.76L296.38,431.63L304.12,431.02L311.86,431.44L319.60,431.41L327.34,430.58L335.08,431.55L342.82,431.42L350.56,431.68L358.30,430.24" fill="none" stroke="#2e9440" stroke-width="1.0" stroke-linejoin="round"/>
<path d="M205.90,352.01L201.10,349.51L201.10,354.51Z" fill="none" stroke="#2e9440" stroke-width="0.95"/><path d="M213.64,338.58L208.84,336.08L208.84,341.08Z" fill="none" stroke="#2e9440" stroke-width="0.95"/><path d="M221.38,338.07L216.58,335.57L216.58,340.57Z" fill="none" stroke="#2e9440" stroke-width="0.95"/><path d="M229.12,343.98L224.32,341.48L224.32,346.48Z" fill="none" stroke="#2e9440" stroke-width="0.95"/><path d="M236.86,348.05L232.06,345.55L232.06,350.55Z" fill="none" stroke="#2e9440" stroke-width="0.95"/><path d="M244.60,336.04L239.80,333.54L239.80,338.54Z" fill="none" stroke="#2e9440" stroke-width="0.95"/><path d="M252.34,348.05L247.54,345.55L247.54,350.55Z" fill="none" stroke="#2e9440" stroke-width="0.95"/><path d="M260.08,342.04L255.28,339.54L255.28,344.54Z" fill="none" stroke="#2e9440" stroke-width="0.95"/><path d="M267.82,352.62L263.02,350.12L263.02,355.12Z" fill="none" stroke="#2e9440" stroke-width="0.95"/><path d="M275.56,336.04L270.76,333.54L270.76,338.54Z" fill="none" stroke="#2e9440" stroke-width="0.95"/><path d="M283.30,431.38L278.50,428.88L278.50,433.88Z" fill="none" stroke="#2e9440" stroke-width="0.95"/><path d="M291.04,430.76L286.24,428.26L286.24,433.26Z" fill="none" stroke="#2e9440" stroke-width="0.95"/><path d="M298.78,431.63L293.98,429.13L293.98,434.13Z" fill="none" stroke="#2e9440" stroke-width="0.95"/><path d="M306.52,431.02L301.72,428.52L301.72,433.52Z" fill="none" stroke="#2e9440" stroke-width="0.95"/><path d="M314.26,431.44L309.46,428.94L309.46,433.94Z" fill="none" stroke="#2e9440" stroke-width="0.95"/><path d="M322.00,431.41L317.20,428.91L317.20,433.91Z" fill="none" stroke="#2e9440" stroke-width="0.95"/><path d="M329.74,430.58L324.94,428.08L324.94,433.08Z" fill="none" stroke="#2e9440" stroke-width="0.95"/><path d="M337.48,431.55L332.68,429.05L332.68,434.05Z" fill="none" stroke="#2e9440" stroke-width="0.95"/><path d="M345.22,431.42L340.42,428.92L340.42,433.92Z" fill="none" stroke="#2e9440" stroke-width="0.95"/><path d="M352.96,431.68L348.16,429.18L348.16,434.18Z" fill="none" stroke="#2e9440" stroke-width="0.95"/><path d="M360.70,430.24L355.90,427.74L355.90,432.74Z" fill="none" stroke="#2e9440" stroke-width="0.95"/>
<path d="M203.50,348.96L211.24,346.42L218.98,347.64L226.72,351.61L234.46,343.06L242.20,351.00L249.94,342.04L257.68,348.05L265.42,344.99L273.16,338.99L280.90,431.26L288.64,431.57L296.38,430.58L304.12,430.41L311.86,430.57L319.60,430.71L327.34,430.74L335.08,430.40L342.82,431.14L350.56,430.18L358.30,430.45" fill="none" stroke="#3c3c3c" stroke-width="1.0" stroke-linejoin="round"/>
<path d="M201.10,348.96L205.90,346.46L205.90,351.46Z" fill="none" stroke="#3c3c3c" stroke-width="0.95"/><path d="M208.84,346.42L213.64,343.92L213.64,348.92Z" fill="none" stroke="#3c3c3c" stroke-width="0.95"/><path d="M216.58,347.64L221.38,345.14L221.38,350.14Z" fill="none" stroke="#3c3c3c" stroke-width="0.95"/><path d="M224.32,351.61L229.12,349.11L229.12,354.11Z" fill="none" stroke="#3c3c3c" stroke-width="0.95"/><path d="M232.06,343.06L236.86,340.56L236.86,345.56Z" fill="none" stroke="#3c3c3c" stroke-width="0.95"/><path d="M239.80,351.00L244.60,348.50L244.60,353.50Z" fill="none" stroke="#3c3c3c" stroke-width="0.95"/><path d="M247.54,342.04L252.34,339.54L252.34,344.54Z" fill="none" stroke="#3c3c3c" stroke-width="0.95"/><path d="M255.28,348.05L260.08,345.55L260.08,350.55Z" fill="none" stroke="#3c3c3c" stroke-width="0.95"/><path d="M263.02,344.99L267.82,342.49L267.82,347.49Z" fill="none" stroke="#3c3c3c" stroke-width="0.95"/><path d="M270.76,338.99L275.56,336.49L275.56,341.49Z" fill="none" stroke="#3c3c3c" stroke-width="0.95"/><path d="M278.50,431.26L283.30,428.76L283.30,433.76Z" fill="none" stroke="#3c3c3c" stroke-width="0.95"/><path d="M286.24,431.57L291.04,429.07L291.04,434.07Z" fill="none" stroke="#3c3c3c" stroke-width="0.95"/><path d="M293.98,430.58L298.78,428.08L298.78,433.08Z" fill="none" stroke="#3c3c3c" stroke-width="0.95"/><path d="M301.72,430.41L306.52,427.91L306.52,432.91Z" fill="none" stroke="#3c3c3c" stroke-width="0.95"/><path d="M309.46,430.57L314.26,428.07L314.26,433.07Z" fill="none" stroke="#3c3c3c" stroke-width="0.95"/><path d="M317.20,430.71L322.00,428.21L322.00,433.21Z" fill="none" stroke="#3c3c3c" stroke-width="0.95"/><path d="M324.94,430.74L329.74,428.24L329.74,433.24Z" fill="none" stroke="#3c3c3c" stroke-width="0.95"/><path d="M332.68,430.40L337.48,427.90L337.48,432.90Z" fill="none" stroke="#3c3c3c" stroke-width="0.95"/><path d="M340.42,431.14L345.22,428.64L345.22,433.64Z" fill="none" stroke="#3c3c3c" stroke-width="0.95"/><path d="M348.16,430.18L352.96,427.68L352.96,432.68Z" fill="none" stroke="#3c3c3c" stroke-width="0.95"/><path d="M355.90,430.45L360.70,427.95L360.70,432.95Z" fill="none" stroke="#3c3c3c" stroke-width="0.95"/>
<rect x="291.50" y="346.80" width="66.80" height="52.50" fill="#fff" stroke="#cccccc" stroke-width="0.6"/>
<text x="290.90" y="400.10" text-anchor="end" class="itk">0.3</text>
<text x="290.90" y="391.35" text-anchor="end" class="itk">0.32</text>
<text x="290.90" y="382.60" text-anchor="end" class="itk">0.34</text>
<text x="290.90" y="373.85" text-anchor="end" class="itk">0.36</text>
<text x="290.90" y="365.10" text-anchor="end" class="itk">0.38</text>
<text x="290.90" y="356.35" text-anchor="end" class="itk">0.4</text>
<text x="290.90" y="347.60" text-anchor="end" class="itk">0.42</text>
<text x="291.50" y="402.20" text-anchor="middle" class="itk">-1</text>
<text x="308.20" y="402.20" text-anchor="middle" class="itk">-0.5</text>
<text x="324.90" y="402.20" text-anchor="middle" class="itk">0</text>
<text x="341.60" y="402.20" text-anchor="middle" class="itk">0.5</text>
<text x="358.30" y="402.20" text-anchor="middle" class="itk">1</text>
<text x="324.90" y="346.10" text-anchor="middle" class="ittl">Jazz</text>
<text transform="translate(284.90,374.55) rotate(-90)" text-anchor="middle" class="iyl">Precision</text>
<text x="324.90" y="406.50" text-anchor="middle" class="ibl">&#946;</text>
<path d="M291.50,399.30L294.84,399.30L298.18,399.30L301.52,399.30L304.86,399.30L308.20,399.30L311.54,399.30L314.88,399.30L318.22,399.30L321.56,399.30L324.90,399.30L328.24,398.47L331.58,398.45L334.92,398.48L338.26,398.64L341.60,398.64L344.94,398.53L348.28,398.61L351.62,398.89L354.96,398.44L358.30,398.80" fill="none" stroke="#5b3f9e" stroke-width="0.6"/>
<circle cx="291.50" cy="399.30" r="1.0" fill="#5b3f9e"/><circle cx="294.84" cy="399.30" r="1.0" fill="#5b3f9e"/><circle cx="298.18" cy="399.30" r="1.0" fill="#5b3f9e"/><circle cx="301.52" cy="399.30" r="1.0" fill="#5b3f9e"/><circle cx="304.86" cy="399.30" r="1.0" fill="#5b3f9e"/><circle cx="308.20" cy="399.30" r="1.0" fill="#5b3f9e"/><circle cx="311.54" cy="399.30" r="1.0" fill="#5b3f9e"/><circle cx="314.88" cy="399.30" r="1.0" fill="#5b3f9e"/><circle cx="318.22" cy="399.30" r="1.0" fill="#5b3f9e"/><circle cx="321.56" cy="399.30" r="1.0" fill="#5b3f9e"/><circle cx="324.90" cy="399.30" r="1.0" fill="#5b3f9e"/><circle cx="328.24" cy="398.47" r="1.0" fill="#5b3f9e"/><circle cx="331.58" cy="398.45" r="1.0" fill="#5b3f9e"/><circle cx="334.92" cy="398.48" r="1.0" fill="#5b3f9e"/><circle cx="338.26" cy="398.64" r="1.0" fill="#5b3f9e"/><circle cx="341.60" cy="398.64" r="1.0" fill="#5b3f9e"/><circle cx="344.94" cy="398.53" r="1.0" fill="#5b3f9e"/><circle cx="348.28" cy="398.61" r="1.0" fill="#5b3f9e"/><circle cx="351.62" cy="398.89" r="1.0" fill="#5b3f9e"/><circle cx="354.96" cy="398.44" r="1.0" fill="#5b3f9e"/><circle cx="358.30" cy="398.80" r="1.0" fill="#5b3f9e"/>
<path d="M291.50,352.67L294.84,351.20L298.18,349.73L301.52,354.87L304.86,360.73L308.20,375.40L311.54,389.33L314.88,397.69L318.22,398.13L321.56,398.86L324.90,399.30L328.24,398.66L331.58,398.67L334.92,398.85L338.26,398.61L341.60,398.60L344.94,398.49L348.28,398.59L351.62,398.75L354.96,398.62L358.30,398.42" fill="none" stroke="#cf1f2a" stroke-width="0.6"/>
<circle cx="291.50" cy="352.67" r="1.0" fill="#cf1f2a"/><circle cx="294.84" cy="351.20" r="1.0" fill="#cf1f2a"/><circle cx="298.18" cy="349.73" r="1.0" fill="#cf1f2a"/><circle cx="301.52" cy="354.87" r="1.0" fill="#cf1f2a"/><circle cx="304.86" cy="360.73" r="1.0" fill="#cf1f2a"/><circle cx="308.20" cy="375.40" r="1.0" fill="#cf1f2a"/><circle cx="311.54" cy="389.33" r="1.0" fill="#cf1f2a"/><circle cx="314.88" cy="397.69" r="1.0" fill="#cf1f2a"/><circle cx="318.22" cy="398.13" r="1.0" fill="#cf1f2a"/><circle cx="321.56" cy="398.86" r="1.0" fill="#cf1f2a"/><circle cx="324.90" cy="399.30" r="1.0" fill="#cf1f2a"/><circle cx="328.24" cy="398.66" r="1.0" fill="#cf1f2a"/><circle cx="331.58" cy="398.67" r="1.0" fill="#cf1f2a"/><circle cx="334.92" cy="398.85" r="1.0" fill="#cf1f2a"/><circle cx="338.26" cy="398.61" r="1.0" fill="#cf1f2a"/><circle cx="341.60" cy="398.60" r="1.0" fill="#cf1f2a"/><circle cx="344.94" cy="398.49" r="1.0" fill="#cf1f2a"/><circle cx="348.28" cy="398.59" r="1.0" fill="#cf1f2a"/><circle cx="351.62" cy="398.75" r="1.0" fill="#cf1f2a"/><circle cx="354.96" cy="398.62" r="1.0" fill="#cf1f2a"/><circle cx="358.30" cy="398.42" r="1.0" fill="#cf1f2a"/>
<path d="M291.50,353.40L294.84,354.87L298.18,353.40L301.52,352.67L304.86,359.27L308.20,357.07L311.54,360.73L314.88,379.80L318.22,395.93L321.56,398.86L324.90,399.30L328.24,398.58L331.58,398.48L334.92,398.89L338.26,398.56L341.60,398.79L344.94,398.82L348.28,398.73L351.62,398.81L354.96,398.86L358.30,398.79" fill="none" stroke="#2865bb" stroke-width="0.6"/>
<circle cx="291.50" cy="353.40" r="1.0" fill="#2865bb"/><circle cx="294.84" cy="354.87" r="1.0" fill="#2865bb"/><circle cx="298.18" cy="353.40" r="1.0" fill="#2865bb"/><circle cx="301.52" cy="352.67" r="1.0" fill="#2865bb"/><circle cx="304.86" cy="359.27" r="1.0" fill="#2865bb"/><circle cx="308.20" cy="357.07" r="1.0" fill="#2865bb"/><circle cx="311.54" cy="360.73" r="1.0" fill="#2865bb"/><circle cx="314.88" cy="379.80" r="1.0" fill="#2865bb"/><circle cx="318.22" cy="395.93" r="1.0" fill="#2865bb"/><circle cx="321.56" cy="398.86" r="1.0" fill="#2865bb"/><circle cx="324.90" cy="399.30" r="1.0" fill="#2865bb"/><circle cx="328.24" cy="398.58" r="1.0" fill="#2865bb"/><circle cx="331.58" cy="398.48" r="1.0" fill="#2865bb"/><circle cx="334.92" cy="398.89" r="1.0" fill="#2865bb"/><circle cx="338.26" cy="398.56" r="1.0" fill="#2865bb"/><circle cx="341.60" cy="398.79" r="1.0" fill="#2865bb"/><circle cx="344.94" cy="398.82" r="1.0" fill="#2865bb"/><circle cx="348.28" cy="398.73" r="1.0" fill="#2865bb"/><circle cx="351.62" cy="398.81" r="1.0" fill="#2865bb"/><circle cx="354.96" cy="398.86" r="1.0" fill="#2865bb"/><circle cx="358.30" cy="398.79" r="1.0" fill="#2865bb"/>
<path d="M291.50,363.66L294.84,358.53L298.18,355.60L301.52,360.73L304.86,359.27L308.20,361.46L311.54,357.07L314.88,362.93L318.22,376.86L321.56,392.99L324.90,399.30L328.24,398.78L331.58,398.78L334.92,398.50L338.26,398.86L341.60,398.80L344.94,398.87L348.28,398.65L351.62,398.79L354.96,398.63L358.30,398.78" fill="none" stroke="#e07b2a" stroke-width="0.6"/>
<circle cx="291.50" cy="363.66" r="1.0" fill="#e07b2a"/><circle cx="294.84" cy="358.53" r="1.0" fill="#e07b2a"/><circle cx="298.18" cy="355.60" r="1.0" fill="#e07b2a"/><circle cx="301.52" cy="360.73" r="1.0" fill="#e07b2a"/><circle cx="304.86" cy="359.27" r="1.0" fill="#e07b2a"/><circle cx="308.20" cy="361.46" r="1.0" fill="#e07b2a"/><circle cx="311.54" cy="357.07" r="1.0" fill="#e07b2a"/><circle cx="314.88" cy="362.93" r="1.0" fill="#e07b2a"/><circle cx="318.22" cy="376.86" r="1.0" fill="#e07b2a"/><circle cx="321.56" cy="392.99" r="1.0" fill="#e07b2a"/><circle cx="324.90" cy="399.30" r="1.0" fill="#e07b2a"/><circle cx="328.24" cy="398.78" r="1.0" fill="#e07b2a"/><circle cx="331.58" cy="398.78" r="1.0" fill="#e07b2a"/><circle cx="334.92" cy="398.50" r="1.0" fill="#e07b2a"/><circle cx="338.26" cy="398.86" r="1.0" fill="#e07b2a"/><circle cx="341.60" cy="398.80" r="1.0" fill="#e07b2a"/><circle cx="344.94" cy="398.87" r="1.0" fill="#e07b2a"/><circle cx="348.28" cy="398.65" r="1.0" fill="#e07b2a"/><circle cx="351.62" cy="398.79" r="1.0" fill="#e07b2a"/><circle cx="354.96" cy="398.63" r="1.0" fill="#e07b2a"/><circle cx="358.30" cy="398.78" r="1.0" fill="#e07b2a"/>
<path d="M291.50,357.07L294.84,356.33L298.18,357.07L301.52,362.93L304.86,364.40L308.20,362.20L311.54,362.20L314.88,363.66L318.22,370.26L321.56,392.99L324.90,399.30L328.24,398.80L331.58,398.66L334.92,398.86L338.26,398.46L341.60,398.62L344.94,398.70L348.28,398.63L351.62,398.43L354.96,398.65L358.30,398.70" fill="none" stroke="#2e9440" stroke-width="0.6"/>
<circle cx="291.50" cy="357.07" r="1.0" fill="#2e9440"/><circle cx="294.84" cy="356.33" r="1.0" fill="#2e9440"/><circle cx="298.18" cy="357.07" r="1.0" fill="#2e9440"/><circle cx="301.52" cy="362.93" r="1.0" fill="#2e9440"/><circle cx="304.86" cy="364.40" r="1.0" fill="#2e9440"/><circle cx="308.20" cy="362.20" r="1.0" fill="#2e9440"/><circle cx="311.54" cy="362.20" r="1.0" fill="#2e9440"/><circle cx="314.88" cy="363.66" r="1.0" fill="#2e9440"/><circle cx="318.22" cy="370.26" r="1.0" fill="#2e9440"/><circle cx="321.56" cy="392.99" r="1.0" fill="#2e9440"/><circle cx="324.90" cy="399.30" r="1.0" fill="#2e9440"/><circle cx="328.24" cy="398.80" r="1.0" fill="#2e9440"/><circle cx="331.58" cy="398.66" r="1.0" fill="#2e9440"/><circle cx="334.92" cy="398.86" r="1.0" fill="#2e9440"/><circle cx="338.26" cy="398.46" r="1.0" fill="#2e9440"/><circle cx="341.60" cy="398.62" r="1.0" fill="#2e9440"/><circle cx="344.94" cy="398.70" r="1.0" fill="#2e9440"/><circle cx="348.28" cy="398.63" r="1.0" fill="#2e9440"/><circle cx="351.62" cy="398.43" r="1.0" fill="#2e9440"/><circle cx="354.96" cy="398.65" r="1.0" fill="#2e9440"/><circle cx="358.30" cy="398.70" r="1.0" fill="#2e9440"/>
<path d="M291.50,363.66L294.84,360.73L298.18,358.53L301.52,360.00L304.86,361.46L308.20,360.73L311.54,356.33L314.88,362.93L318.22,368.80L321.56,385.66L324.90,399.30L328.24,398.79L331.58,398.71L334.92,398.51L338.26,398.59L341.60,398.76L344.94,398.45L348.28,398.83L351.62,398.72L354.96,398.51L358.30,398.44" fill="none" stroke="#3c3c3c" stroke-width="0.6"/>
<circle cx="291.50" cy="363.66" r="1.0" fill="#3c3c3c"/><circle cx="294.84" cy="360.73" r="1.0" fill="#3c3c3c"/><circle cx="298.18" cy="358.53" r="1.0" fill="#3c3c3c"/><circle cx="301.52" cy="360.00" r="1.0" fill="#3c3c3c"/><circle cx="304.86" cy="361.46" r="1.0" fill="#3c3c3c"/><circle cx="308.20" cy="360.73" r="1.0" fill="#3c3c3c"/><circle cx="311.54" cy="356.33" r="1.0" fill="#3c3c3c"/><circle cx="314.88" cy="362.93" r="1.0" fill="#3c3c3c"/><circle cx="318.22" cy="368.80" r="1.0" fill="#3c3c3c"/><circle cx="321.56" cy="385.66" r="1.0" fill="#3c3c3c"/><circle cx="324.90" cy="399.30" r="1.0" fill="#3c3c3c"/><circle cx="328.24" cy="398.79" r="1.0" fill="#3c3c3c"/><circle cx="331.58" cy="398.71" r="1.0" fill="#3c3c3c"/><circle cx="334.92" cy="398.51" r="1.0" fill="#3c3c3c"/><circle cx="338.26" cy="398.59" r="1.0" fill="#3c3c3c"/><circle cx="341.60" cy="398.76" r="1.0" fill="#3c3c3c"/><circle cx="344.94" cy="398.45" r="1.0" fill="#3c3c3c"/><circle cx="348.28" cy="398.83" r="1.0" fill="#3c3c3c"/><circle cx="351.62" cy="398.72" r="1.0" fill="#3c3c3c"/><circle cx="354.96" cy="398.51" r="1.0" fill="#3c3c3c"/><circle cx="358.30" cy="398.44" r="1.0" fill="#3c3c3c"/>
<text transform="translate(383.30,434.60) scale(1,1.12)" text-anchor="end" class="tk">0.3</text>
<text transform="translate(383.30,417.19) scale(1,1.12)" text-anchor="end" class="tk">0.32</text>
<path d="M385.20,414.99h1.6M538.40,414.99h-1.6" stroke="#cccccc" stroke-width="0.6"/>
<text transform="translate(383.30,399.77) scale(1,1.12)" text-anchor="end" class="tk">0.34</text>
<path d="M385.20,397.57h1.6M538.40,397.57h-1.6" stroke="#cccccc" stroke-width="0.6"/>
<text transform="translate(383.30,382.36) scale(1,1.12)" text-anchor="end" class="tk">0.36</text>
<path d="M385.20,380.16h1.6M538.40,380.16h-1.6" stroke="#cccccc" stroke-width="0.6"/>
<text transform="translate(383.30,364.94) scale(1,1.12)" text-anchor="end" class="tk">0.38</text>
<path d="M385.20,362.74h1.6M538.40,362.74h-1.6" stroke="#cccccc" stroke-width="0.6"/>
<text transform="translate(383.30,347.53) scale(1,1.12)" text-anchor="end" class="tk">0.4</text>
<path d="M385.20,345.33h1.6M538.40,345.33h-1.6" stroke="#cccccc" stroke-width="0.6"/>
<text transform="translate(383.30,330.11) scale(1,1.12)" text-anchor="end" class="tk">0.42</text>
<path d="M385.20,327.91h1.6M538.40,327.91h-1.6" stroke="#cccccc" stroke-width="0.6"/>
<text transform="translate(383.30,312.70) scale(1,1.12)" text-anchor="end" class="tk">0.44</text>
<text transform="translate(385.20,440.10) scale(1,1.12)" text-anchor="middle" class="tk">-10</text>
<text transform="translate(423.50,440.10) scale(1,1.12)" text-anchor="middle" class="tk">-5</text>
<path d="M423.50,432.40v-1.6M423.50,310.50v1.6" stroke="#cccccc" stroke-width="0.6"/>
<text transform="translate(461.80,440.10) scale(1,1.12)" text-anchor="middle" class="tk">0</text>
<path d="M461.80,432.40v-1.6M461.80,310.50v1.6" stroke="#cccccc" stroke-width="0.6"/>
<text transform="translate(500.10,440.10) scale(1,1.12)" text-anchor="middle" class="tk">5</text>
<path d="M500.10,432.40v-1.6M500.10,310.50v1.6" stroke="#cccccc" stroke-width="0.6"/>
<text transform="translate(538.40,440.10) scale(1,1.12)" text-anchor="middle" class="tk">10</text>
<rect x="385.20" y="310.50" width="153.20" height="121.90" fill="none" stroke="#cccccc" stroke-width="1.0"/>
<text x="461.80" y="307.90" text-anchor="middle" class="ttl">USAir</text>
<text transform="translate(524.70,326.35) scale(1.12,1)" text-anchor="middle" class="let">(i)</text>
<text transform="translate(370.00,371.45) rotate(-90)" text-anchor="middle" class="yl">Precision</text>
<text x="461.80" y="447.40" text-anchor="middle" class="bl">&#946;</text>
<path d="M385.20,431.80L392.86,431.80L400.52,429.50L408.18,431.80L415.84,431.80L423.50,431.80L431.16,431.80L438.82,431.80L446.48,431.80L454.14,431.10L461.80,431.05L469.46,431.68L477.12,431.15L484.78,430.96L492.44,431.73L500.10,431.18L507.76,431.70L515.42,431.90L523.08,429.90L530.74,431.20L538.40,431.92" fill="none" stroke="#5b3f9e" stroke-width="1.0" stroke-linejoin="round"/>
<path d="M385.20,429.20L387.50,431.80L385.20,434.40L382.90,431.80Z" fill="none" stroke="#5b3f9e" stroke-width="0.95"/><path d="M392.86,429.20L395.16,431.80L392.86,434.40L390.56,431.80Z" fill="none" stroke="#5b3f9e" stroke-width="0.95"/><path d="M400.52,426.90L402.82,429.50L400.52,432.10L398.22,429.50Z" fill="none" stroke="#5b3f9e" stroke-width="0.95"/><path d="M408.18,429.20L410.48,431.80L408.18,434.40L405.88,431.80Z" fill="none" stroke="#5b3f9e" stroke-width="0.95"/><path d="M415.84,429.20L418.14,431.80L415.84,434.40L413.54,431.80Z" fill="none" stroke="#5b3f9e" stroke-width="0.95"/><path d="M423.50,429.20L425.80,431.80L423.50,434.40L421.20,431.80Z" fill="none" stroke="#5b3f9e" stroke-width="0.95"/><path d="M431.16,429.20L433.46,431.80L431.16,434.40L428.86,431.80Z" fill="none" stroke="#5b3f9e" stroke-width="0.95"/><path d="M438.82,429.20L441.12,431.80L438.82,434.40L436.52,431.80Z" fill="none" stroke="#5b3f9e" stroke-width="0.95"/><path d="M446.48,429.20L448.78,431.80L446.48,434.40L444.18,431.80Z" fill="none" stroke="#5b3f9e" stroke-width="0.95"/><path d="M454.14,428.50L456.44,431.10L454.14,433.70L451.84,431.10Z" fill="none" stroke="#5b3f9e" stroke-width="0.95"/><path d="M461.80,428.45L464.10,431.05L461.80,433.65L459.50,431.05Z" fill="none" stroke="#5b3f9e" stroke-width="0.95"/><path d="M469.46,429.08L471.76,431.68L469.46,434.28L467.16,431.68Z" fill="none" stroke="#5b3f9e" stroke-width="0.95"/><path d="M477.12,428.55L479.42,431.15L477.12,433.75L474.82,431.15Z" fill="none" stroke="#5b3f9e" stroke-width="0.95"/><path d="M484.78,428.36L487.08,430.96L484.78,433.56L482.48,430.96Z" fill="none" stroke="#5b3f9e" stroke-width="0.95"/><path d="M492.44,429.13L494.74,431.73L492.44,434.33L490.14,431.73Z" fill="none" stroke="#5b3f9e" stroke-width="0.95"/><path d="M500.10,428.58L502.40,431.18L500.10,433.78L497.80,431.18Z" fill="none" stroke="#5b3f9e" stroke-width="0.95"/><path d="M507.76,429.10L510.06,431.70L507.76,434.30L505.46,431.70Z" fill="none" stroke="#5b3f9e" stroke-width="0.95"/><path d="M515.42,429.30L517.72,431.90L515.42,434.50L513.12,431.90Z" fill="none" stroke="#5b3f9e" stroke-width="0.95"/><path d="M523.08,427.30L525.38,429.90L523.08,432.50L520.78,429.90Z" fill="none" stroke="#5b3f9e" stroke-width="0.95"/><path d="M530.74,428.60L533.04,431.20L530.74,433.80L528.44,431.20Z" fill="none" stroke="#5b3f9e" stroke-width="0.95"/><path d="M538.40,429.32L540.70,431.92L538.40,434.52L536.10,431.92Z" fill="none" stroke="#5b3f9e" stroke-width="0.95"/>
<path d="M385.20,331.57L392.86,326.00L400.52,314.51L408.18,319.56L415.84,331.14L423.50,330.00L431.16,336.62L438.82,328.52L446.48,333.14L454.14,348.64L461.80,430.31L469.46,430.87L477.12,431.20L484.78,430.73L492.44,430.80L500.10,430.67L507.76,429.91L515.42,429.84L523.08,431.09L530.74,429.72L538.40,430.40" fill="none" stroke="#cf1f2a" stroke-width="1.0" stroke-linejoin="round"/>
<polygon points="385.20,328.67 385.99,330.78 388.24,330.88 386.48,332.29 387.08,334.46 385.20,333.22 383.32,334.46 383.92,332.29 382.16,330.88 384.41,330.78" fill="#cf1f2a" stroke="#cf1f2a" stroke-width="0.3"/><polygon points="392.86,323.10 393.65,325.21 395.90,325.31 394.14,326.72 394.74,328.89 392.86,327.65 390.98,328.89 391.58,326.72 389.82,325.31 392.07,325.21" fill="#cf1f2a" stroke="#cf1f2a" stroke-width="0.3"/><polygon points="400.52,311.61 401.31,313.71 403.56,313.82 401.80,315.22 402.40,317.39 400.52,316.16 398.64,317.39 399.24,315.22 397.48,313.82 399.73,313.71" fill="#cf1f2a" stroke="#cf1f2a" stroke-width="0.3"/><polygon points="408.18,316.66 408.97,318.76 411.22,318.87 409.46,320.27 410.06,322.44 408.18,321.21 406.30,322.44 406.90,320.27 405.14,318.87 407.39,318.76" fill="#cf1f2a" stroke="#cf1f2a" stroke-width="0.3"/><polygon points="415.84,328.24 416.63,330.34 418.88,330.45 417.12,331.85 417.72,334.02 415.84,332.79 413.96,334.02 414.56,331.85 412.80,330.45 415.05,330.34" fill="#cf1f2a" stroke="#cf1f2a" stroke-width="0.3"/><polygon points="423.50,327.10 424.29,329.21 426.54,329.32 424.78,330.72 425.38,332.89 423.50,331.65 421.62,332.89 422.22,330.72 420.46,329.32 422.71,329.21" fill="#cf1f2a" stroke="#cf1f2a" stroke-width="0.3"/><polygon points="431.16,333.72 431.95,335.83 434.20,335.93 432.44,337.34 433.04,339.51 431.16,338.27 429.28,339.51 429.88,337.34 428.12,335.93 430.37,335.83" fill="#cf1f2a" stroke="#cf1f2a" stroke-width="0.3"/><polygon points="438.82,325.62 439.61,327.73 441.86,327.83 440.10,329.24 440.70,331.41 438.82,330.17 436.94,331.41 437.54,329.24 435.78,327.83 438.03,327.73" fill="#cf1f2a" stroke="#cf1f2a" stroke-width="0.3"/><polygon points="446.48,330.24 447.27,332.35 449.52,332.45 447.76,333.86 448.36,336.03 446.48,334.79 444.60,336.03 445.20,333.86 443.44,332.45 445.69,332.35" fill="#cf1f2a" stroke="#cf1f2a" stroke-width="0.3"/><polygon points="454.14,345.74 454.93,347.85 457.18,347.95 455.42,349.35 456.02,351.53 454.14,350.29 452.26,351.53 452.86,349.35 451.10,347.95 453.35,347.85" fill="#cf1f2a" stroke="#cf1f2a" stroke-width="0.3"/><polygon points="461.80,427.41 462.59,429.52 464.84,429.62 463.08,431.03 463.68,433.20 461.80,431.96 459.92,433.20 460.52,431.03 458.76,429.62 461.01,429.52" fill="#cf1f2a" stroke="#cf1f2a" stroke-width="0.3"/><polygon points="469.46,427.97 470.25,430.08 472.50,430.18 470.74,431.58 471.34,433.76 469.46,432.52 467.58,433.76 468.18,431.58 466.42,430.18 468.67,430.08" fill="#cf1f2a" stroke="#cf1f2a" stroke-width="0.3"/><polygon points="477.12,428.30 477.91,430.40 480.16,430.51 478.40,431.91 479.00,434.08 477.12,432.85 475.24,434.08 475.84,431.91 474.08,430.51 476.33,430.40" fill="#cf1f2a" stroke="#cf1f2a" stroke-width="0.3"/><polygon points="484.78,427.83 485.57,429.93 487.82,430.04 486.06,431.44 486.66,433.61 484.78,432.38 482.90,433.61 483.50,431.44 481.74,430.04 483.99,429.93" fill="#cf1f2a" stroke="#cf1f2a" stroke-width="0.3"/><polygon points="492.44,427.90 493.23,430.01 495.48,430.12 493.72,431.52 494.32,433.69 492.44,432.45 490.56,433.69 491.16,431.52 489.40,430.12 491.65,430.01" fill="#cf1f2a" stroke="#cf1f2a" stroke-width="0.3"/><polygon points="500.10,427.77 500.89,429.88 503.14,429.98 501.38,431.39 501.98,433.56 500.10,432.32 498.22,433.56 498.82,431.39 497.06,429.98 499.31,429.88" fill="#cf1f2a" stroke="#cf1f2a" stroke-width="0.3"/><polygon points="507.76,427.01 508.55,429.12 510.80,429.23 509.04,430.63 509.64,432.80 507.76,431.56 505.88,432.80 506.48,430.63 504.72,429.23 506.97,429.12" fill="#cf1f2a" stroke="#cf1f2a" stroke-width="0.3"/><polygon points="515.42,426.94 516.21,429.05 518.46,429.15 516.70,430.56 517.30,432.73 515.42,431.49 513.54,432.73 514.14,430.56 512.38,429.15 514.63,429.05" fill="#cf1f2a" stroke="#cf1f2a" stroke-width="0.3"/><polygon points="523.08,428.19 523.87,430.30 526.12,430.40 524.36,431.81 524.96,433.98 523.08,432.74 521.20,433.98 521.80,431.81 520.04,430.40 522.29,430.30" fill="#cf1f2a" stroke="#cf1f2a" stroke-width="0.3"/><polygon points="530.74,426.82 531.53,428.93 533.78,429.03 532.02,430.44 532.62,432.61 530.74,431.37 528.86,432.61 529.46,430.44 527.70,429.03 529.95,428.93" fill="#cf1f2a" stroke="#cf1f2a" stroke-width="0.3"/><polygon points="538.40,427.50 539.19,429.61 541.44,429.71 539.68,431.12 540.28,433.29 538.40,432.05 536.52,433.29 537.12,431.12 535.36,429.71 537.61,429.61" fill="#cf1f2a" stroke="#cf1f2a" stroke-width="0.3"/>
<path d="M385.20,327.13L392.86,329.13L400.52,334.62L408.18,340.97L415.84,324.52L423.50,344.02L431.16,336.62L438.82,335.58L446.48,338.01L454.14,342.02L461.80,429.77L469.46,430.03L477.12,430.55L484.78,431.05L492.44,429.83L500.10,429.70L507.76,430.38L515.42,431.29L523.08,430.02L530.74,430.12L538.40,429.92" fill="none" stroke="#2865bb" stroke-width="1.0" stroke-linejoin="round"/>
<circle cx="385.20" cy="327.13" r="2.55" fill="none" stroke="#2865bb" stroke-width="0.95"/><circle cx="392.86" cy="329.13" r="2.55" fill="none" stroke="#2865bb" stroke-width="0.95"/><circle cx="400.52" cy="334.62" r="2.55" fill="none" stroke="#2865bb" stroke-width="0.95"/><circle cx="408.18" cy="340.97" r="2.55" fill="none" stroke="#2865bb" stroke-width="0.95"/><circle cx="415.84" cy="324.52" r="2.55" fill="none" stroke="#2865bb" stroke-width="0.95"/><circle cx="423.50" cy="344.02" r="2.55" fill="none" stroke="#2865bb" stroke-width="0.95"/><circle cx="431.16" cy="336.62" r="2.55" fill="none" stroke="#2865bb" stroke-width="0.95"/><circle cx="438.82" cy="335.58" r="2.55" fill="none" stroke="#2865bb" stroke-width="0.95"/><circle cx="446.48" cy="338.01" r="2.55" fill="none" stroke="#2865bb" stroke-width="0.95"/><circle cx="454.14" cy="342.02" r="2.55" fill="none" stroke="#2865bb" stroke-width="0.95"/><circle cx="461.80" cy="429.77" r="2.55" fill="none" stroke="#2865bb" stroke-width="0.95"/><circle cx="469.46" cy="430.03" r="2.55" fill="none" stroke="#2865bb" stroke-width="0.95"/><circle cx="477.12" cy="430.55" r="2.55" fill="none" stroke="#2865bb" stroke-width="0.95"/><circle cx="484.78" cy="431.05" r="2.55" fill="none" stroke="#2865bb" stroke-width="0.95"/><circle cx="492.44" cy="429.83" r="2.55" fill="none" stroke="#2865bb" stroke-width="0.95"/><circle cx="500.10" cy="429.70" r="2.55" fill="none" stroke="#2865bb" stroke-width="0.95"/><circle cx="507.76" cy="430.38" r="2.55" fill="none" stroke="#2865bb" stroke-width="0.95"/><circle cx="515.42" cy="431.29" r="2.55" fill="none" stroke="#2865bb" stroke-width="0.95"/><circle cx="523.08" cy="430.02" r="2.55" fill="none" stroke="#2865bb" stroke-width="0.95"/><circle cx="530.74" cy="430.12" r="2.55" fill="none" stroke="#2865bb" stroke-width="0.95"/><circle cx="538.40" cy="429.92" r="2.55" fill="none" stroke="#2865bb" stroke-width="0.95"/>
<path d="M385.20,336.62L392.86,336.01L400.52,338.62L408.18,341.24L415.84,338.97L423.50,335.23L431.16,330.61L438.82,331.57L446.48,341.24L454.14,329.13L461.80,429.74L469.46,429.74L477.12,430.17L484.78,430.79L492.44,430.54L500.10,430.59L507.76,430.13L515.42,430.37L523.08,430.01L530.74,430.57L538.40,430.44" fill="none" stroke="#e07b2a" stroke-width="1.0" stroke-linejoin="round"/>
<rect x="382.90" y="334.32" width="4.60" height="4.60" fill="none" stroke="#e07b2a" stroke-width="0.95"/><rect x="390.56" y="333.71" width="4.60" height="4.60" fill="none" stroke="#e07b2a" stroke-width="0.95"/><rect x="398.22" y="336.32" width="4.60" height="4.60" fill="none" stroke="#e07b2a" stroke-width="0.95"/><rect x="405.88" y="338.94" width="4.60" height="4.60" fill="none" stroke="#e07b2a" stroke-width="0.95"/><rect x="413.54" y="336.67" width="4.60" height="4.60" fill="none" stroke="#e07b2a" stroke-width="0.95"/><rect x="421.20" y="332.93" width="4.60" height="4.60" fill="none" stroke="#e07b2a" stroke-width="0.95"/><rect x="428.86" y="328.31" width="4.60" height="4.60" fill="none" stroke="#e07b2a" stroke-width="0.95"/><rect x="436.52" y="329.27" width="4.60" height="4.60" fill="none" stroke="#e07b2a" stroke-width="0.95"/><rect x="444.18" y="338.94" width="4.60" height="4.60" fill="none" stroke="#e07b2a" stroke-width="0.95"/><rect x="451.84" y="326.83" width="4.60" height="4.60" fill="none" stroke="#e07b2a" stroke-width="0.95"/><rect x="459.50" y="427.44" width="4.60" height="4.60" fill="none" stroke="#e07b2a" stroke-width="0.95"/><rect x="467.16" y="427.44" width="4.60" height="4.60" fill="none" stroke="#e07b2a" stroke-width="0.95"/><rect x="474.82" y="427.87" width="4.60" height="4.60" fill="none" stroke="#e07b2a" stroke-width="0.95"/><rect x="482.48" y="428.49" width="4.60" height="4.60" fill="none" stroke="#e07b2a" stroke-width="0.95"/><rect x="490.14" y="428.24" width="4.60" height="4.60" fill="none" stroke="#e07b2a" stroke-width="0.95"/><rect x="497.80" y="428.29" width="4.60" height="4.60" fill="none" stroke="#e07b2a" stroke-width="0.95"/><rect x="505.46" y="427.83" width="4.60" height="4.60" fill="none" stroke="#e07b2a" stroke-width="0.95"/><rect x="513.12" y="428.07" width="4.60" height="4.60" fill="none" stroke="#e07b2a" stroke-width="0.95"/><rect x="520.78" y="427.71" width="4.60" height="4.60" fill="none" stroke="#e07b2a" stroke-width="0.95"/><rect x="528.44" y="428.27" width="4.60" height="4.60" fill="none" stroke="#e07b2a" stroke-width="0.95"/><rect x="536.10" y="428.14" width="4.60" height="4.60" fill="none" stroke="#e07b2a" stroke-width="0.95"/>
<path d="M385.20,345.59L392.86,335.58L400.52,343.59L408.18,349.60L415.84,351.25L423.50,350.64L431.16,336.19L438.82,341.58L446.48,344.02L454.14,338.01L461.80,429.77L469.46,430.07L477.12,429.82L484.78,430.24L492.44,431.28L500.10,430.75L507.76,430.98L515.42,431.03L523.08,431.27L530.74,431.30L538.40,430.63" fill="none" stroke="#2e9440" stroke-width="1.0" stroke-linejoin="round"/>
<path d="M387.60,345.59L382.80,343.09L382.80,348.09Z" fill="none" stroke="#2e9440" stroke-width="0.95"/><path d="M395.26,335.58L390.46,333.08L390.46,338.08Z" fill="none" stroke="#2e9440" stroke-width="0.95"/><path d="M402.92,343.59L398.12,341.09L398.12,346.09Z" fill="none" stroke="#2e9440" stroke-width="0.95"/><path d="M410.58,349.60L405.78,347.10L405.78,352.10Z" fill="none" stroke="#2e9440" stroke-width="0.95"/><path d="M418.24,351.25L413.44,348.75L413.44,353.75Z" fill="none" stroke="#2e9440" stroke-width="0.95"/><path d="M425.90,350.64L421.10,348.14L421.10,353.14Z" fill="none" stroke="#2e9440" stroke-width="0.95"/><path d="M433.56,336.19L428.76,333.69L428.76,338.69Z" fill="none" stroke="#2e9440" stroke-width="0.95"/><path d="M441.22,341.58L436.42,339.08L436.42,344.08Z" fill="none" stroke="#2e9440" stroke-width="0.95"/><path d="M448.88,344.02L444.08,341.52L444.08,346.52Z" fill="none" stroke="#2e9440" stroke-width="0.95"/><path d="M456.54,338.01L451.74,335.51L451.74,340.51Z" fill="none" stroke="#2e9440" stroke-width="0.95"/><path d="M464.20,429.77L459.40,427.27L459.40,432.27Z" fill="none" stroke="#2e9440" stroke-width="0.95"/><path d="M471.86,430.07L467.06,427.57L467.06,432.57Z" fill="none" stroke="#2e9440" stroke-width="0.95"/><path d="M479.52,429.82L474.72,427.32L474.72,432.32Z" fill="none" stroke="#2e9440" stroke-width="0.95"/><path d="M487.18,430.24L482.38,427.74L482.38,432.74Z" fill="none" stroke="#2e9440" stroke-width="0.95"/><path d="M494.84,431.28L490.04,428.78L490.04,433.78Z" fill="none" stroke="#2e9440" stroke-width="0.95"/><path d="M502.50,430.75L497.70,428.25L497.70,433.25Z" fill="none" stroke="#2e9440" stroke-width="0.95"/><path d="M510.16,430.98L505.36,428.48L505.36,433.48Z" fill="none" stroke="#2e9440" stroke-width="0.95"/><path d="M517.82,431.03L513.02,428.53L513.02,433.53Z" fill="none" stroke="#2e9440" stroke-width="0.95"/><path d="M525.48,431.27L520.68,428.77L520.68,433.77Z" fill="none" stroke="#2e9440" stroke-width="0.95"/><path d="M533.14,431.30L528.34,428.80L528.34,433.80Z" fill="none" stroke="#2e9440" stroke-width="0.95"/><path d="M540.80,430.63L536.00,428.13L536.00,433.13Z" fill="none" stroke="#2e9440" stroke-width="0.95"/>
<path d="M385.20,356.65L392.86,347.24L400.52,353.69L408.18,344.63L415.84,351.25L423.50,350.64L431.16,351.25L438.82,364.66L446.48,344.63L454.14,347.59L461.80,430.09L469.46,429.94L477.12,429.76L484.78,430.45L492.44,431.47L500.10,431.16L507.76,431.40L515.42,429.94L523.08,430.92L530.74,430.20L538.40,430.69" fill="none" stroke="#3c3c3c" stroke-width="1.0" stroke-linejoin="round"/>
<path d="M382.80,356.65L387.60,354.15L387.60,359.15Z" fill="none" stroke="#3c3c3c" stroke-width="0.95"/><path d="M390.46,347.24L395.26,344.74L395.26,349.74Z" fill="none" stroke="#3c3c3c" stroke-width="0.95"/><path d="M398.12,353.69L402.92,351.19L402.92,356.19Z" fill="none" stroke="#3c3c3c" stroke-width="0.95"/><path d="M405.78,344.63L410.58,342.13L410.58,347.13Z" fill="none" stroke="#3c3c3c" stroke-width="0.95"/><path d="M413.44,351.25L418.24,348.75L418.24,353.75Z" fill="none" stroke="#3c3c3c" stroke-width="0.95"/><path d="M421.10,350.64L425.90,348.14L425.90,353.14Z" fill="none" stroke="#3c3c3c" stroke-width="0.95"/><path d="M428.76,351.25L433.56,348.75L433.56,353.75Z" fill="none" stroke="#3c3c3c" stroke-width="0.95"/><path d="M436.42,364.66L441.22,362.16L441.22,367.16Z" fill="none" stroke="#3c3c3c" stroke-width="0.95"/><path d="M444.08,344.63L448.88,342.13L448.88,347.13Z" fill="none" stroke="#3c3c3c" stroke-width="0.95"/><path d="M451.74,347.59L456.54,345.09L456.54,350.09Z" fill="none" stroke="#3c3c3c" stroke-width="0.95"/><path d="M459.40,430.09L464.20,427.59L464.20,432.59Z" fill="none" stroke="#3c3c3c" stroke-width="0.95"/><path d="M467.06,429.94L471.86,427.44L471.86,432.44Z" fill="none" stroke="#3c3c3c" stroke-width="0.95"/><path d="M474.72,429.76L479.52,427.26L479.52,432.26Z" fill="none" stroke="#3c3c3c" stroke-width="0.95"/><path d="M482.38,430.45L487.18,427.95L487.18,432.95Z" fill="none" stroke="#3c3c3c" stroke-width="0.95"/><path d="M490.04,431.47L494.84,428.97L494.84,433.97Z" fill="none" stroke="#3c3c3c" stroke-width="0.95"/><path d="M497.70,431.16L502.50,428.66L502.50,433.66Z" fill="none" stroke="#3c3c3c" stroke-width="0.95"/><path d="M505.36,431.40L510.16,428.90L510.16,433.90Z" fill="none" stroke="#3c3c3c" stroke-width="0.95"/><path d="M513.02,429.94L517.82,427.44L517.82,432.44Z" fill="none" stroke="#3c3c3c" stroke-width="0.95"/><path d="M520.68,430.92L525.48,428.42L525.48,433.42Z" fill="none" stroke="#3c3c3c" stroke-width="0.95"/><path d="M528.34,430.20L533.14,427.70L533.14,432.70Z" fill="none" stroke="#3c3c3c" stroke-width="0.95"/><path d="M536.00,430.69L540.80,428.19L540.80,433.19Z" fill="none" stroke="#3c3c3c" stroke-width="0.95"/>
<rect x="471.00" y="346.80" width="67.40" height="52.50" fill="#fff" stroke="#cccccc" stroke-width="0.6"/>
<text x="470.40" y="400.10" text-anchor="end" class="itk">0.3</text>
<text x="470.40" y="392.60" text-anchor="end" class="itk">0.32</text>
<text x="470.40" y="385.10" text-anchor="end" class="itk">0.34</text>
<text x="470.40" y="377.60" text-anchor="end" class="itk">0.36</text>
<text x="470.40" y="370.10" text-anchor="end" class="itk">0.38</text>
<text x="470.40" y="362.60" text-anchor="end" class="itk">0.4</text>
<text x="470.40" y="355.10" text-anchor="end" class="itk">0.42</text>
<text x="470.40" y="347.60" text-anchor="end" class="itk">0.44</text>
<text x="471.00" y="402.20" text-anchor="middle" class="itk">-1</text>
<text x="487.85" y="402.20" text-anchor="middle" class="itk">-0.5</text>
<text x="504.70" y="402.20" text-anchor="middle" class="itk">0</text>
<text x="521.55" y="402.20" text-anchor="middle" class="itk">0.5</text>
<text x="538.40" y="402.20" text-anchor="middle" class="itk">1</text>
<text x="504.70" y="346.10" text-anchor="middle" class="ittl">USAir</text>
<text transform="translate(464.40,374.55) rotate(-90)" text-anchor="middle" class="iyl">Precision</text>
<text x="504.70" y="406.50" text-anchor="middle" class="ibl">&#946;</text>
<path d="M471.00,399.30L474.37,399.30L477.74,399.30L481.11,399.30L484.48,399.30L487.85,399.30L491.22,399.30L494.59,399.30L497.96,399.30L501.33,399.30L504.70,399.30L508.07,398.61L511.44,398.47L514.81,398.57L518.18,398.86L521.55,398.58L524.92,398.72L528.29,398.41L531.66,398.77L535.03,398.78L538.40,398.44" fill="none" stroke="#5b3f9e" stroke-width="0.6"/>
<circle cx="471.00" cy="399.30" r="1.0" fill="#5b3f9e"/><circle cx="474.37" cy="399.30" r="1.0" fill="#5b3f9e"/><circle cx="477.74" cy="399.30" r="1.0" fill="#5b3f9e"/><circle cx="481.11" cy="399.30" r="1.0" fill="#5b3f9e"/><circle cx="484.48" cy="399.30" r="1.0" fill="#5b3f9e"/><circle cx="487.85" cy="399.30" r="1.0" fill="#5b3f9e"/><circle cx="491.22" cy="399.30" r="1.0" fill="#5b3f9e"/><circle cx="494.59" cy="399.30" r="1.0" fill="#5b3f9e"/><circle cx="497.96" cy="399.30" r="1.0" fill="#5b3f9e"/><circle cx="501.33" cy="399.30" r="1.0" fill="#5b3f9e"/><circle cx="504.70" cy="399.30" r="1.0" fill="#5b3f9e"/><circle cx="508.07" cy="398.61" r="1.0" fill="#5b3f9e"/><circle cx="511.44" cy="398.47" r="1.0" fill="#5b3f9e"/><circle cx="514.81" cy="398.57" r="1.0" fill="#5b3f9e"/><circle cx="518.18" cy="398.86" r="1.0" fill="#5b3f9e"/><circle cx="521.55" cy="398.58" r="1.0" fill="#5b3f9e"/><circle cx="524.92" cy="398.72" r="1.0" fill="#5b3f9e"/><circle cx="528.29" cy="398.41" r="1.0" fill="#5b3f9e"/><circle cx="531.66" cy="398.77" r="1.0" fill="#5b3f9e"/><circle cx="535.03" cy="398.78" r="1.0" fill="#5b3f9e"/><circle cx="538.40" cy="398.44" r="1.0" fill="#5b3f9e"/>
<path d="M471.00,364.69L474.37,366.14L477.74,367.60L481.11,371.23L484.48,379.96L487.85,386.50L491.22,388.68L494.59,392.32L497.96,398.14L501.33,399.30L504.70,399.30L508.07,398.69L511.44,398.86L514.81,398.50L518.18,398.44L521.55,398.65L524.92,398.82L528.29,398.47L531.66,398.73L535.03,398.78L538.40,398.88" fill="none" stroke="#cf1f2a" stroke-width="0.6"/>
<circle cx="471.00" cy="364.69" r="1.0" fill="#cf1f2a"/><circle cx="474.37" cy="366.14" r="1.0" fill="#cf1f2a"/><circle cx="477.74" cy="367.60" r="1.0" fill="#cf1f2a"/><circle cx="481.11" cy="371.23" r="1.0" fill="#cf1f2a"/><circle cx="484.48" cy="379.96" r="1.0" fill="#cf1f2a"/><circle cx="487.85" cy="386.50" r="1.0" fill="#cf1f2a"/><circle cx="491.22" cy="388.68" r="1.0" fill="#cf1f2a"/><circle cx="494.59" cy="392.32" r="1.0" fill="#cf1f2a"/><circle cx="497.96" cy="398.14" r="1.0" fill="#cf1f2a"/><circle cx="501.33" cy="399.30" r="1.0" fill="#cf1f2a"/><circle cx="504.70" cy="399.30" r="1.0" fill="#cf1f2a"/><circle cx="508.07" cy="398.69" r="1.0" fill="#cf1f2a"/><circle cx="511.44" cy="398.86" r="1.0" fill="#cf1f2a"/><circle cx="514.81" cy="398.50" r="1.0" fill="#cf1f2a"/><circle cx="518.18" cy="398.44" r="1.0" fill="#cf1f2a"/><circle cx="521.55" cy="398.65" r="1.0" fill="#cf1f2a"/><circle cx="524.92" cy="398.82" r="1.0" fill="#cf1f2a"/><circle cx="528.29" cy="398.47" r="1.0" fill="#cf1f2a"/><circle cx="531.66" cy="398.73" r="1.0" fill="#cf1f2a"/><circle cx="535.03" cy="398.78" r="1.0" fill="#cf1f2a"/><circle cx="538.40" cy="398.88" r="1.0" fill="#cf1f2a"/>
<path d="M471.00,360.32L474.37,360.32L477.74,362.51L481.11,369.78L484.48,372.69L487.85,389.41L491.22,393.77L494.59,396.68L497.96,399.30L501.33,399.30L504.70,399.30L508.07,398.46L511.44,398.78L514.81,398.84L518.18,398.72L521.55,398.55L524.92,398.40L528.29,398.79L531.66,398.59L535.03,398.76L538.40,398.47" fill="none" stroke="#2865bb" stroke-width="0.6"/>
<circle cx="471.00" cy="360.32" r="1.0" fill="#2865bb"/><circle cx="474.37" cy="360.32" r="1.0" fill="#2865bb"/><circle cx="477.74" cy="362.51" r="1.0" fill="#2865bb"/><circle cx="481.11" cy="369.78" r="1.0" fill="#2865bb"/><circle cx="484.48" cy="372.69" r="1.0" fill="#2865bb"/><circle cx="487.85" cy="389.41" r="1.0" fill="#2865bb"/><circle cx="491.22" cy="393.77" r="1.0" fill="#2865bb"/><circle cx="494.59" cy="396.68" r="1.0" fill="#2865bb"/><circle cx="497.96" cy="399.30" r="1.0" fill="#2865bb"/><circle cx="501.33" cy="399.30" r="1.0" fill="#2865bb"/><circle cx="504.70" cy="399.30" r="1.0" fill="#2865bb"/><circle cx="508.07" cy="398.46" r="1.0" fill="#2865bb"/><circle cx="511.44" cy="398.78" r="1.0" fill="#2865bb"/><circle cx="514.81" cy="398.84" r="1.0" fill="#2865bb"/><circle cx="518.18" cy="398.72" r="1.0" fill="#2865bb"/><circle cx="521.55" cy="398.55" r="1.0" fill="#2865bb"/><circle cx="524.92" cy="398.40" r="1.0" fill="#2865bb"/><circle cx="528.29" cy="398.79" r="1.0" fill="#2865bb"/><circle cx="531.66" cy="398.59" r="1.0" fill="#2865bb"/><circle cx="535.03" cy="398.76" r="1.0" fill="#2865bb"/><circle cx="538.40" cy="398.47" r="1.0" fill="#2865bb"/>
<path d="M471.00,351.60L474.37,355.96L477.74,355.23L481.11,353.05L484.48,357.42L487.85,361.05L491.22,367.60L494.59,385.78L497.96,391.59L501.33,396.68L504.70,399.30L508.07,398.66L511.44,398.56L514.81,398.48L518.18,398.63L521.55,398.66L524.92,398.90L528.29,398.82L531.66,398.55L535.03,398.52L538.40,398.61" fill="none" stroke="#e07b2a" stroke-width="0.6"/>
<circle cx="471.00" cy="351.60" r="1.0" fill="#e07b2a"/><circle cx="474.37" cy="355.96" r="1.0" fill="#e07b2a"/><circle cx="477.74" cy="355.23" r="1.0" fill="#e07b2a"/><circle cx="481.11" cy="353.05" r="1.0" fill="#e07b2a"/><circle cx="484.48" cy="357.42" r="1.0" fill="#e07b2a"/><circle cx="487.85" cy="361.05" r="1.0" fill="#e07b2a"/><circle cx="491.22" cy="367.60" r="1.0" fill="#e07b2a"/><circle cx="494.59" cy="385.78" r="1.0" fill="#e07b2a"/><circle cx="497.96" cy="391.59" r="1.0" fill="#e07b2a"/><circle cx="501.33" cy="396.68" r="1.0" fill="#e07b2a"/><circle cx="504.70" cy="399.30" r="1.0" fill="#e07b2a"/><circle cx="508.07" cy="398.66" r="1.0" fill="#e07b2a"/><circle cx="511.44" cy="398.56" r="1.0" fill="#e07b2a"/><circle cx="514.81" cy="398.48" r="1.0" fill="#e07b2a"/><circle cx="518.18" cy="398.63" r="1.0" fill="#e07b2a"/><circle cx="521.55" cy="398.66" r="1.0" fill="#e07b2a"/><circle cx="524.92" cy="398.90" r="1.0" fill="#e07b2a"/><circle cx="528.29" cy="398.82" r="1.0" fill="#e07b2a"/><circle cx="531.66" cy="398.55" r="1.0" fill="#e07b2a"/><circle cx="535.03" cy="398.52" r="1.0" fill="#e07b2a"/><circle cx="538.40" cy="398.61" r="1.0" fill="#e07b2a"/>
<path d="M471.00,357.42L474.37,356.69L477.74,357.42L481.11,356.69L484.48,356.69L487.85,356.69L491.22,355.96L494.59,363.96L497.96,373.41L501.33,389.41L504.70,398.86L508.07,398.88L511.44,398.53L514.81,398.48L518.18,398.47L521.55,398.52L524.92,398.57L528.29,398.73L531.66,398.72L535.03,398.80L538.40,398.58" fill="none" stroke="#2e9440" stroke-width="0.6"/>
<circle cx="471.00" cy="357.42" r="1.0" fill="#2e9440"/><circle cx="474.37" cy="356.69" r="1.0" fill="#2e9440"/><circle cx="477.74" cy="357.42" r="1.0" fill="#2e9440"/><circle cx="481.11" cy="356.69" r="1.0" fill="#2e9440"/><circle cx="484.48" cy="356.69" r="1.0" fill="#2e9440"/><circle cx="487.85" cy="356.69" r="1.0" fill="#2e9440"/><circle cx="491.22" cy="355.96" r="1.0" fill="#2e9440"/><circle cx="494.59" cy="363.96" r="1.0" fill="#2e9440"/><circle cx="497.96" cy="373.41" r="1.0" fill="#2e9440"/><circle cx="501.33" cy="389.41" r="1.0" fill="#2e9440"/><circle cx="504.70" cy="398.86" r="1.0" fill="#2e9440"/><circle cx="508.07" cy="398.88" r="1.0" fill="#2e9440"/><circle cx="511.44" cy="398.53" r="1.0" fill="#2e9440"/><circle cx="514.81" cy="398.48" r="1.0" fill="#2e9440"/><circle cx="518.18" cy="398.47" r="1.0" fill="#2e9440"/><circle cx="521.55" cy="398.52" r="1.0" fill="#2e9440"/><circle cx="524.92" cy="398.57" r="1.0" fill="#2e9440"/><circle cx="528.29" cy="398.73" r="1.0" fill="#2e9440"/><circle cx="531.66" cy="398.72" r="1.0" fill="#2e9440"/><circle cx="535.03" cy="398.80" r="1.0" fill="#2e9440"/><circle cx="538.40" cy="398.58" r="1.0" fill="#2e9440"/>
<path d="M471.00,363.96L474.37,361.05L477.74,361.78L481.11,362.51L484.48,358.87L487.85,357.42L491.22,355.96L494.59,363.96L497.96,387.23L501.33,396.68L504.70,399.30L508.07,398.73L511.44,398.50L514.81,398.78L518.18,398.77L521.55,398.86L524.92,398.76L528.29,398.51L531.66,398.49L535.03,398.44L538.40,398.88" fill="none" stroke="#3c3c3c" stroke-width="0.6"/>
<circle cx="471.00" cy="363.96" r="1.0" fill="#3c3c3c"/><circle cx="474.37" cy="361.05" r="1.0" fill="#3c3c3c"/><circle cx="477.74" cy="361.78" r="1.0" fill="#3c3c3c"/><circle cx="481.11" cy="362.51" r="1.0" fill="#3c3c3c"/><circle cx="484.48" cy="358.87" r="1.0" fill="#3c3c3c"/><circle cx="487.85" cy="357.42" r="1.0" fill="#3c3c3c"/><circle cx="491.22" cy="355.96" r="1.0" fill="#3c3c3c"/><circle cx="494.59" cy="363.96" r="1.0" fill="#3c3c3c"/><circle cx="497.96" cy="387.23" r="1.0" fill="#3c3c3c"/><circle cx="501.33" cy="396.68" r="1.0" fill="#3c3c3c"/><circle cx="504.70" cy="399.30" r="1.0" fill="#3c3c3c"/><circle cx="508.07" cy="398.73" r="1.0" fill="#3c3c3c"/><circle cx="511.44" cy="398.50" r="1.0" fill="#3c3c3c"/><circle cx="514.81" cy="398.78" r="1.0" fill="#3c3c3c"/><circle cx="518.18" cy="398.77" r="1.0" fill="#3c3c3c"/><circle cx="521.55" cy="398.86" r="1.0" fill="#3c3c3c"/><circle cx="524.92" cy="398.76" r="1.0" fill="#3c3c3c"/><circle cx="528.29" cy="398.51" r="1.0" fill="#3c3c3c"/><circle cx="531.66" cy="398.49" r="1.0" fill="#3c3c3c"/><circle cx="535.03" cy="398.44" r="1.0" fill="#3c3c3c"/><circle cx="538.40" cy="398.88" r="1.0" fill="#3c3c3c"/>
<path d="M71.40,457.30h32.4" stroke="#5b3f9e" stroke-width="2.0"/>
<path d="M87.60,450.50L91.60,457.30L87.60,464.10L83.60,457.30Z" fill="none" stroke="#5b3f9e" stroke-width="2.0"/>
<text transform="translate(106.80,461.80) scale(1,1.2)" class="lg">t1=1</text>
<path d="M143.00,457.30h32.4" stroke="#cf1f2a" stroke-width="2.0"/>
<polygon points="159.20,450.70 160.90,455.35 165.86,455.54 161.96,458.60 163.31,463.36 159.20,460.60 155.09,463.36 156.44,458.60 152.54,455.54 157.50,455.35" fill="#cf1f2a"/>
<text transform="translate(178.40,461.80) scale(1,1.2)" class="lg">t1=2</text>
<path d="M215.80,457.30h32.4" stroke="#2865bb" stroke-width="2.0"/>
<circle cx="232.00" cy="457.30" r="4.0" fill="none" stroke="#2865bb" stroke-width="2.0"/>
<text transform="translate(251.20,461.80) scale(1,1.2)" class="lg">t1=3</text>
<path d="M287.60,457.30h32.4" stroke="#e07b2a" stroke-width="2.0"/>
<rect x="300.20" y="453.90" width="7.2" height="6.8" fill="none" stroke="#e07b2a" stroke-width="2.0"/>
<text transform="translate(323.00,461.80) scale(1,1.2)" class="lg">t1=4</text>
<path d="M359.00,457.30h32.4" stroke="#2e9440" stroke-width="2.0"/>
<path d="M379.80,457.30L370.60,451.70L370.60,462.90Z" fill="none" stroke="#2e9440" stroke-width="2.0"/>
<text transform="translate(394.40,461.80) scale(1,1.2)" class="lg">t1=5</text>
<path d="M431.80,457.30h32.4" stroke="#3c3c3c" stroke-width="2.0"/>
<path d="M443.40,457.30L452.60,451.70L452.60,462.90Z" fill="none" stroke="#3c3c3c" stroke-width="2.0"/>
<text transform="translate(467.20,461.80) scale(1,1.2)" class="lg">t1=6</text>
</svg></body></html>
